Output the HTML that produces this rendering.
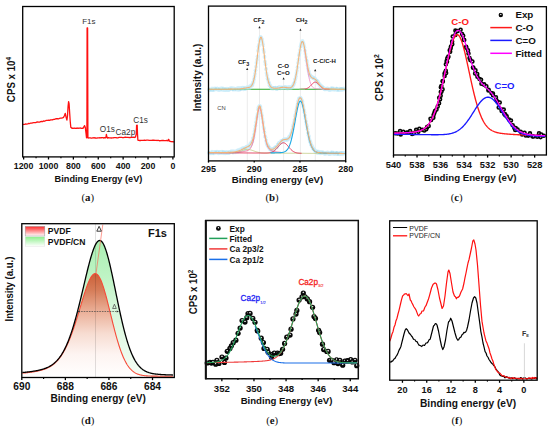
<!DOCTYPE html><html><head><meta charset="utf-8"><style>html,body{margin:0;padding:0;background:#fff;}svg{display:block;}</style></head><body><svg width="550" height="430" viewBox="0 0 550 430">
<rect width="550" height="430" fill="#fff"/>
<polyline points="22.7,124.59 23.7,124.32 24.69,124.46 25.68,123.94 26.68,124.05 27.67,123.78 28.67,123.43 29.66,123.53 30.66,123.08 31.66,123.15 32.65,122.77 33.64,122.61 34.64,122.64 35.63,122.72 36.63,122.13 37.62,122.02 38.62,122.1 39.61,122.12 40.61,121.73 41.6,121.46 42.6,121.64 43.59,120.91 44.59,121.23 45.58,120.72 46.58,120.47 47.57,120.28 48.57,120.23 49.56,120.37 50.56,119.82 51.55,119.89 52.55,119.76 53.55,119.43 54.54,119.37 55.53,118.91 56.53,118.74 57.53,118.66 58.52,118.78 59.52,118.46 60.51,118.22 61.5,118.22 62.5,117.97 63.5,117.4 64.4,115.8 65.3,113.3 66,116.8 66.9,120.2 67.5,116 68.1,106 68.6,101.6 69.1,104 69.6,112 70.2,121 70.8,127.2 72,128.3 72.2,128.1 72.75,128.35 73.3,128.3 73.85,128.07 74.4,128.24 74.95,128.21 75.5,128.39 76.05,128.31 76.6,128.09 77.15,128.44 77.7,128.01 78.25,128.16 78.8,128.33 79.35,128.03 79.9,128.19 80.45,127.97 81,128.28 81.55,128.33 82.1,128.24 82.65,128.39 83.2,128.11 84,126.6 84.6,125.6 85.3,127.5 86.1,134 86.5,137.6 86.9,137.8 87.1,28 87.6,28 87.9,137.8 88.2,138 88.93,137.95 89.66,137.94 90.39,137.88 91.12,138.07 91.85,138.12 92.58,137.89 93.3,137.98 94.03,137.68 94.76,138 95.49,137.97 96.22,138.15 96.95,138.06 97.68,137.79 98.41,137.84 99.14,137.98 99.87,137.66 100.6,137.88 101.33,137.73 102.05,137.71 102.78,137.68 103.51,138.03 104.24,137.71 104.97,137.77 105.7,137.85 106.1,136.5 106.4,134.4 106.8,136.8 107.3,137.9 107.5,138.09 108.44,137.67 109.38,137.83 110.32,137.86 111.27,138.01 112.21,137.96 113.15,137.96 114.09,137.64 115.03,137.69 115.97,137.64 116.91,137.88 117.86,137.9 118.8,137.47 119.74,137.47 120.68,137.47 121.62,137.45 122.56,137.56 123.5,137.59 124.44,137.4 125.39,137.25 126.33,137.44 127.27,137.4 128.21,137.47 129.15,137.65 130.09,137.49 131.03,137.38 131.98,137.41 132.92,137.42 133.86,137.09 134.8,137.49 135.5,137 136.3,134 136.6,125.3 137.2,125.1 137.5,134 137.9,140.2 138.5,140.44 139.68,140.5 140.86,140.48 142.04,140.29 143.22,140.31 144.4,140.18 145.58,140.46 146.76,140.19 147.94,140.21 149.12,140.3 150.3,140.29 151.48,140.39 152.66,140.27 153.84,140.25 155.02,140.35 156.2,140.34 157.38,140.48 158.56,140.33 159.74,140.77 160.92,140.66 162.1,140.44 163.28,140.51 164.46,140.57 165.64,140.59 166.82,140.49 168,140.87 168.5,139.3 168.9,139.6 169.4,141.2 171,141.5 174.2,141.8" fill="none" stroke="#ff1010" stroke-width="1.3" stroke-linejoin="round" />
<rect x="22.7" y="6.5" width="151.5" height="150.4" fill="none" stroke="#000" stroke-width="1.3"/>
<line x1="23.62" y1="156.9" x2="23.62" y2="159.5" stroke="#000" stroke-width="1.3" />
<line x1="48.5" y1="156.9" x2="48.5" y2="159.5" stroke="#000" stroke-width="1.3" />
<line x1="73.38" y1="156.9" x2="73.38" y2="159.5" stroke="#000" stroke-width="1.3" />
<line x1="98.26" y1="156.9" x2="98.26" y2="159.5" stroke="#000" stroke-width="1.3" />
<line x1="123.14" y1="156.9" x2="123.14" y2="159.5" stroke="#000" stroke-width="1.3" />
<line x1="148.02" y1="156.9" x2="148.02" y2="159.5" stroke="#000" stroke-width="1.3" />
<line x1="172.9" y1="156.9" x2="172.9" y2="159.5" stroke="#000" stroke-width="1.3" />
<line x1="36.06" y1="156.9" x2="36.06" y2="158.3" stroke="#000" stroke-width="1.1700000000000002" />
<line x1="60.94" y1="156.9" x2="60.94" y2="158.3" stroke="#000" stroke-width="1.1700000000000002" />
<line x1="85.82" y1="156.9" x2="85.82" y2="158.3" stroke="#000" stroke-width="1.1700000000000002" />
<line x1="110.7" y1="156.9" x2="110.7" y2="158.3" stroke="#000" stroke-width="1.1700000000000002" />
<line x1="135.58" y1="156.9" x2="135.58" y2="158.3" stroke="#000" stroke-width="1.1700000000000002" />
<line x1="160.46" y1="156.9" x2="160.46" y2="158.3" stroke="#000" stroke-width="1.1700000000000002" />
<text x="23.62" y="169" font-family="Liberation Sans, sans-serif" font-size="8.8" font-weight="bold" fill="#111" text-anchor="middle" >1200</text>
<text x="48.5" y="169" font-family="Liberation Sans, sans-serif" font-size="8.8" font-weight="bold" fill="#111" text-anchor="middle" >1000</text>
<text x="73.38" y="169" font-family="Liberation Sans, sans-serif" font-size="8.8" font-weight="bold" fill="#111" text-anchor="middle" >800</text>
<text x="98.26" y="169" font-family="Liberation Sans, sans-serif" font-size="8.8" font-weight="bold" fill="#111" text-anchor="middle" >600</text>
<text x="123.14" y="169" font-family="Liberation Sans, sans-serif" font-size="8.8" font-weight="bold" fill="#111" text-anchor="middle" >400</text>
<text x="148.02" y="169" font-family="Liberation Sans, sans-serif" font-size="8.8" font-weight="bold" fill="#111" text-anchor="middle" >200</text>
<text x="172.9" y="169" font-family="Liberation Sans, sans-serif" font-size="8.8" font-weight="bold" fill="#111" text-anchor="middle" >0</text>
<text x="98.5" y="182.3" font-family="Liberation Sans, sans-serif" font-size="9.2" font-weight="bold" fill="#111" text-anchor="middle" >Binding Energy (eV)</text>
<text x="0" y="0" transform="translate(14.6 79.5) rotate(-90) scale(1 1.06)" font-family="Liberation Sans, sans-serif" font-size="9.75" font-weight="bold" fill="#111" text-anchor="middle" >CPS x 10<tspan font-size="6.5" dy="-3.6">4</tspan></text>
<text x="88.8" y="24.1" font-family="Liberation Sans, sans-serif" font-size="8.0" font-weight="normal" fill="#333" text-anchor="middle" >F1s</text>
<text x="107.3" y="132.3" font-family="Liberation Sans, sans-serif" font-size="8.2" font-weight="normal" fill="#333" text-anchor="middle" >O1s</text>
<text x="125.4" y="135.2" font-family="Liberation Sans, sans-serif" font-size="8.2" font-weight="normal" fill="#333" text-anchor="middle" >Ca2p</text>
<text x="140.5" y="122.8" font-family="Liberation Sans, sans-serif" font-size="8.2" font-weight="normal" fill="#333" text-anchor="middle" >C1s</text>
<line x1="247.3" y1="69" x2="247.3" y2="160.9" stroke="#dedede" stroke-width="0.6" />
<line x1="259.5" y1="28" x2="259.5" y2="160.9" stroke="#dedede" stroke-width="0.6" />
<line x1="283.6" y1="79" x2="283.6" y2="160.9" stroke="#dedede" stroke-width="0.6" />
<line x1="300.4" y1="30" x2="300.4" y2="160.9" stroke="#dedede" stroke-width="0.6" />
<line x1="315.3" y1="71" x2="315.3" y2="160.9" stroke="#dedede" stroke-width="0.6" />
<line x1="209.1" y1="89.3" x2="345.1" y2="89.3" stroke="#48b848" stroke-width="1.0" />
<circle cx="209" cy="89.45" r="1.9" fill="#cdeefa" opacity="0.8"/>
<circle cx="209.5" cy="89.67" r="1.9" fill="#cdeefa" opacity="0.8"/>
<circle cx="210" cy="89.76" r="1.9" fill="#cdeefa" opacity="0.8"/>
<circle cx="210.5" cy="90.03" r="1.9" fill="#cdeefa" opacity="0.8"/>
<circle cx="211" cy="89.66" r="1.9" fill="#cdeefa" opacity="0.8"/>
<circle cx="211.5" cy="89.99" r="1.9" fill="#cdeefa" opacity="0.8"/>
<circle cx="212" cy="88.38" r="1.9" fill="#cdeefa" opacity="0.8"/>
<circle cx="212.5" cy="89.16" r="1.9" fill="#cdeefa" opacity="0.8"/>
<circle cx="213" cy="90.02" r="1.9" fill="#cdeefa" opacity="0.8"/>
<circle cx="213.5" cy="89.49" r="1.9" fill="#cdeefa" opacity="0.8"/>
<circle cx="214" cy="89.94" r="1.9" fill="#cdeefa" opacity="0.8"/>
<circle cx="214.5" cy="88.52" r="1.9" fill="#cdeefa" opacity="0.8"/>
<circle cx="215" cy="89.16" r="1.9" fill="#cdeefa" opacity="0.8"/>
<circle cx="215.5" cy="88.76" r="1.9" fill="#cdeefa" opacity="0.8"/>
<circle cx="216" cy="89.29" r="1.9" fill="#cdeefa" opacity="0.8"/>
<circle cx="216.5" cy="89.34" r="1.9" fill="#cdeefa" opacity="0.8"/>
<circle cx="217" cy="88.33" r="1.9" fill="#cdeefa" opacity="0.8"/>
<circle cx="217.5" cy="88.7" r="1.9" fill="#cdeefa" opacity="0.8"/>
<circle cx="218" cy="88.81" r="1.9" fill="#cdeefa" opacity="0.8"/>
<circle cx="218.5" cy="89.95" r="1.9" fill="#cdeefa" opacity="0.8"/>
<circle cx="219" cy="89.68" r="1.9" fill="#cdeefa" opacity="0.8"/>
<circle cx="219.5" cy="88.59" r="1.9" fill="#cdeefa" opacity="0.8"/>
<circle cx="220" cy="89.73" r="1.9" fill="#cdeefa" opacity="0.8"/>
<circle cx="220.5" cy="88.54" r="1.9" fill="#cdeefa" opacity="0.8"/>
<circle cx="221" cy="89.4" r="1.9" fill="#cdeefa" opacity="0.8"/>
<circle cx="221.5" cy="88.52" r="1.9" fill="#cdeefa" opacity="0.8"/>
<circle cx="222" cy="88.29" r="1.9" fill="#cdeefa" opacity="0.8"/>
<circle cx="222.5" cy="89.85" r="1.9" fill="#cdeefa" opacity="0.8"/>
<circle cx="223" cy="88.66" r="1.9" fill="#cdeefa" opacity="0.8"/>
<circle cx="223.5" cy="88.67" r="1.9" fill="#cdeefa" opacity="0.8"/>
<circle cx="224" cy="90.04" r="1.9" fill="#cdeefa" opacity="0.8"/>
<circle cx="224.5" cy="89.84" r="1.9" fill="#cdeefa" opacity="0.8"/>
<circle cx="225" cy="88.79" r="1.9" fill="#cdeefa" opacity="0.8"/>
<circle cx="225.5" cy="90" r="1.9" fill="#cdeefa" opacity="0.8"/>
<circle cx="226" cy="89.23" r="1.9" fill="#cdeefa" opacity="0.8"/>
<circle cx="226.5" cy="89.48" r="1.9" fill="#cdeefa" opacity="0.8"/>
<circle cx="227" cy="88.62" r="1.9" fill="#cdeefa" opacity="0.8"/>
<circle cx="227.5" cy="89.94" r="1.9" fill="#cdeefa" opacity="0.8"/>
<circle cx="228" cy="89.49" r="1.9" fill="#cdeefa" opacity="0.8"/>
<circle cx="228.5" cy="89.98" r="1.9" fill="#cdeefa" opacity="0.8"/>
<circle cx="229" cy="89.85" r="1.9" fill="#cdeefa" opacity="0.8"/>
<circle cx="229.5" cy="88.77" r="1.9" fill="#cdeefa" opacity="0.8"/>
<circle cx="230" cy="88.88" r="1.9" fill="#cdeefa" opacity="0.8"/>
<circle cx="230.5" cy="88.52" r="1.9" fill="#cdeefa" opacity="0.8"/>
<circle cx="231" cy="88.48" r="1.9" fill="#cdeefa" opacity="0.8"/>
<circle cx="231.5" cy="88.33" r="1.9" fill="#cdeefa" opacity="0.8"/>
<circle cx="232" cy="88.75" r="1.9" fill="#cdeefa" opacity="0.8"/>
<circle cx="232.5" cy="89.28" r="1.9" fill="#cdeefa" opacity="0.8"/>
<circle cx="233" cy="88.2" r="1.9" fill="#cdeefa" opacity="0.8"/>
<circle cx="233.5" cy="89.4" r="1.9" fill="#cdeefa" opacity="0.8"/>
<circle cx="234" cy="88.78" r="1.9" fill="#cdeefa" opacity="0.8"/>
<circle cx="234.5" cy="88.73" r="1.9" fill="#cdeefa" opacity="0.8"/>
<circle cx="235" cy="89.63" r="1.9" fill="#cdeefa" opacity="0.8"/>
<circle cx="235.5" cy="89.02" r="1.9" fill="#cdeefa" opacity="0.8"/>
<circle cx="236" cy="88.71" r="1.9" fill="#cdeefa" opacity="0.8"/>
<circle cx="236.5" cy="89" r="1.9" fill="#cdeefa" opacity="0.8"/>
<circle cx="237" cy="89.38" r="1.9" fill="#cdeefa" opacity="0.8"/>
<circle cx="237.5" cy="88.2" r="1.9" fill="#cdeefa" opacity="0.8"/>
<circle cx="238" cy="89.84" r="1.9" fill="#cdeefa" opacity="0.8"/>
<circle cx="238.5" cy="88.11" r="1.9" fill="#cdeefa" opacity="0.8"/>
<circle cx="239" cy="89.39" r="1.9" fill="#cdeefa" opacity="0.8"/>
<circle cx="239.5" cy="89.53" r="1.9" fill="#cdeefa" opacity="0.8"/>
<circle cx="240" cy="88.01" r="1.9" fill="#cdeefa" opacity="0.8"/>
<circle cx="240.5" cy="89.35" r="1.9" fill="#cdeefa" opacity="0.8"/>
<circle cx="241" cy="88.54" r="1.9" fill="#cdeefa" opacity="0.8"/>
<circle cx="241.5" cy="88.87" r="1.9" fill="#cdeefa" opacity="0.8"/>
<circle cx="242" cy="87.78" r="1.9" fill="#cdeefa" opacity="0.8"/>
<circle cx="242.5" cy="87.77" r="1.9" fill="#cdeefa" opacity="0.8"/>
<circle cx="243" cy="87.92" r="1.9" fill="#cdeefa" opacity="0.8"/>
<circle cx="243.5" cy="89.23" r="1.9" fill="#cdeefa" opacity="0.8"/>
<circle cx="244" cy="87.76" r="1.9" fill="#cdeefa" opacity="0.8"/>
<circle cx="244.5" cy="88.67" r="1.9" fill="#cdeefa" opacity="0.8"/>
<circle cx="245" cy="88.88" r="1.9" fill="#cdeefa" opacity="0.8"/>
<circle cx="245.5" cy="88.8" r="1.9" fill="#cdeefa" opacity="0.8"/>
<circle cx="246" cy="87.63" r="1.9" fill="#cdeefa" opacity="0.8"/>
<circle cx="246.5" cy="87.56" r="1.9" fill="#cdeefa" opacity="0.8"/>
<circle cx="247" cy="87.78" r="1.9" fill="#cdeefa" opacity="0.8"/>
<circle cx="247.5" cy="88.15" r="1.9" fill="#cdeefa" opacity="0.8"/>
<circle cx="248" cy="86.87" r="1.9" fill="#cdeefa" opacity="0.8"/>
<circle cx="248.5" cy="87.93" r="1.9" fill="#cdeefa" opacity="0.8"/>
<circle cx="249" cy="87.9" r="1.9" fill="#cdeefa" opacity="0.8"/>
<circle cx="249.5" cy="87.86" r="1.9" fill="#cdeefa" opacity="0.8"/>
<circle cx="250" cy="86.17" r="1.9" fill="#cdeefa" opacity="0.8"/>
<circle cx="250.5" cy="87.51" r="1.9" fill="#cdeefa" opacity="0.8"/>
<circle cx="251" cy="85.56" r="1.9" fill="#cdeefa" opacity="0.8"/>
<circle cx="251.5" cy="85.45" r="1.9" fill="#cdeefa" opacity="0.8"/>
<circle cx="252" cy="85.18" r="1.9" fill="#cdeefa" opacity="0.8"/>
<circle cx="252.5" cy="84.74" r="1.9" fill="#cdeefa" opacity="0.8"/>
<circle cx="253" cy="82.43" r="1.9" fill="#cdeefa" opacity="0.8"/>
<circle cx="253.5" cy="81.88" r="1.9" fill="#cdeefa" opacity="0.8"/>
<circle cx="254" cy="79.24" r="1.9" fill="#cdeefa" opacity="0.8"/>
<circle cx="254.5" cy="76.47" r="1.9" fill="#cdeefa" opacity="0.8"/>
<circle cx="255" cy="73.73" r="1.9" fill="#cdeefa" opacity="0.8"/>
<circle cx="255.5" cy="70.33" r="1.9" fill="#cdeefa" opacity="0.8"/>
<circle cx="256" cy="66.63" r="1.9" fill="#cdeefa" opacity="0.8"/>
<circle cx="256.5" cy="62.94" r="1.9" fill="#cdeefa" opacity="0.8"/>
<circle cx="257" cy="59.87" r="1.9" fill="#cdeefa" opacity="0.8"/>
<circle cx="257.5" cy="56.28" r="1.9" fill="#cdeefa" opacity="0.8"/>
<circle cx="258" cy="50.67" r="1.9" fill="#cdeefa" opacity="0.8"/>
<circle cx="258.5" cy="46.57" r="1.9" fill="#cdeefa" opacity="0.8"/>
<circle cx="259" cy="44.75" r="1.9" fill="#cdeefa" opacity="0.8"/>
<circle cx="259.5" cy="41" r="1.9" fill="#cdeefa" opacity="0.8"/>
<circle cx="260" cy="38.58" r="1.9" fill="#cdeefa" opacity="0.8"/>
<circle cx="260.5" cy="36.99" r="1.9" fill="#cdeefa" opacity="0.8"/>
<circle cx="261" cy="37.32" r="1.9" fill="#cdeefa" opacity="0.8"/>
<circle cx="261.5" cy="38.45" r="1.9" fill="#cdeefa" opacity="0.8"/>
<circle cx="262" cy="39.44" r="1.9" fill="#cdeefa" opacity="0.8"/>
<circle cx="262.5" cy="41.89" r="1.9" fill="#cdeefa" opacity="0.8"/>
<circle cx="263" cy="44.41" r="1.9" fill="#cdeefa" opacity="0.8"/>
<circle cx="263.5" cy="49.65" r="1.9" fill="#cdeefa" opacity="0.8"/>
<circle cx="264" cy="52.06" r="1.9" fill="#cdeefa" opacity="0.8"/>
<circle cx="264.5" cy="57.03" r="1.9" fill="#cdeefa" opacity="0.8"/>
<circle cx="265" cy="61.77" r="1.9" fill="#cdeefa" opacity="0.8"/>
<circle cx="265.5" cy="64.46" r="1.9" fill="#cdeefa" opacity="0.8"/>
<circle cx="266" cy="69.26" r="1.9" fill="#cdeefa" opacity="0.8"/>
<circle cx="266.5" cy="73.04" r="1.9" fill="#cdeefa" opacity="0.8"/>
<circle cx="267" cy="75.48" r="1.9" fill="#cdeefa" opacity="0.8"/>
<circle cx="267.5" cy="78.38" r="1.9" fill="#cdeefa" opacity="0.8"/>
<circle cx="268" cy="79.38" r="1.9" fill="#cdeefa" opacity="0.8"/>
<circle cx="268.5" cy="81.82" r="1.9" fill="#cdeefa" opacity="0.8"/>
<circle cx="269" cy="82.81" r="1.9" fill="#cdeefa" opacity="0.8"/>
<circle cx="269.5" cy="85.27" r="1.9" fill="#cdeefa" opacity="0.8"/>
<circle cx="270" cy="85.23" r="1.9" fill="#cdeefa" opacity="0.8"/>
<circle cx="270.5" cy="86.25" r="1.9" fill="#cdeefa" opacity="0.8"/>
<circle cx="271" cy="87.79" r="1.9" fill="#cdeefa" opacity="0.8"/>
<circle cx="271.5" cy="87.95" r="1.9" fill="#cdeefa" opacity="0.8"/>
<circle cx="272" cy="88.48" r="1.9" fill="#cdeefa" opacity="0.8"/>
<circle cx="272.5" cy="87.77" r="1.9" fill="#cdeefa" opacity="0.8"/>
<circle cx="273" cy="87.99" r="1.9" fill="#cdeefa" opacity="0.8"/>
<circle cx="273.5" cy="88.54" r="1.9" fill="#cdeefa" opacity="0.8"/>
<circle cx="274" cy="88.16" r="1.9" fill="#cdeefa" opacity="0.8"/>
<circle cx="274.5" cy="87.87" r="1.9" fill="#cdeefa" opacity="0.8"/>
<circle cx="275" cy="88.09" r="1.9" fill="#cdeefa" opacity="0.8"/>
<circle cx="275.5" cy="87.63" r="1.9" fill="#cdeefa" opacity="0.8"/>
<circle cx="276" cy="88.03" r="1.9" fill="#cdeefa" opacity="0.8"/>
<circle cx="276.5" cy="89.1" r="1.9" fill="#cdeefa" opacity="0.8"/>
<circle cx="277" cy="89.01" r="1.9" fill="#cdeefa" opacity="0.8"/>
<circle cx="277.5" cy="88.35" r="1.9" fill="#cdeefa" opacity="0.8"/>
<circle cx="278" cy="88.06" r="1.9" fill="#cdeefa" opacity="0.8"/>
<circle cx="278.5" cy="87.69" r="1.9" fill="#cdeefa" opacity="0.8"/>
<circle cx="279" cy="87.16" r="1.9" fill="#cdeefa" opacity="0.8"/>
<circle cx="279.5" cy="87.41" r="1.9" fill="#cdeefa" opacity="0.8"/>
<circle cx="280" cy="88.24" r="1.9" fill="#cdeefa" opacity="0.8"/>
<circle cx="280.5" cy="88.3" r="1.9" fill="#cdeefa" opacity="0.8"/>
<circle cx="281" cy="87.31" r="1.9" fill="#cdeefa" opacity="0.8"/>
<circle cx="281.5" cy="88" r="1.9" fill="#cdeefa" opacity="0.8"/>
<circle cx="282" cy="87.92" r="1.9" fill="#cdeefa" opacity="0.8"/>
<circle cx="282.5" cy="87.73" r="1.9" fill="#cdeefa" opacity="0.8"/>
<circle cx="283" cy="87.64" r="1.9" fill="#cdeefa" opacity="0.8"/>
<circle cx="283.5" cy="87.8" r="1.9" fill="#cdeefa" opacity="0.8"/>
<circle cx="284" cy="87.09" r="1.9" fill="#cdeefa" opacity="0.8"/>
<circle cx="284.5" cy="87.72" r="1.9" fill="#cdeefa" opacity="0.8"/>
<circle cx="285" cy="86.99" r="1.9" fill="#cdeefa" opacity="0.8"/>
<circle cx="285.5" cy="87.41" r="1.9" fill="#cdeefa" opacity="0.8"/>
<circle cx="286" cy="87.98" r="1.9" fill="#cdeefa" opacity="0.8"/>
<circle cx="286.5" cy="87.91" r="1.9" fill="#cdeefa" opacity="0.8"/>
<circle cx="287" cy="87.26" r="1.9" fill="#cdeefa" opacity="0.8"/>
<circle cx="287.5" cy="88.5" r="1.9" fill="#cdeefa" opacity="0.8"/>
<circle cx="288" cy="88.02" r="1.9" fill="#cdeefa" opacity="0.8"/>
<circle cx="288.5" cy="87.94" r="1.9" fill="#cdeefa" opacity="0.8"/>
<circle cx="289" cy="86.93" r="1.9" fill="#cdeefa" opacity="0.8"/>
<circle cx="289.5" cy="87.88" r="1.9" fill="#cdeefa" opacity="0.8"/>
<circle cx="290" cy="87.28" r="1.9" fill="#cdeefa" opacity="0.8"/>
<circle cx="290.5" cy="87.92" r="1.9" fill="#cdeefa" opacity="0.8"/>
<circle cx="291" cy="87.34" r="1.9" fill="#cdeefa" opacity="0.8"/>
<circle cx="291.5" cy="87.69" r="1.9" fill="#cdeefa" opacity="0.8"/>
<circle cx="292" cy="86.97" r="1.9" fill="#cdeefa" opacity="0.8"/>
<circle cx="292.5" cy="86.67" r="1.9" fill="#cdeefa" opacity="0.8"/>
<circle cx="293" cy="85.12" r="1.9" fill="#cdeefa" opacity="0.8"/>
<circle cx="293.5" cy="84.7" r="1.9" fill="#cdeefa" opacity="0.8"/>
<circle cx="294" cy="83.67" r="1.9" fill="#cdeefa" opacity="0.8"/>
<circle cx="294.5" cy="82.37" r="1.9" fill="#cdeefa" opacity="0.8"/>
<circle cx="295" cy="79.73" r="1.9" fill="#cdeefa" opacity="0.8"/>
<circle cx="295.5" cy="78.53" r="1.9" fill="#cdeefa" opacity="0.8"/>
<circle cx="296" cy="76.16" r="1.9" fill="#cdeefa" opacity="0.8"/>
<circle cx="296.5" cy="73.1" r="1.9" fill="#cdeefa" opacity="0.8"/>
<circle cx="297" cy="70.59" r="1.9" fill="#cdeefa" opacity="0.8"/>
<circle cx="297.5" cy="67.28" r="1.9" fill="#cdeefa" opacity="0.8"/>
<circle cx="298" cy="63.02" r="1.9" fill="#cdeefa" opacity="0.8"/>
<circle cx="298.5" cy="59.48" r="1.9" fill="#cdeefa" opacity="0.8"/>
<circle cx="299" cy="55.27" r="1.9" fill="#cdeefa" opacity="0.8"/>
<circle cx="299.5" cy="53.05" r="1.9" fill="#cdeefa" opacity="0.8"/>
<circle cx="300" cy="50.06" r="1.9" fill="#cdeefa" opacity="0.8"/>
<circle cx="300.5" cy="46.44" r="1.9" fill="#cdeefa" opacity="0.8"/>
<circle cx="301" cy="44.56" r="1.9" fill="#cdeefa" opacity="0.8"/>
<circle cx="301.5" cy="42.96" r="1.9" fill="#cdeefa" opacity="0.8"/>
<circle cx="302" cy="42.05" r="1.9" fill="#cdeefa" opacity="0.8"/>
<circle cx="302.5" cy="40.88" r="1.9" fill="#cdeefa" opacity="0.8"/>
<circle cx="303" cy="42.56" r="1.9" fill="#cdeefa" opacity="0.8"/>
<circle cx="303.5" cy="43.51" r="1.9" fill="#cdeefa" opacity="0.8"/>
<circle cx="304" cy="45.59" r="1.9" fill="#cdeefa" opacity="0.8"/>
<circle cx="304.5" cy="47.59" r="1.9" fill="#cdeefa" opacity="0.8"/>
<circle cx="305" cy="50.78" r="1.9" fill="#cdeefa" opacity="0.8"/>
<circle cx="305.5" cy="54.11" r="1.9" fill="#cdeefa" opacity="0.8"/>
<circle cx="306" cy="57.03" r="1.9" fill="#cdeefa" opacity="0.8"/>
<circle cx="306.5" cy="60.33" r="1.9" fill="#cdeefa" opacity="0.8"/>
<circle cx="307" cy="62.11" r="1.9" fill="#cdeefa" opacity="0.8"/>
<circle cx="307.5" cy="65.17" r="1.9" fill="#cdeefa" opacity="0.8"/>
<circle cx="308" cy="68.21" r="1.9" fill="#cdeefa" opacity="0.8"/>
<circle cx="308.5" cy="70.81" r="1.9" fill="#cdeefa" opacity="0.8"/>
<circle cx="309" cy="71.93" r="1.9" fill="#cdeefa" opacity="0.8"/>
<circle cx="309.5" cy="74.32" r="1.9" fill="#cdeefa" opacity="0.8"/>
<circle cx="310" cy="75.46" r="1.9" fill="#cdeefa" opacity="0.8"/>
<circle cx="310.5" cy="75.36" r="1.9" fill="#cdeefa" opacity="0.8"/>
<circle cx="311" cy="76.84" r="1.9" fill="#cdeefa" opacity="0.8"/>
<circle cx="311.5" cy="76.91" r="1.9" fill="#cdeefa" opacity="0.8"/>
<circle cx="312" cy="76.96" r="1.9" fill="#cdeefa" opacity="0.8"/>
<circle cx="312.5" cy="77.37" r="1.9" fill="#cdeefa" opacity="0.8"/>
<circle cx="313" cy="77.91" r="1.9" fill="#cdeefa" opacity="0.8"/>
<circle cx="313.5" cy="77.86" r="1.9" fill="#cdeefa" opacity="0.8"/>
<circle cx="314" cy="78.09" r="1.9" fill="#cdeefa" opacity="0.8"/>
<circle cx="314.5" cy="78.07" r="1.9" fill="#cdeefa" opacity="0.8"/>
<circle cx="315" cy="79.17" r="1.9" fill="#cdeefa" opacity="0.8"/>
<circle cx="315.5" cy="79.42" r="1.9" fill="#cdeefa" opacity="0.8"/>
<circle cx="316" cy="80.33" r="1.9" fill="#cdeefa" opacity="0.8"/>
<circle cx="316.5" cy="80.85" r="1.9" fill="#cdeefa" opacity="0.8"/>
<circle cx="317" cy="80.84" r="1.9" fill="#cdeefa" opacity="0.8"/>
<circle cx="317.5" cy="82.7" r="1.9" fill="#cdeefa" opacity="0.8"/>
<circle cx="318" cy="81.77" r="1.9" fill="#cdeefa" opacity="0.8"/>
<circle cx="318.5" cy="83.19" r="1.9" fill="#cdeefa" opacity="0.8"/>
<circle cx="319" cy="83.65" r="1.9" fill="#cdeefa" opacity="0.8"/>
<circle cx="319.5" cy="84.55" r="1.9" fill="#cdeefa" opacity="0.8"/>
<circle cx="320" cy="84.65" r="1.9" fill="#cdeefa" opacity="0.8"/>
<circle cx="320.5" cy="86.51" r="1.9" fill="#cdeefa" opacity="0.8"/>
<circle cx="321" cy="86.21" r="1.9" fill="#cdeefa" opacity="0.8"/>
<circle cx="321.5" cy="86.07" r="1.9" fill="#cdeefa" opacity="0.8"/>
<circle cx="322" cy="87.51" r="1.9" fill="#cdeefa" opacity="0.8"/>
<circle cx="322.5" cy="86.92" r="1.9" fill="#cdeefa" opacity="0.8"/>
<circle cx="323" cy="88.02" r="1.9" fill="#cdeefa" opacity="0.8"/>
<circle cx="323.5" cy="87.89" r="1.9" fill="#cdeefa" opacity="0.8"/>
<circle cx="324" cy="88.52" r="1.9" fill="#cdeefa" opacity="0.8"/>
<circle cx="324.5" cy="89.36" r="1.9" fill="#cdeefa" opacity="0.8"/>
<circle cx="325" cy="89.23" r="1.9" fill="#cdeefa" opacity="0.8"/>
<circle cx="325.5" cy="88.61" r="1.9" fill="#cdeefa" opacity="0.8"/>
<circle cx="326" cy="89.4" r="1.9" fill="#cdeefa" opacity="0.8"/>
<circle cx="326.5" cy="89.15" r="1.9" fill="#cdeefa" opacity="0.8"/>
<circle cx="327" cy="88.71" r="1.9" fill="#cdeefa" opacity="0.8"/>
<circle cx="327.5" cy="88.33" r="1.9" fill="#cdeefa" opacity="0.8"/>
<circle cx="328" cy="89.18" r="1.9" fill="#cdeefa" opacity="0.8"/>
<circle cx="328.5" cy="89.14" r="1.9" fill="#cdeefa" opacity="0.8"/>
<circle cx="329" cy="89.87" r="1.9" fill="#cdeefa" opacity="0.8"/>
<circle cx="329.5" cy="89.9" r="1.9" fill="#cdeefa" opacity="0.8"/>
<circle cx="330" cy="89.27" r="1.9" fill="#cdeefa" opacity="0.8"/>
<circle cx="330.5" cy="88.81" r="1.9" fill="#cdeefa" opacity="0.8"/>
<circle cx="331" cy="89.8" r="1.9" fill="#cdeefa" opacity="0.8"/>
<circle cx="331.5" cy="88.2" r="1.9" fill="#cdeefa" opacity="0.8"/>
<circle cx="332" cy="88.4" r="1.9" fill="#cdeefa" opacity="0.8"/>
<circle cx="332.5" cy="89.23" r="1.9" fill="#cdeefa" opacity="0.8"/>
<circle cx="333" cy="89.33" r="1.9" fill="#cdeefa" opacity="0.8"/>
<circle cx="333.5" cy="88.48" r="1.9" fill="#cdeefa" opacity="0.8"/>
<circle cx="334" cy="89.36" r="1.9" fill="#cdeefa" opacity="0.8"/>
<circle cx="334.5" cy="89.84" r="1.9" fill="#cdeefa" opacity="0.8"/>
<circle cx="335" cy="88.92" r="1.9" fill="#cdeefa" opacity="0.8"/>
<circle cx="335.5" cy="89.02" r="1.9" fill="#cdeefa" opacity="0.8"/>
<circle cx="336" cy="88.66" r="1.9" fill="#cdeefa" opacity="0.8"/>
<circle cx="336.5" cy="88.78" r="1.9" fill="#cdeefa" opacity="0.8"/>
<circle cx="337" cy="90.01" r="1.9" fill="#cdeefa" opacity="0.8"/>
<circle cx="337.5" cy="88.95" r="1.9" fill="#cdeefa" opacity="0.8"/>
<circle cx="338" cy="90" r="1.9" fill="#cdeefa" opacity="0.8"/>
<circle cx="338.5" cy="89.92" r="1.9" fill="#cdeefa" opacity="0.8"/>
<circle cx="339" cy="89.35" r="1.9" fill="#cdeefa" opacity="0.8"/>
<circle cx="339.5" cy="88.75" r="1.9" fill="#cdeefa" opacity="0.8"/>
<circle cx="340" cy="90.05" r="1.9" fill="#cdeefa" opacity="0.8"/>
<circle cx="340.5" cy="89.18" r="1.9" fill="#cdeefa" opacity="0.8"/>
<circle cx="341" cy="89.04" r="1.9" fill="#cdeefa" opacity="0.8"/>
<circle cx="341.5" cy="88.86" r="1.9" fill="#cdeefa" opacity="0.8"/>
<circle cx="342" cy="90.06" r="1.9" fill="#cdeefa" opacity="0.8"/>
<circle cx="342.5" cy="89.18" r="1.9" fill="#cdeefa" opacity="0.8"/>
<circle cx="343" cy="88.81" r="1.9" fill="#cdeefa" opacity="0.8"/>
<circle cx="343.5" cy="89.16" r="1.9" fill="#cdeefa" opacity="0.8"/>
<circle cx="344" cy="88.52" r="1.9" fill="#cdeefa" opacity="0.8"/>
<circle cx="344.5" cy="89.42" r="1.9" fill="#cdeefa" opacity="0.8"/>
<circle cx="208.93" cy="88.65" r="0.9" fill="#ade0f3" opacity="0.8"/>
<circle cx="210.84" cy="90.14" r="0.9" fill="#ade0f3" opacity="0.8"/>
<circle cx="211.42" cy="89.32" r="0.9" fill="#ade0f3" opacity="0.8"/>
<circle cx="213.23" cy="90.44" r="0.9" fill="#ade0f3" opacity="0.8"/>
<circle cx="215.34" cy="88.5" r="0.9" fill="#ade0f3" opacity="0.8"/>
<circle cx="216.22" cy="88.24" r="0.9" fill="#ade0f3" opacity="0.8"/>
<circle cx="218.59" cy="88.63" r="0.9" fill="#ade0f3" opacity="0.8"/>
<circle cx="219.63" cy="89.13" r="0.9" fill="#ade0f3" opacity="0.8"/>
<circle cx="221.17" cy="89.48" r="0.9" fill="#ade0f3" opacity="0.8"/>
<circle cx="222.79" cy="88.11" r="0.9" fill="#ade0f3" opacity="0.8"/>
<circle cx="224.31" cy="88.62" r="0.9" fill="#ade0f3" opacity="0.8"/>
<circle cx="225.54" cy="88.71" r="0.9" fill="#ade0f3" opacity="0.8"/>
<circle cx="226.76" cy="89.24" r="0.9" fill="#ade0f3" opacity="0.8"/>
<circle cx="228.46" cy="88.75" r="0.9" fill="#ade0f3" opacity="0.8"/>
<circle cx="230.29" cy="89.38" r="0.9" fill="#ade0f3" opacity="0.8"/>
<circle cx="230.94" cy="88.42" r="0.9" fill="#ade0f3" opacity="0.8"/>
<circle cx="232.95" cy="90.26" r="0.9" fill="#ade0f3" opacity="0.8"/>
<circle cx="234.97" cy="89.2" r="0.9" fill="#ade0f3" opacity="0.8"/>
<circle cx="235.42" cy="89.82" r="0.9" fill="#ade0f3" opacity="0.8"/>
<circle cx="237.41" cy="89.21" r="0.9" fill="#ade0f3" opacity="0.8"/>
<circle cx="239.25" cy="89.31" r="0.9" fill="#ade0f3" opacity="0.8"/>
<circle cx="240.48" cy="89.99" r="0.9" fill="#ade0f3" opacity="0.8"/>
<circle cx="241.86" cy="88.36" r="0.9" fill="#ade0f3" opacity="0.8"/>
<circle cx="243.92" cy="87.56" r="0.9" fill="#ade0f3" opacity="0.8"/>
<circle cx="244.76" cy="89.03" r="0.9" fill="#ade0f3" opacity="0.8"/>
<circle cx="245.98" cy="88.76" r="0.9" fill="#ade0f3" opacity="0.8"/>
<circle cx="248.23" cy="87.38" r="0.9" fill="#ade0f3" opacity="0.8"/>
<circle cx="249.24" cy="88" r="0.9" fill="#ade0f3" opacity="0.8"/>
<circle cx="251.49" cy="85.3" r="0.9" fill="#ade0f3" opacity="0.8"/>
<circle cx="252.47" cy="84.13" r="0.9" fill="#ade0f3" opacity="0.8"/>
<circle cx="254" cy="78.69" r="0.9" fill="#ade0f3" opacity="0.8"/>
<circle cx="255.08" cy="71.15" r="0.9" fill="#ade0f3" opacity="0.8"/>
<circle cx="257.37" cy="58.32" r="0.9" fill="#ade0f3" opacity="0.8"/>
<circle cx="258.18" cy="48.28" r="0.9" fill="#ade0f3" opacity="0.8"/>
<circle cx="260.35" cy="39.21" r="0.9" fill="#ade0f3" opacity="0.8"/>
<circle cx="260.93" cy="38.48" r="0.9" fill="#ade0f3" opacity="0.8"/>
<circle cx="263.57" cy="46.61" r="0.9" fill="#ade0f3" opacity="0.8"/>
<circle cx="264.74" cy="55.77" r="0.9" fill="#ade0f3" opacity="0.8"/>
<circle cx="266.41" cy="68.06" r="0.9" fill="#ade0f3" opacity="0.8"/>
<circle cx="267.67" cy="79.13" r="0.9" fill="#ade0f3" opacity="0.8"/>
<circle cx="269.25" cy="82.42" r="0.9" fill="#ade0f3" opacity="0.8"/>
<circle cx="270.25" cy="87.51" r="0.9" fill="#ade0f3" opacity="0.8"/>
<circle cx="271.58" cy="87.93" r="0.9" fill="#ade0f3" opacity="0.8"/>
<circle cx="273.4" cy="87.18" r="0.9" fill="#ade0f3" opacity="0.8"/>
<circle cx="275.15" cy="86.99" r="0.9" fill="#ade0f3" opacity="0.8"/>
<circle cx="276.03" cy="87.89" r="0.9" fill="#ade0f3" opacity="0.8"/>
<circle cx="277.49" cy="86.82" r="0.9" fill="#ade0f3" opacity="0.8"/>
<circle cx="279.59" cy="88.49" r="0.9" fill="#ade0f3" opacity="0.8"/>
<circle cx="281.45" cy="86.54" r="0.9" fill="#ade0f3" opacity="0.8"/>
<circle cx="282.42" cy="86.86" r="0.9" fill="#ade0f3" opacity="0.8"/>
<circle cx="284.12" cy="87.31" r="0.9" fill="#ade0f3" opacity="0.8"/>
<circle cx="286.03" cy="87.08" r="0.9" fill="#ade0f3" opacity="0.8"/>
<circle cx="286.47" cy="88.18" r="0.9" fill="#ade0f3" opacity="0.8"/>
<circle cx="288.08" cy="88.16" r="0.9" fill="#ade0f3" opacity="0.8"/>
<circle cx="290.01" cy="88.88" r="0.9" fill="#ade0f3" opacity="0.8"/>
<circle cx="291.57" cy="87.45" r="0.9" fill="#ade0f3" opacity="0.8"/>
<circle cx="292.72" cy="85.54" r="0.9" fill="#ade0f3" opacity="0.8"/>
<circle cx="294.21" cy="82.48" r="0.9" fill="#ade0f3" opacity="0.8"/>
<circle cx="296.02" cy="74.47" r="0.9" fill="#ade0f3" opacity="0.8"/>
<circle cx="297.18" cy="66.09" r="0.9" fill="#ade0f3" opacity="0.8"/>
<circle cx="299.28" cy="54.98" r="0.9" fill="#ade0f3" opacity="0.8"/>
<circle cx="300.76" cy="46.92" r="0.9" fill="#ade0f3" opacity="0.8"/>
<circle cx="301.5" cy="42.11" r="0.9" fill="#ade0f3" opacity="0.8"/>
<circle cx="303.01" cy="42.31" r="0.9" fill="#ade0f3" opacity="0.8"/>
<circle cx="305.11" cy="49.82" r="0.9" fill="#ade0f3" opacity="0.8"/>
<circle cx="306.95" cy="59.88" r="0.9" fill="#ade0f3" opacity="0.8"/>
<circle cx="307.79" cy="69.15" r="0.9" fill="#ade0f3" opacity="0.8"/>
<circle cx="308.94" cy="74.62" r="0.9" fill="#ade0f3" opacity="0.8"/>
<circle cx="310.46" cy="75.91" r="0.9" fill="#ade0f3" opacity="0.8"/>
<circle cx="313.04" cy="78.54" r="0.9" fill="#ade0f3" opacity="0.8"/>
<circle cx="313.67" cy="77.57" r="0.9" fill="#ade0f3" opacity="0.8"/>
<circle cx="316.07" cy="80.1" r="0.9" fill="#ade0f3" opacity="0.8"/>
<circle cx="317.38" cy="80.3" r="0.9" fill="#ade0f3" opacity="0.8"/>
<circle cx="318.65" cy="82.96" r="0.9" fill="#ade0f3" opacity="0.8"/>
<circle cx="319.68" cy="84.87" r="0.9" fill="#ade0f3" opacity="0.8"/>
<circle cx="321.64" cy="86.48" r="0.9" fill="#ade0f3" opacity="0.8"/>
<circle cx="322.86" cy="86.92" r="0.9" fill="#ade0f3" opacity="0.8"/>
<circle cx="324.9" cy="88.95" r="0.9" fill="#ade0f3" opacity="0.8"/>
<circle cx="326.37" cy="88.65" r="0.9" fill="#ade0f3" opacity="0.8"/>
<circle cx="327.92" cy="89.03" r="0.9" fill="#ade0f3" opacity="0.8"/>
<circle cx="329.11" cy="89.25" r="0.9" fill="#ade0f3" opacity="0.8"/>
<circle cx="330.79" cy="88.79" r="0.9" fill="#ade0f3" opacity="0.8"/>
<circle cx="331.52" cy="87.8" r="0.9" fill="#ade0f3" opacity="0.8"/>
<circle cx="333.14" cy="87.84" r="0.9" fill="#ade0f3" opacity="0.8"/>
<circle cx="335.47" cy="89.09" r="0.9" fill="#ade0f3" opacity="0.8"/>
<circle cx="336.81" cy="87.76" r="0.9" fill="#ade0f3" opacity="0.8"/>
<circle cx="337.96" cy="90.26" r="0.9" fill="#ade0f3" opacity="0.8"/>
<circle cx="339.64" cy="88.98" r="0.9" fill="#ade0f3" opacity="0.8"/>
<circle cx="340.96" cy="88.07" r="0.9" fill="#ade0f3" opacity="0.8"/>
<circle cx="342.09" cy="88.24" r="0.9" fill="#ade0f3" opacity="0.8"/>
<circle cx="343.85" cy="88.88" r="0.9" fill="#ade0f3" opacity="0.8"/>
<circle cx="209" cy="152.74" r="1.9" fill="#cdeefa" opacity="0.8"/>
<circle cx="209.5" cy="152.96" r="1.9" fill="#cdeefa" opacity="0.8"/>
<circle cx="210" cy="153.05" r="1.9" fill="#cdeefa" opacity="0.8"/>
<circle cx="210.5" cy="153.32" r="1.9" fill="#cdeefa" opacity="0.8"/>
<circle cx="211" cy="152.95" r="1.9" fill="#cdeefa" opacity="0.8"/>
<circle cx="211.5" cy="153.28" r="1.9" fill="#cdeefa" opacity="0.8"/>
<circle cx="212" cy="151.67" r="1.9" fill="#cdeefa" opacity="0.8"/>
<circle cx="212.5" cy="152.46" r="1.9" fill="#cdeefa" opacity="0.8"/>
<circle cx="213" cy="153.31" r="1.9" fill="#cdeefa" opacity="0.8"/>
<circle cx="213.5" cy="152.78" r="1.9" fill="#cdeefa" opacity="0.8"/>
<circle cx="214" cy="153.24" r="1.9" fill="#cdeefa" opacity="0.8"/>
<circle cx="214.5" cy="151.82" r="1.9" fill="#cdeefa" opacity="0.8"/>
<circle cx="215" cy="152.46" r="1.9" fill="#cdeefa" opacity="0.8"/>
<circle cx="215.5" cy="152.05" r="1.9" fill="#cdeefa" opacity="0.8"/>
<circle cx="216" cy="152.59" r="1.9" fill="#cdeefa" opacity="0.8"/>
<circle cx="216.5" cy="152.64" r="1.9" fill="#cdeefa" opacity="0.8"/>
<circle cx="217" cy="151.63" r="1.9" fill="#cdeefa" opacity="0.8"/>
<circle cx="217.5" cy="151.99" r="1.9" fill="#cdeefa" opacity="0.8"/>
<circle cx="218" cy="152.1" r="1.9" fill="#cdeefa" opacity="0.8"/>
<circle cx="218.5" cy="153.25" r="1.9" fill="#cdeefa" opacity="0.8"/>
<circle cx="219" cy="152.97" r="1.9" fill="#cdeefa" opacity="0.8"/>
<circle cx="219.5" cy="151.88" r="1.9" fill="#cdeefa" opacity="0.8"/>
<circle cx="220" cy="153.02" r="1.9" fill="#cdeefa" opacity="0.8"/>
<circle cx="220.5" cy="151.83" r="1.9" fill="#cdeefa" opacity="0.8"/>
<circle cx="221" cy="152.69" r="1.9" fill="#cdeefa" opacity="0.8"/>
<circle cx="221.5" cy="151.8" r="1.9" fill="#cdeefa" opacity="0.8"/>
<circle cx="222" cy="151.57" r="1.9" fill="#cdeefa" opacity="0.8"/>
<circle cx="222.5" cy="153.13" r="1.9" fill="#cdeefa" opacity="0.8"/>
<circle cx="223" cy="151.94" r="1.9" fill="#cdeefa" opacity="0.8"/>
<circle cx="223.5" cy="151.94" r="1.9" fill="#cdeefa" opacity="0.8"/>
<circle cx="224" cy="153.32" r="1.9" fill="#cdeefa" opacity="0.8"/>
<circle cx="224.5" cy="153.11" r="1.9" fill="#cdeefa" opacity="0.8"/>
<circle cx="225" cy="152.06" r="1.9" fill="#cdeefa" opacity="0.8"/>
<circle cx="225.5" cy="153.26" r="1.9" fill="#cdeefa" opacity="0.8"/>
<circle cx="226" cy="152.49" r="1.9" fill="#cdeefa" opacity="0.8"/>
<circle cx="226.5" cy="152.73" r="1.9" fill="#cdeefa" opacity="0.8"/>
<circle cx="227" cy="151.87" r="1.9" fill="#cdeefa" opacity="0.8"/>
<circle cx="227.5" cy="153.18" r="1.9" fill="#cdeefa" opacity="0.8"/>
<circle cx="228" cy="152.72" r="1.9" fill="#cdeefa" opacity="0.8"/>
<circle cx="228.5" cy="153.2" r="1.9" fill="#cdeefa" opacity="0.8"/>
<circle cx="229" cy="153.05" r="1.9" fill="#cdeefa" opacity="0.8"/>
<circle cx="229.5" cy="151.96" r="1.9" fill="#cdeefa" opacity="0.8"/>
<circle cx="230" cy="152.05" r="1.9" fill="#cdeefa" opacity="0.8"/>
<circle cx="230.5" cy="151.68" r="1.9" fill="#cdeefa" opacity="0.8"/>
<circle cx="231" cy="151.61" r="1.9" fill="#cdeefa" opacity="0.8"/>
<circle cx="231.5" cy="151.44" r="1.9" fill="#cdeefa" opacity="0.8"/>
<circle cx="232" cy="151.82" r="1.9" fill="#cdeefa" opacity="0.8"/>
<circle cx="232.5" cy="152.33" r="1.9" fill="#cdeefa" opacity="0.8"/>
<circle cx="233" cy="151.2" r="1.9" fill="#cdeefa" opacity="0.8"/>
<circle cx="233.5" cy="152.36" r="1.9" fill="#cdeefa" opacity="0.8"/>
<circle cx="234" cy="151.68" r="1.9" fill="#cdeefa" opacity="0.8"/>
<circle cx="234.5" cy="151.56" r="1.9" fill="#cdeefa" opacity="0.8"/>
<circle cx="235" cy="152.39" r="1.9" fill="#cdeefa" opacity="0.8"/>
<circle cx="235.5" cy="151.69" r="1.9" fill="#cdeefa" opacity="0.8"/>
<circle cx="236" cy="151.29" r="1.9" fill="#cdeefa" opacity="0.8"/>
<circle cx="236.5" cy="151.47" r="1.9" fill="#cdeefa" opacity="0.8"/>
<circle cx="237" cy="151.74" r="1.9" fill="#cdeefa" opacity="0.8"/>
<circle cx="237.5" cy="150.44" r="1.9" fill="#cdeefa" opacity="0.8"/>
<circle cx="238" cy="151.93" r="1.9" fill="#cdeefa" opacity="0.8"/>
<circle cx="238.5" cy="150.05" r="1.9" fill="#cdeefa" opacity="0.8"/>
<circle cx="239" cy="151.18" r="1.9" fill="#cdeefa" opacity="0.8"/>
<circle cx="239.5" cy="151.16" r="1.9" fill="#cdeefa" opacity="0.8"/>
<circle cx="240" cy="149.46" r="1.9" fill="#cdeefa" opacity="0.8"/>
<circle cx="240.5" cy="150.63" r="1.9" fill="#cdeefa" opacity="0.8"/>
<circle cx="241" cy="149.65" r="1.9" fill="#cdeefa" opacity="0.8"/>
<circle cx="241.5" cy="149.79" r="1.9" fill="#cdeefa" opacity="0.8"/>
<circle cx="242" cy="148.53" r="1.9" fill="#cdeefa" opacity="0.8"/>
<circle cx="242.5" cy="148.35" r="1.9" fill="#cdeefa" opacity="0.8"/>
<circle cx="243" cy="148.35" r="1.9" fill="#cdeefa" opacity="0.8"/>
<circle cx="243.5" cy="149.5" r="1.9" fill="#cdeefa" opacity="0.8"/>
<circle cx="244" cy="147.89" r="1.9" fill="#cdeefa" opacity="0.8"/>
<circle cx="244.5" cy="148.65" r="1.9" fill="#cdeefa" opacity="0.8"/>
<circle cx="245" cy="148.73" r="1.9" fill="#cdeefa" opacity="0.8"/>
<circle cx="245.5" cy="148.52" r="1.9" fill="#cdeefa" opacity="0.8"/>
<circle cx="246" cy="147.21" r="1.9" fill="#cdeefa" opacity="0.8"/>
<circle cx="246.5" cy="147.01" r="1.9" fill="#cdeefa" opacity="0.8"/>
<circle cx="247" cy="147.08" r="1.9" fill="#cdeefa" opacity="0.8"/>
<circle cx="247.5" cy="147.29" r="1.9" fill="#cdeefa" opacity="0.8"/>
<circle cx="248" cy="145.84" r="1.9" fill="#cdeefa" opacity="0.8"/>
<circle cx="248.5" cy="146.7" r="1.9" fill="#cdeefa" opacity="0.8"/>
<circle cx="249" cy="146.46" r="1.9" fill="#cdeefa" opacity="0.8"/>
<circle cx="249.5" cy="146.18" r="1.9" fill="#cdeefa" opacity="0.8"/>
<circle cx="250" cy="144.22" r="1.9" fill="#cdeefa" opacity="0.8"/>
<circle cx="250.5" cy="145.27" r="1.9" fill="#cdeefa" opacity="0.8"/>
<circle cx="251" cy="142.99" r="1.9" fill="#cdeefa" opacity="0.8"/>
<circle cx="251.5" cy="142.53" r="1.9" fill="#cdeefa" opacity="0.8"/>
<circle cx="252" cy="141.9" r="1.9" fill="#cdeefa" opacity="0.8"/>
<circle cx="252.5" cy="141.09" r="1.9" fill="#cdeefa" opacity="0.8"/>
<circle cx="253" cy="138.42" r="1.9" fill="#cdeefa" opacity="0.8"/>
<circle cx="253.5" cy="137.55" r="1.9" fill="#cdeefa" opacity="0.8"/>
<circle cx="254" cy="134.64" r="1.9" fill="#cdeefa" opacity="0.8"/>
<circle cx="254.5" cy="131.7" r="1.9" fill="#cdeefa" opacity="0.8"/>
<circle cx="255" cy="128.89" r="1.9" fill="#cdeefa" opacity="0.8"/>
<circle cx="255.5" cy="125.58" r="1.9" fill="#cdeefa" opacity="0.8"/>
<circle cx="256" cy="122.15" r="1.9" fill="#cdeefa" opacity="0.8"/>
<circle cx="256.5" cy="118.92" r="1.9" fill="#cdeefa" opacity="0.8"/>
<circle cx="257" cy="116.55" r="1.9" fill="#cdeefa" opacity="0.8"/>
<circle cx="257.5" cy="113.94" r="1.9" fill="#cdeefa" opacity="0.8"/>
<circle cx="258" cy="109.61" r="1.9" fill="#cdeefa" opacity="0.8"/>
<circle cx="258.5" cy="107.14" r="1.9" fill="#cdeefa" opacity="0.8"/>
<circle cx="259" cy="107.32" r="1.9" fill="#cdeefa" opacity="0.8"/>
<circle cx="259.5" cy="105.9" r="1.9" fill="#cdeefa" opacity="0.8"/>
<circle cx="260" cy="106.05" r="1.9" fill="#cdeefa" opacity="0.8"/>
<circle cx="260.5" cy="107.07" r="1.9" fill="#cdeefa" opacity="0.8"/>
<circle cx="261" cy="109.86" r="1.9" fill="#cdeefa" opacity="0.8"/>
<circle cx="261.5" cy="113.06" r="1.9" fill="#cdeefa" opacity="0.8"/>
<circle cx="262" cy="115.62" r="1.9" fill="#cdeefa" opacity="0.8"/>
<circle cx="262.5" cy="119.02" r="1.9" fill="#cdeefa" opacity="0.8"/>
<circle cx="263" cy="121.9" r="1.9" fill="#cdeefa" opacity="0.8"/>
<circle cx="263.5" cy="126.93" r="1.9" fill="#cdeefa" opacity="0.8"/>
<circle cx="264" cy="128.67" r="1.9" fill="#cdeefa" opacity="0.8"/>
<circle cx="264.5" cy="132.6" r="1.9" fill="#cdeefa" opacity="0.8"/>
<circle cx="265" cy="136.05" r="1.9" fill="#cdeefa" opacity="0.8"/>
<circle cx="265.5" cy="137.3" r="1.9" fill="#cdeefa" opacity="0.8"/>
<circle cx="266" cy="140.6" r="1.9" fill="#cdeefa" opacity="0.8"/>
<circle cx="266.5" cy="142.9" r="1.9" fill="#cdeefa" opacity="0.8"/>
<circle cx="267" cy="143.94" r="1.9" fill="#cdeefa" opacity="0.8"/>
<circle cx="267.5" cy="145.58" r="1.9" fill="#cdeefa" opacity="0.8"/>
<circle cx="268" cy="145.46" r="1.9" fill="#cdeefa" opacity="0.8"/>
<circle cx="268.5" cy="146.94" r="1.9" fill="#cdeefa" opacity="0.8"/>
<circle cx="269" cy="147.14" r="1.9" fill="#cdeefa" opacity="0.8"/>
<circle cx="269.5" cy="148.94" r="1.9" fill="#cdeefa" opacity="0.8"/>
<circle cx="270" cy="148.36" r="1.9" fill="#cdeefa" opacity="0.8"/>
<circle cx="270.5" cy="148.94" r="1.9" fill="#cdeefa" opacity="0.8"/>
<circle cx="271" cy="150.12" r="1.9" fill="#cdeefa" opacity="0.8"/>
<circle cx="271.5" cy="149.96" r="1.9" fill="#cdeefa" opacity="0.8"/>
<circle cx="272" cy="150.21" r="1.9" fill="#cdeefa" opacity="0.8"/>
<circle cx="272.5" cy="149.22" r="1.9" fill="#cdeefa" opacity="0.8"/>
<circle cx="273" cy="149.17" r="1.9" fill="#cdeefa" opacity="0.8"/>
<circle cx="273.5" cy="149.43" r="1.9" fill="#cdeefa" opacity="0.8"/>
<circle cx="274" cy="148.74" r="1.9" fill="#cdeefa" opacity="0.8"/>
<circle cx="274.5" cy="148.1" r="1.9" fill="#cdeefa" opacity="0.8"/>
<circle cx="275" cy="147.95" r="1.9" fill="#cdeefa" opacity="0.8"/>
<circle cx="275.5" cy="147.07" r="1.9" fill="#cdeefa" opacity="0.8"/>
<circle cx="276" cy="147.03" r="1.9" fill="#cdeefa" opacity="0.8"/>
<circle cx="276.5" cy="147.62" r="1.9" fill="#cdeefa" opacity="0.8"/>
<circle cx="277" cy="147.02" r="1.9" fill="#cdeefa" opacity="0.8"/>
<circle cx="277.5" cy="145.84" r="1.9" fill="#cdeefa" opacity="0.8"/>
<circle cx="278" cy="145" r="1.9" fill="#cdeefa" opacity="0.8"/>
<circle cx="278.5" cy="144.09" r="1.9" fill="#cdeefa" opacity="0.8"/>
<circle cx="279" cy="143.02" r="1.9" fill="#cdeefa" opacity="0.8"/>
<circle cx="279.5" cy="142.74" r="1.9" fill="#cdeefa" opacity="0.8"/>
<circle cx="280" cy="143.07" r="1.9" fill="#cdeefa" opacity="0.8"/>
<circle cx="280.5" cy="142.66" r="1.9" fill="#cdeefa" opacity="0.8"/>
<circle cx="281" cy="141.24" r="1.9" fill="#cdeefa" opacity="0.8"/>
<circle cx="281.5" cy="141.54" r="1.9" fill="#cdeefa" opacity="0.8"/>
<circle cx="282" cy="141.11" r="1.9" fill="#cdeefa" opacity="0.8"/>
<circle cx="282.5" cy="140.62" r="1.9" fill="#cdeefa" opacity="0.8"/>
<circle cx="283" cy="140.29" r="1.9" fill="#cdeefa" opacity="0.8"/>
<circle cx="283.5" cy="140.25" r="1.9" fill="#cdeefa" opacity="0.8"/>
<circle cx="284" cy="139.38" r="1.9" fill="#cdeefa" opacity="0.8"/>
<circle cx="284.5" cy="139.88" r="1.9" fill="#cdeefa" opacity="0.8"/>
<circle cx="285" cy="139.05" r="1.9" fill="#cdeefa" opacity="0.8"/>
<circle cx="285.5" cy="139.37" r="1.9" fill="#cdeefa" opacity="0.8"/>
<circle cx="286" cy="139.84" r="1.9" fill="#cdeefa" opacity="0.8"/>
<circle cx="286.5" cy="139.63" r="1.9" fill="#cdeefa" opacity="0.8"/>
<circle cx="287" cy="138.81" r="1.9" fill="#cdeefa" opacity="0.8"/>
<circle cx="287.5" cy="139.81" r="1.9" fill="#cdeefa" opacity="0.8"/>
<circle cx="288" cy="139.01" r="1.9" fill="#cdeefa" opacity="0.8"/>
<circle cx="288.5" cy="138.5" r="1.9" fill="#cdeefa" opacity="0.8"/>
<circle cx="289" cy="136.95" r="1.9" fill="#cdeefa" opacity="0.8"/>
<circle cx="289.5" cy="137.21" r="1.9" fill="#cdeefa" opacity="0.8"/>
<circle cx="290" cy="135.8" r="1.9" fill="#cdeefa" opacity="0.8"/>
<circle cx="290.5" cy="135.48" r="1.9" fill="#cdeefa" opacity="0.8"/>
<circle cx="291" cy="133.8" r="1.9" fill="#cdeefa" opacity="0.8"/>
<circle cx="291.5" cy="132.93" r="1.9" fill="#cdeefa" opacity="0.8"/>
<circle cx="292" cy="130.89" r="1.9" fill="#cdeefa" opacity="0.8"/>
<circle cx="292.5" cy="129.21" r="1.9" fill="#cdeefa" opacity="0.8"/>
<circle cx="293" cy="126.26" r="1.9" fill="#cdeefa" opacity="0.8"/>
<circle cx="293.5" cy="124.47" r="1.9" fill="#cdeefa" opacity="0.8"/>
<circle cx="294" cy="122.16" r="1.9" fill="#cdeefa" opacity="0.8"/>
<circle cx="294.5" cy="119.74" r="1.9" fill="#cdeefa" opacity="0.8"/>
<circle cx="295" cy="116.22" r="1.9" fill="#cdeefa" opacity="0.8"/>
<circle cx="295.5" cy="114.42" r="1.9" fill="#cdeefa" opacity="0.8"/>
<circle cx="296" cy="111.81" r="1.9" fill="#cdeefa" opacity="0.8"/>
<circle cx="296.5" cy="108.91" r="1.9" fill="#cdeefa" opacity="0.8"/>
<circle cx="297" cy="107" r="1.9" fill="#cdeefa" opacity="0.8"/>
<circle cx="297.5" cy="104.73" r="1.9" fill="#cdeefa" opacity="0.8"/>
<circle cx="298" cy="101.98" r="1.9" fill="#cdeefa" opacity="0.8"/>
<circle cx="298.5" cy="100.35" r="1.9" fill="#cdeefa" opacity="0.8"/>
<circle cx="299" cy="98.42" r="1.9" fill="#cdeefa" opacity="0.8"/>
<circle cx="299.5" cy="98.76" r="1.9" fill="#cdeefa" opacity="0.8"/>
<circle cx="300" cy="98.52" r="1.9" fill="#cdeefa" opacity="0.8"/>
<circle cx="300.5" cy="97.72" r="1.9" fill="#cdeefa" opacity="0.8"/>
<circle cx="301" cy="98.61" r="1.9" fill="#cdeefa" opacity="0.8"/>
<circle cx="301.5" cy="99.61" r="1.9" fill="#cdeefa" opacity="0.8"/>
<circle cx="302" cy="101.01" r="1.9" fill="#cdeefa" opacity="0.8"/>
<circle cx="302.5" cy="101.77" r="1.9" fill="#cdeefa" opacity="0.8"/>
<circle cx="303" cy="104.98" r="1.9" fill="#cdeefa" opacity="0.8"/>
<circle cx="303.5" cy="107.03" r="1.9" fill="#cdeefa" opacity="0.8"/>
<circle cx="304" cy="109.82" r="1.9" fill="#cdeefa" opacity="0.8"/>
<circle cx="304.5" cy="112.2" r="1.9" fill="#cdeefa" opacity="0.8"/>
<circle cx="305" cy="115.5" r="1.9" fill="#cdeefa" opacity="0.8"/>
<circle cx="305.5" cy="118.76" r="1.9" fill="#cdeefa" opacity="0.8"/>
<circle cx="306" cy="121.52" r="1.9" fill="#cdeefa" opacity="0.8"/>
<circle cx="306.5" cy="124.64" r="1.9" fill="#cdeefa" opacity="0.8"/>
<circle cx="307" cy="126.28" r="1.9" fill="#cdeefa" opacity="0.8"/>
<circle cx="307.5" cy="129.3" r="1.9" fill="#cdeefa" opacity="0.8"/>
<circle cx="308" cy="132.43" r="1.9" fill="#cdeefa" opacity="0.8"/>
<circle cx="308.5" cy="135.27" r="1.9" fill="#cdeefa" opacity="0.8"/>
<circle cx="309" cy="136.78" r="1.9" fill="#cdeefa" opacity="0.8"/>
<circle cx="309.5" cy="139.71" r="1.9" fill="#cdeefa" opacity="0.8"/>
<circle cx="310" cy="141.51" r="1.9" fill="#cdeefa" opacity="0.8"/>
<circle cx="310.5" cy="142.14" r="1.9" fill="#cdeefa" opacity="0.8"/>
<circle cx="311" cy="144.43" r="1.9" fill="#cdeefa" opacity="0.8"/>
<circle cx="311.5" cy="145.31" r="1.9" fill="#cdeefa" opacity="0.8"/>
<circle cx="312" cy="146.15" r="1.9" fill="#cdeefa" opacity="0.8"/>
<circle cx="312.5" cy="147.29" r="1.9" fill="#cdeefa" opacity="0.8"/>
<circle cx="313" cy="148.48" r="1.9" fill="#cdeefa" opacity="0.8"/>
<circle cx="313.5" cy="148.96" r="1.9" fill="#cdeefa" opacity="0.8"/>
<circle cx="314" cy="149.59" r="1.9" fill="#cdeefa" opacity="0.8"/>
<circle cx="314.5" cy="149.82" r="1.9" fill="#cdeefa" opacity="0.8"/>
<circle cx="315" cy="151.01" r="1.9" fill="#cdeefa" opacity="0.8"/>
<circle cx="315.5" cy="151.21" r="1.9" fill="#cdeefa" opacity="0.8"/>
<circle cx="316" cy="151.91" r="1.9" fill="#cdeefa" opacity="0.8"/>
<circle cx="316.5" cy="152.11" r="1.9" fill="#cdeefa" opacity="0.8"/>
<circle cx="317" cy="151.67" r="1.9" fill="#cdeefa" opacity="0.8"/>
<circle cx="317.5" cy="153.02" r="1.9" fill="#cdeefa" opacity="0.8"/>
<circle cx="318" cy="151.52" r="1.9" fill="#cdeefa" opacity="0.8"/>
<circle cx="318.5" cy="152.36" r="1.9" fill="#cdeefa" opacity="0.8"/>
<circle cx="319" cy="152.21" r="1.9" fill="#cdeefa" opacity="0.8"/>
<circle cx="319.5" cy="152.52" r="1.9" fill="#cdeefa" opacity="0.8"/>
<circle cx="320" cy="152.05" r="1.9" fill="#cdeefa" opacity="0.8"/>
<circle cx="320.5" cy="153.39" r="1.9" fill="#cdeefa" opacity="0.8"/>
<circle cx="321" cy="152.6" r="1.9" fill="#cdeefa" opacity="0.8"/>
<circle cx="321.5" cy="152.03" r="1.9" fill="#cdeefa" opacity="0.8"/>
<circle cx="322" cy="153.1" r="1.9" fill="#cdeefa" opacity="0.8"/>
<circle cx="322.5" cy="152.2" r="1.9" fill="#cdeefa" opacity="0.8"/>
<circle cx="323" cy="153.03" r="1.9" fill="#cdeefa" opacity="0.8"/>
<circle cx="323.5" cy="152.69" r="1.9" fill="#cdeefa" opacity="0.8"/>
<circle cx="324" cy="153.14" r="1.9" fill="#cdeefa" opacity="0.8"/>
<circle cx="324.5" cy="153.84" r="1.9" fill="#cdeefa" opacity="0.8"/>
<circle cx="325" cy="153.61" r="1.9" fill="#cdeefa" opacity="0.8"/>
<circle cx="325.5" cy="152.91" r="1.9" fill="#cdeefa" opacity="0.8"/>
<circle cx="326" cy="153.63" r="1.9" fill="#cdeefa" opacity="0.8"/>
<circle cx="326.5" cy="153.34" r="1.9" fill="#cdeefa" opacity="0.8"/>
<circle cx="327" cy="152.87" r="1.9" fill="#cdeefa" opacity="0.8"/>
<circle cx="327.5" cy="152.47" r="1.9" fill="#cdeefa" opacity="0.8"/>
<circle cx="328" cy="153.3" r="1.9" fill="#cdeefa" opacity="0.8"/>
<circle cx="328.5" cy="153.26" r="1.9" fill="#cdeefa" opacity="0.8"/>
<circle cx="329" cy="153.98" r="1.9" fill="#cdeefa" opacity="0.8"/>
<circle cx="329.5" cy="154.01" r="1.9" fill="#cdeefa" opacity="0.8"/>
<circle cx="330" cy="153.38" r="1.9" fill="#cdeefa" opacity="0.8"/>
<circle cx="330.5" cy="152.93" r="1.9" fill="#cdeefa" opacity="0.8"/>
<circle cx="331" cy="153.91" r="1.9" fill="#cdeefa" opacity="0.8"/>
<circle cx="331.5" cy="152.32" r="1.9" fill="#cdeefa" opacity="0.8"/>
<circle cx="332" cy="152.52" r="1.9" fill="#cdeefa" opacity="0.8"/>
<circle cx="332.5" cy="153.36" r="1.9" fill="#cdeefa" opacity="0.8"/>
<circle cx="333" cy="153.46" r="1.9" fill="#cdeefa" opacity="0.8"/>
<circle cx="333.5" cy="152.61" r="1.9" fill="#cdeefa" opacity="0.8"/>
<circle cx="334" cy="153.5" r="1.9" fill="#cdeefa" opacity="0.8"/>
<circle cx="334.5" cy="153.98" r="1.9" fill="#cdeefa" opacity="0.8"/>
<circle cx="335" cy="153.06" r="1.9" fill="#cdeefa" opacity="0.8"/>
<circle cx="335.5" cy="153.17" r="1.9" fill="#cdeefa" opacity="0.8"/>
<circle cx="336" cy="152.81" r="1.9" fill="#cdeefa" opacity="0.8"/>
<circle cx="336.5" cy="152.94" r="1.9" fill="#cdeefa" opacity="0.8"/>
<circle cx="337" cy="154.17" r="1.9" fill="#cdeefa" opacity="0.8"/>
<circle cx="337.5" cy="153.11" r="1.9" fill="#cdeefa" opacity="0.8"/>
<circle cx="338" cy="154.17" r="1.9" fill="#cdeefa" opacity="0.8"/>
<circle cx="338.5" cy="154.09" r="1.9" fill="#cdeefa" opacity="0.8"/>
<circle cx="339" cy="153.52" r="1.9" fill="#cdeefa" opacity="0.8"/>
<circle cx="339.5" cy="152.93" r="1.9" fill="#cdeefa" opacity="0.8"/>
<circle cx="340" cy="154.23" r="1.9" fill="#cdeefa" opacity="0.8"/>
<circle cx="340.5" cy="153.37" r="1.9" fill="#cdeefa" opacity="0.8"/>
<circle cx="341" cy="153.23" r="1.9" fill="#cdeefa" opacity="0.8"/>
<circle cx="341.5" cy="153.06" r="1.9" fill="#cdeefa" opacity="0.8"/>
<circle cx="342" cy="154.27" r="1.9" fill="#cdeefa" opacity="0.8"/>
<circle cx="342.5" cy="153.39" r="1.9" fill="#cdeefa" opacity="0.8"/>
<circle cx="343" cy="153.02" r="1.9" fill="#cdeefa" opacity="0.8"/>
<circle cx="343.5" cy="153.37" r="1.9" fill="#cdeefa" opacity="0.8"/>
<circle cx="344" cy="152.74" r="1.9" fill="#cdeefa" opacity="0.8"/>
<circle cx="344.5" cy="153.65" r="1.9" fill="#cdeefa" opacity="0.8"/>
<circle cx="208.93" cy="151.94" r="0.9" fill="#ade0f3" opacity="0.8"/>
<circle cx="210.84" cy="153.43" r="0.9" fill="#ade0f3" opacity="0.8"/>
<circle cx="211.42" cy="152.61" r="0.9" fill="#ade0f3" opacity="0.8"/>
<circle cx="213.23" cy="153.73" r="0.9" fill="#ade0f3" opacity="0.8"/>
<circle cx="215.34" cy="151.8" r="0.9" fill="#ade0f3" opacity="0.8"/>
<circle cx="216.22" cy="151.54" r="0.9" fill="#ade0f3" opacity="0.8"/>
<circle cx="218.59" cy="151.92" r="0.9" fill="#ade0f3" opacity="0.8"/>
<circle cx="219.63" cy="152.42" r="0.9" fill="#ade0f3" opacity="0.8"/>
<circle cx="221.17" cy="152.77" r="0.9" fill="#ade0f3" opacity="0.8"/>
<circle cx="222.79" cy="151.4" r="0.9" fill="#ade0f3" opacity="0.8"/>
<circle cx="224.31" cy="151.89" r="0.9" fill="#ade0f3" opacity="0.8"/>
<circle cx="225.54" cy="151.97" r="0.9" fill="#ade0f3" opacity="0.8"/>
<circle cx="226.76" cy="152.48" r="0.9" fill="#ade0f3" opacity="0.8"/>
<circle cx="228.46" cy="151.97" r="0.9" fill="#ade0f3" opacity="0.8"/>
<circle cx="230.29" cy="152.56" r="0.9" fill="#ade0f3" opacity="0.8"/>
<circle cx="230.94" cy="151.53" r="0.9" fill="#ade0f3" opacity="0.8"/>
<circle cx="232.95" cy="153.26" r="0.9" fill="#ade0f3" opacity="0.8"/>
<circle cx="234.97" cy="152.03" r="0.9" fill="#ade0f3" opacity="0.8"/>
<circle cx="235.42" cy="152.4" r="0.9" fill="#ade0f3" opacity="0.8"/>
<circle cx="237.41" cy="151.45" r="0.9" fill="#ade0f3" opacity="0.8"/>
<circle cx="239.25" cy="151.1" r="0.9" fill="#ade0f3" opacity="0.8"/>
<circle cx="240.48" cy="151.27" r="0.9" fill="#ade0f3" opacity="0.8"/>
<circle cx="241.86" cy="149.11" r="0.9" fill="#ade0f3" opacity="0.8"/>
<circle cx="243.92" cy="147.83" r="0.9" fill="#ade0f3" opacity="0.8"/>
<circle cx="244.76" cy="148.88" r="0.9" fill="#ade0f3" opacity="0.8"/>
<circle cx="245.98" cy="148.21" r="0.9" fill="#ade0f3" opacity="0.8"/>
<circle cx="248.23" cy="146.35" r="0.9" fill="#ade0f3" opacity="0.8"/>
<circle cx="249.24" cy="146.32" r="0.9" fill="#ade0f3" opacity="0.8"/>
<circle cx="251.49" cy="142.73" r="0.9" fill="#ade0f3" opacity="0.8"/>
<circle cx="252.47" cy="140.47" r="0.9" fill="#ade0f3" opacity="0.8"/>
<circle cx="254" cy="134.09" r="0.9" fill="#ade0f3" opacity="0.8"/>
<circle cx="255.08" cy="126.4" r="0.9" fill="#ade0f3" opacity="0.8"/>
<circle cx="257.37" cy="115.01" r="0.9" fill="#ade0f3" opacity="0.8"/>
<circle cx="258.18" cy="108.85" r="0.9" fill="#ade0f3" opacity="0.8"/>
<circle cx="260.35" cy="106.67" r="0.9" fill="#ade0f3" opacity="0.8"/>
<circle cx="260.93" cy="113.1" r="0.9" fill="#ade0f3" opacity="0.8"/>
<circle cx="263.57" cy="124.1" r="0.9" fill="#ade0f3" opacity="0.8"/>
<circle cx="264.74" cy="131.35" r="0.9" fill="#ade0f3" opacity="0.8"/>
<circle cx="266.41" cy="139.39" r="0.9" fill="#ade0f3" opacity="0.8"/>
<circle cx="267.67" cy="146.32" r="0.9" fill="#ade0f3" opacity="0.8"/>
<circle cx="269.25" cy="146.74" r="0.9" fill="#ade0f3" opacity="0.8"/>
<circle cx="270.25" cy="150.19" r="0.9" fill="#ade0f3" opacity="0.8"/>
<circle cx="271.58" cy="149.66" r="0.9" fill="#ade0f3" opacity="0.8"/>
<circle cx="273.4" cy="148.07" r="0.9" fill="#ade0f3" opacity="0.8"/>
<circle cx="275.15" cy="146.84" r="0.9" fill="#ade0f3" opacity="0.8"/>
<circle cx="276.03" cy="146.4" r="0.9" fill="#ade0f3" opacity="0.8"/>
<circle cx="277.49" cy="143.76" r="0.9" fill="#ade0f3" opacity="0.8"/>
<circle cx="279.59" cy="143.83" r="0.9" fill="#ade0f3" opacity="0.8"/>
<circle cx="281.45" cy="140.46" r="0.9" fill="#ade0f3" opacity="0.8"/>
<circle cx="282.42" cy="139.75" r="0.9" fill="#ade0f3" opacity="0.8"/>
<circle cx="284.12" cy="139.59" r="0.9" fill="#ade0f3" opacity="0.8"/>
<circle cx="286.03" cy="139.04" r="0.9" fill="#ade0f3" opacity="0.8"/>
<circle cx="286.47" cy="139.73" r="0.9" fill="#ade0f3" opacity="0.8"/>
<circle cx="288.08" cy="138.72" r="0.9" fill="#ade0f3" opacity="0.8"/>
<circle cx="290.01" cy="137.4" r="0.9" fill="#ade0f3" opacity="0.8"/>
<circle cx="291.57" cy="132.69" r="0.9" fill="#ade0f3" opacity="0.8"/>
<circle cx="292.72" cy="126.67" r="0.9" fill="#ade0f3" opacity="0.8"/>
<circle cx="294.21" cy="119.85" r="0.9" fill="#ade0f3" opacity="0.8"/>
<circle cx="296.02" cy="110.12" r="0.9" fill="#ade0f3" opacity="0.8"/>
<circle cx="297.18" cy="103.55" r="0.9" fill="#ade0f3" opacity="0.8"/>
<circle cx="299.28" cy="98.12" r="0.9" fill="#ade0f3" opacity="0.8"/>
<circle cx="300.76" cy="98.2" r="0.9" fill="#ade0f3" opacity="0.8"/>
<circle cx="301.5" cy="101.06" r="0.9" fill="#ade0f3" opacity="0.8"/>
<circle cx="303.01" cy="105.83" r="0.9" fill="#ade0f3" opacity="0.8"/>
<circle cx="305.11" cy="114.54" r="0.9" fill="#ade0f3" opacity="0.8"/>
<circle cx="306.95" cy="124.19" r="0.9" fill="#ade0f3" opacity="0.8"/>
<circle cx="307.79" cy="133.37" r="0.9" fill="#ade0f3" opacity="0.8"/>
<circle cx="308.94" cy="140.01" r="0.9" fill="#ade0f3" opacity="0.8"/>
<circle cx="310.46" cy="143.5" r="0.9" fill="#ade0f3" opacity="0.8"/>
<circle cx="313.04" cy="148.46" r="0.9" fill="#ade0f3" opacity="0.8"/>
<circle cx="313.67" cy="149.07" r="0.9" fill="#ade0f3" opacity="0.8"/>
<circle cx="316.07" cy="151.89" r="0.9" fill="#ade0f3" opacity="0.8"/>
<circle cx="317.38" cy="151.13" r="0.9" fill="#ade0f3" opacity="0.8"/>
<circle cx="318.65" cy="152.12" r="0.9" fill="#ade0f3" opacity="0.8"/>
<circle cx="319.68" cy="152.27" r="0.9" fill="#ade0f3" opacity="0.8"/>
<circle cx="321.64" cy="152.44" r="0.9" fill="#ade0f3" opacity="0.8"/>
<circle cx="322.86" cy="151.94" r="0.9" fill="#ade0f3" opacity="0.8"/>
<circle cx="324.9" cy="153.43" r="0.9" fill="#ade0f3" opacity="0.8"/>
<circle cx="326.37" cy="152.88" r="0.9" fill="#ade0f3" opacity="0.8"/>
<circle cx="327.92" cy="153.17" r="0.9" fill="#ade0f3" opacity="0.8"/>
<circle cx="329.11" cy="153.36" r="0.9" fill="#ade0f3" opacity="0.8"/>
<circle cx="330.79" cy="152.9" r="0.9" fill="#ade0f3" opacity="0.8"/>
<circle cx="331.52" cy="151.92" r="0.9" fill="#ade0f3" opacity="0.8"/>
<circle cx="333.14" cy="151.97" r="0.9" fill="#ade0f3" opacity="0.8"/>
<circle cx="335.47" cy="153.23" r="0.9" fill="#ade0f3" opacity="0.8"/>
<circle cx="336.81" cy="151.91" r="0.9" fill="#ade0f3" opacity="0.8"/>
<circle cx="337.96" cy="154.43" r="0.9" fill="#ade0f3" opacity="0.8"/>
<circle cx="339.64" cy="153.16" r="0.9" fill="#ade0f3" opacity="0.8"/>
<circle cx="340.96" cy="152.26" r="0.9" fill="#ade0f3" opacity="0.8"/>
<circle cx="342.09" cy="152.45" r="0.9" fill="#ade0f3" opacity="0.8"/>
<circle cx="343.85" cy="153.1" r="0.9" fill="#ade0f3" opacity="0.8"/>
<line x1="209.1" y1="89.3" x2="345.1" y2="89.3" stroke="#48b848" stroke-width="0.9" opacity="0.55"/>
<polyline points="304.5,48.9 305,51.99 305.5,55.36 306,58.89 306.5,62.46 307,65.94 307.5,69.26 308,72.35 308.5,75.15 309,77.64 309.5,79.81 310,81.66 310.5,83.2 311,84.48 311.5,85.51 312,86.32 312.5,86.97 313,87.46 313.5,87.84 314,88.12 314.5,88.34 315,88.5 315.5,88.62 316,88.71 316.5,88.77 317,88.83 317.5,88.87 318,88.9 318.5,88.93 319,88.95 319.5,88.97 320,88.99 320.5,89.01 321,89.02 321.5,89.04 322,89.05 322.5,89.06 323,89.07 323.5,89.08 324,89.09 324.5,89.1 325,89.11 325.5,89.12" fill="none" stroke="#f08ac8" stroke-width="0.8" stroke-linejoin="round" />
<polyline points="300.5,89.23 301,89.22 301.5,89.21 302,89.2 302.5,89.18 303,89.16 303.5,89.13 304,89.09 304.5,89.04 305,88.96 305.5,88.87 306,88.75 306.5,88.6 307,88.41 307.5,88.18 308,87.91 308.5,87.58 309,87.2 309.5,86.78 310,86.31 310.5,85.8 311,85.27 311.5,84.72 312,84.18 312.5,83.66 313,83.18 313.5,82.77 314,82.44 314.5,82.22 315,82.11 315.5,82.12 316,82.26 316.5,82.5 317,82.85 317.5,83.27 318,83.76 318.5,84.29 319,84.83 319.5,85.38 320,85.91 320.5,86.41 321,86.87 321.5,87.28 322,87.65 322.5,87.96 323,88.23 323.5,88.45 324,88.63 324.5,88.78 325,88.89 325.5,88.98 326,89.05 326.5,89.1 327,89.14 327.5,89.17 328,89.19 328.5,89.2 329,89.22 329.5,89.22" fill="none" stroke="#e83a5a" stroke-width="1.0" stroke-linejoin="round" />
<line x1="299" y1="89.3" x2="305" y2="89.3" stroke="#7ccc7c" stroke-width="1.0" />
<polyline points="209,152.7 209.5,152.71 210,152.71 210.5,152.71 211,152.72 211.5,152.72 212,152.72 212.5,152.73 213,152.73 213.5,152.73 214,152.74 214.5,152.74 215,152.74 215.5,152.75 216,152.75 216.5,152.75 217,152.76 217.5,152.76 218,152.76 218.5,152.77 219,152.77 219.5,152.77 220,152.78 220.5,152.78 221,152.78 221.5,152.79 222,152.79 222.5,152.79 223,152.79 223.5,152.8 224,152.8 224.5,152.8 225,152.81 225.5,152.81 226,152.81 226.5,152.81 227,152.81 227.5,152.81 228,152.81 228.5,152.81 229,152.81 229.5,152.81 230,152.8 230.5,152.79 231,152.78 231.5,152.77 232,152.75 232.5,152.72 233,152.7 233.5,152.66 234,152.62 234.5,152.57 235,152.52 235.5,152.45 236,152.38 236.5,152.29 237,152.19 237.5,152.09 238,151.97 238.5,151.84 239,151.7 239.5,151.55 240,151.39 240.5,151.23 241,151.06 241.5,150.88 242,150.71 242.5,150.54 243,150.37 243.5,150.2 244,150.05 244.5,149.91 245,149.78 245.5,149.67 246,149.59 246.5,149.52 247,149.48 247.5,149.46 248,149.46 248.5,149.49 249,149.55 249.5,149.63 250,149.72 250.5,149.84 251,149.98 251.5,150.13 252,150.29 252.5,150.46 253,150.64 253.5,150.82 254,151 254.5,151.18 255,151.36 255.5,151.53 256,151.69 256.5,151.84 257,151.99 257.5,152.12 258,152.24 258.5,152.36 259,152.46 259.5,152.55 260,152.63 260.5,152.7 261,152.76 261.5,152.81 262,152.86 262.5,152.9 263,152.93 263.5,152.96 264,152.98 264.5,153 265,153.02 265.5,153.03 266,153.05 266.5,153.06 267,153.07 267.5,153.07 268,153.08 268.5,153.09 269,153.09 269.5,153.1 270,153.1 270.5,153.1 271,153.11 271.5,153.11 272,153.12 272.5,153.12 273,153.12 273.5,153.13 274,153.13 274.5,153.13 275,153.14 275.5,153.14 276,153.14 276.5,153.15 277,153.15 277.5,153.15 278,153.16 278.5,153.16 279,153.16 279.5,153.17 280,153.17 280.5,153.17 281,153.18 281.5,153.18 282,153.18 282.5,153.19 283,153.19 283.5,153.19 284,153.2 284.5,153.2 285,153.2 285.5,153.21 286,153.21 286.5,153.21 287,153.21 287.5,153.22 288,153.22 288.5,153.22 289,153.23 289.5,153.23 290,153.23 290.5,153.24 291,153.24 291.5,153.24 292,153.25 292.5,153.25 293,153.25 293.5,153.26 294,153.26 294.5,153.26 295,153.27 295.5,153.27 296,153.27 296.5,153.28 297,153.28 297.5,153.28 298,153.29 298.5,153.29 299,153.29 299.5,153.3 300,153.3 300.5,153.3 301,153.31 301.5,153.31 302,153.31 302.5,153.32 303,153.32 303.5,153.32 304,153.33 304.5,153.33 305,153.33 305.5,153.34 306,153.34 306.5,153.34 307,153.35 307.5,153.35 308,153.35 308.5,153.36 309,153.36 309.5,153.36 310,153.37 310.5,153.37 311,153.37 311.5,153.38 312,153.38 312.5,153.38 313,153.39 313.5,153.39 314,153.39 314.5,153.4 315,153.4 315.5,153.4 316,153.41 316.5,153.41 317,153.41 317.5,153.42 318,153.42 318.5,153.42 319,153.42 319.5,153.43 320,153.43 320.5,153.43 321,153.44 321.5,153.44 322,153.44 322.5,153.45 323,153.45 323.5,153.45 324,153.46 324.5,153.46 325,153.46 325.5,153.47 326,153.47 326.5,153.47 327,153.48 327.5,153.48 328,153.48 328.5,153.49 329,153.49 329.5,153.49 330,153.5 330.5,153.5 331,153.5 331.5,153.51 332,153.51 332.5,153.51 333,153.52 333.5,153.52 334,153.52 334.5,153.53 335,153.53 335.5,153.53 336,153.54 336.5,153.54 337,153.54 337.5,153.55 338,153.55 338.5,153.55 339,153.56 339.5,153.56 340,153.56 340.5,153.57 341,153.57 341.5,153.57 342,153.58 342.5,153.58 343,153.58 343.5,153.59 344,153.59 344.5,153.59" fill="none" stroke="#bcc878" stroke-width="0.8" stroke-linejoin="round" />
<polyline points="237.5,152.15 238,152.11 238.5,152.08 239,152.05 239.5,152.01 240,151.97 240.5,151.92 241,151.88 241.5,151.82 242,151.77 242.5,151.71 243,151.64 243.5,151.57 244,151.49 244.5,151.4 245,151.3 245.5,151.19 246,151.06 246.5,150.92 247,150.76 247.5,150.56 248,150.33 248.5,150.05 249,149.71 249.5,149.29 250,148.77 250.5,148.13 251,147.33 251.5,146.36 252,145.17 252.5,143.73 253,142.03 253.5,140.02 254,137.71 254.5,135.09 255,132.18 255.5,129.01 256,125.64 256.5,122.16 257,118.68 257.5,115.36 258,112.39 258.5,109.99 259,108.36 259.5,107.65 260,107.96 260.5,109.25 261,111.37 261.5,114.15 262,117.35 262.5,120.79 263,124.3 263.5,127.73 264,131 264.5,134.03 265,136.77 265.5,139.22 266,141.35 266.5,143.17 267,144.72 267.5,146.01 268,147.08 268.5,147.95 269,148.65 269.5,149.22 270,149.69 270.5,150.06 271,150.37 271.5,150.63 272,150.85 272.5,151.03 273,151.19 273.5,151.32 274,151.45 274.5,151.56 275,151.66 275.5,151.75 276,151.83 276.5,151.9 277,151.97 277.5,152.04 278,152.1 278.5,152.15 279,152.21 279.5,152.25 280,152.3 280.5,152.34 281,152.38" fill="none" stroke="#f27aa0" stroke-width="1.0" stroke-linejoin="round" />
<polyline points="209,152.7 209.5,152.71 210,152.71 210.5,152.71 211,152.72 211.5,152.72 212,152.72 212.5,152.73 213,152.73 213.5,152.73 214,152.74 214.5,152.74 215,152.74 215.5,152.75 216,152.75 216.5,152.75 217,152.76 217.5,152.76 218,152.76 218.5,152.77 219,152.77 219.5,152.77 220,152.78 220.5,152.78 221,152.78 221.5,152.79 222,152.79 222.5,152.79 223,152.8 223.5,152.8 224,152.8 224.5,152.8 225,152.81 225.5,152.81 226,152.81 226.5,152.82 227,152.82 227.5,152.82 228,152.83 228.5,152.83 229,152.83 229.5,152.84 230,152.84 230.5,152.84 231,152.85 231.5,152.85 232,152.85 232.5,152.86 233,152.86 233.5,152.86 234,152.87 234.5,152.87 235,152.87 235.5,152.88 236,152.88 236.5,152.88 237,152.89 237.5,152.89 238,152.89 238.5,152.9 239,152.9 239.5,152.9 240,152.91 240.5,152.91 241,152.91 241.5,152.92 242,152.92 242.5,152.92 243,152.93 243.5,152.93 244,152.93 244.5,152.94 245,152.94 245.5,152.94 246,152.95 246.5,152.95 247,152.95 247.5,152.96 248,152.96 248.5,152.96 249,152.97 249.5,152.97 250,152.97 250.5,152.98 251,152.98 251.5,152.98 252,152.99 252.5,152.99 253,152.99 253.5,153 254,153 254.5,153 255,153.01 255.5,153.01 256,153.01 256.5,153.01 257,153.02 257.5,153.02 258,153.02 258.5,153.03 259,153.03 259.5,153.03 260,153.04 260.5,153.04 261,153.04 261.5,153.05 262,153.05 262.5,153.05 263,153.05 263.5,153.05 264,153.05 264.5,153.05 265,153.05 265.5,153.04 266,153.03 266.5,153.02 267,153 267.5,152.98 268,152.95 268.5,152.9 269,152.85 269.5,152.78 270,152.7 270.5,152.59 271,152.46 271.5,152.3 272,152.12 272.5,151.9 273,151.64 273.5,151.35 274,151.02 274.5,150.64 275,150.22 275.5,149.76 276,149.27 276.5,148.74 277,148.18 277.5,147.6 278,147.01 278.5,146.41 279,145.83 279.5,145.26 280,144.73 280.5,144.24 281,143.8 281.5,143.43 282,143.14 282.5,142.94 283,142.82 283.5,142.79 284,142.86 284.5,143.02 285,143.27 285.5,143.6 286,144 286.5,144.47 287,144.98 287.5,145.54 288,146.12 288.5,146.72 289,147.32 289.5,147.91 290,148.49 290.5,149.05 291,149.57 291.5,150.06 292,150.51 292.5,150.91 293,151.28 293.5,151.6 294,151.89 294.5,152.14 295,152.35 295.5,152.53 296,152.68 296.5,152.81 297,152.91 297.5,153 298,153.06 298.5,153.12 299,153.16 299.5,153.2 300,153.23 300.5,153.25 301,153.27 301.5,153.28" fill="none" stroke="#e2385a" stroke-width="1.0" stroke-linejoin="round" />
<polyline points="270.5,152.88 271,152.87 271.5,152.87 272,152.86 272.5,152.86 273,152.85 273.5,152.85 274,152.84 274.5,152.83 275,152.82 275.5,152.81 276,152.8 276.5,152.79 277,152.78 277.5,152.77 278,152.75 278.5,152.73 279,152.71 279.5,152.69 280,152.66 280.5,152.63 281,152.58 281.5,152.53 282,152.47 282.5,152.39 283,152.29 283.5,152.16 284,152.01 284.5,151.82 285,151.58 285.5,151.29 286,150.94 286.5,150.51 287,149.99 287.5,149.38 288,148.64 288.5,147.78 289,146.77 289.5,145.6 290,144.27 290.5,142.75 291,141.06 291.5,139.17 292,137.1 292.5,134.84 293,132.42 293.5,129.85 294,127.16 294.5,124.38 295,121.54 295.5,118.69 296,115.87 296.5,113.15 297,110.58 297.5,108.21 298,106.09 298.5,104.3 299,102.86 299.5,101.84 300,101.25 300.5,101.11 301,101.44 301.5,102.21 302,103.41 302.5,105 303,106.94 303.5,109.17 304,111.63 304.5,114.28 305,117.05 305.5,119.89 306,122.75 306.5,125.58 307,128.34 307.5,130.99 308,133.51 308.5,135.87 309,138.06 309.5,140.07 310,141.88 310.5,143.51 311,144.96 311.5,146.23 312,147.34 312.5,148.3 313,149.12 313.5,149.81 314,150.39 314.5,150.88 315,151.28 315.5,151.62 316,151.89 316.5,152.11 317,152.29 317.5,152.44 318,152.56 318.5,152.66 319,152.74 319.5,152.8 320,152.86 320.5,152.9 321,152.94 321.5,152.98 322,153.01 322.5,153.03 323,153.06 323.5,153.08 324,153.1 324.5,153.11 325,153.13 325.5,153.15 326,153.16 326.5,153.18 327,153.19 327.5,153.2 328,153.22 328.5,153.23 329,153.24 329.5,153.25 330,153.26 330.5,153.27 331,153.28 331.5,153.29 332,153.3 332.5,153.31 333,153.32 333.5,153.33 334,153.34 334.5,153.35 335,153.36 335.5,153.37 336,153.37 336.5,153.38 337,153.39 337.5,153.4 338,153.4 338.5,153.41 339,153.42 339.5,153.42 340,153.43 340.5,153.44 341,153.44 341.5,153.45 342,153.46 342.5,153.46 343,153.47 343.5,153.47 344,153.48 344.5,153.48" fill="none" stroke="#1aa8e4" stroke-width="1.1" stroke-linejoin="round" />
<polyline points="209,89.23 209.5,89.23 210,89.23 210.5,89.23 211,89.23 211.5,89.23 212,89.22 212.5,89.22 213,89.22 213.5,89.22 214,89.22 214.5,89.22 215,89.22 215.5,89.21 216,89.21 216.5,89.21 217,89.21 217.5,89.21 218,89.2 218.5,89.2 219,89.2 219.5,89.2 220,89.2 220.5,89.19 221,89.19 221.5,89.19 222,89.19 222.5,89.18 223,89.18 223.5,89.18 224,89.17 224.5,89.17 225,89.17 225.5,89.16 226,89.16 226.5,89.16 227,89.15 227.5,89.15 228,89.15 228.5,89.14 229,89.14 229.5,89.13 230,89.13 230.5,89.12 231,89.12 231.5,89.11 232,89.1 232.5,89.1 233,89.09 233.5,89.08 234,89.08 234.5,89.07 235,89.06 235.5,89.05 236,89.04 236.5,89.03 237,89.02 237.5,89 238,88.98 238.5,88.96 239,88.94 239.5,88.91 240,88.88 240.5,88.83 241,88.79 241.5,88.73 242,88.66 242.5,88.58 243,88.5 243.5,88.41 244,88.31 244.5,88.21 245,88.11 245.5,88.01 246,87.91 246.5,87.82 247,87.74 247.5,87.66 248,87.57 248.5,87.48 249,87.37 249.5,87.21 250,87 250.5,86.71 251,86.3 251.5,85.74 252,84.98 252.5,83.99 253,82.72 253.5,81.12 254,79.16 254.5,76.81 255,74.06 255.5,70.91 256,67.39 256.5,63.57 257,59.53 257.5,55.39 258,51.28 258.5,47.39 259,43.88 259.5,40.94 260,38.75 260.5,37.46 261,37.16 261.5,37.86 262,39.52 262.5,42.03 263,45.21 263.5,48.9 264,52.9 264.5,57.04 265,61.16 265.5,65.13 266,68.85 266.5,72.23 267,75.25 267.5,77.86 268,80.09 268.5,81.94 269,83.45 269.5,84.65 270,85.6 270.5,86.34 271,86.89 271.5,87.31 272,87.62 272.5,87.85 273,88.01 273.5,88.12 274,88.2 274.5,88.25 275,88.27 275.5,88.27 276,88.25 276.5,88.23 277,88.18 277.5,88.13 278,88.06 278.5,87.98 279,87.9 279.5,87.82 280,87.73 280.5,87.64 281,87.56 281.5,87.49 282,87.43 282.5,87.38 283,87.35 283.5,87.33 284,87.33 284.5,87.35 285,87.39 285.5,87.44 286,87.5 286.5,87.56 287,87.63 287.5,87.69 288,87.75 288.5,87.79 289,87.81 289.5,87.79 290,87.73 290.5,87.61 291,87.41 291.5,87.12 292,86.7 292.5,86.14 293,85.39 293.5,84.44 294,83.25 294.5,81.77 295,80 295.5,77.91 296,75.5 296.5,72.76 297,69.73 297.5,66.45 298,62.99 298.5,59.43 299,55.88 299.5,52.45 300,49.27 300.5,46.48 301,44.21 301.5,42.57 302,41.64 302.5,41.47 303,42.06 303.5,43.36 304,45.29 304.5,47.73 305,50.55 305.5,53.61 306,56.78 306.5,59.93 307,62.96 307.5,65.78 308,68.32 308.5,70.54 309,72.43 309.5,73.99 310,75.23 310.5,76.18 311,76.89 311.5,77.4 312,77.77 312.5,78.03 313,78.24 313.5,78.43 314,78.64 314.5,78.9 315,79.23 315.5,79.64 316,80.13 316.5,80.69 317,81.31 317.5,81.97 318,82.67 318.5,83.36 319,84.05 319.5,84.72 320,85.34 320.5,85.92 321,86.44 321.5,86.9 322,87.3 322.5,87.65 323,87.94 323.5,88.18 324,88.38 324.5,88.53 325,88.66 325.5,88.76 326,88.84 326.5,88.89 327,88.94 327.5,88.98 328,89 328.5,89.03 329,89.04 329.5,89.06 330,89.07 330.5,89.08 331,89.09 331.5,89.1 332,89.11 332.5,89.11 333,89.12 333.5,89.13 334,89.13 334.5,89.14 335,89.14 335.5,89.15 336,89.15 336.5,89.16 337,89.16 337.5,89.16 338,89.17 338.5,89.17 339,89.18 339.5,89.18 340,89.18 340.5,89.18 341,89.19 341.5,89.19 342,89.19 342.5,89.2 343,89.2 343.5,89.2 344,89.2 344.5,89.2" fill="none" stroke="#f6b378" stroke-width="1.05" stroke-linejoin="round" />
<polyline points="209,152.52 209.5,152.52 210,152.52 210.5,152.52 211,152.52 211.5,152.52 212,152.52 212.5,152.52 213,152.52 213.5,152.52 214,152.51 214.5,152.51 215,152.51 215.5,152.51 216,152.51 216.5,152.51 217,152.5 217.5,152.5 218,152.5 218.5,152.5 219,152.49 219.5,152.49 220,152.49 220.5,152.48 221,152.48 221.5,152.47 222,152.47 222.5,152.47 223,152.46 223.5,152.45 224,152.45 224.5,152.44 225,152.43 225.5,152.43 226,152.42 226.5,152.41 227,152.4 227.5,152.39 228,152.37 228.5,152.36 229,152.34 229.5,152.32 230,152.3 230.5,152.28 231,152.25 231.5,152.22 232,152.18 232.5,152.14 233,152.09 233.5,152.04 234,151.97 234.5,151.9 235,151.82 235.5,151.72 236,151.62 236.5,151.5 237,151.38 237.5,151.23 238,151.08 238.5,150.91 239,150.73 239.5,150.54 240,150.33 240.5,150.11 241,149.89 241.5,149.65 242,149.41 242.5,149.17 243,148.92 243.5,148.68 244,148.43 244.5,148.19 245,147.96 245.5,147.72 246,147.49 246.5,147.27 247,147.04 247.5,146.8 248,146.54 248.5,146.26 249,145.93 249.5,145.53 250,145.06 250.5,144.46 251,143.73 251.5,142.82 252,141.7 252.5,140.34 253,138.71 253.5,136.79 254,134.56 254.5,132.03 255,129.22 255.5,126.16 256,122.91 256.5,119.55 257,116.21 257.5,113.04 258,110.22 258.5,107.96 259,106.45 259.5,105.84 260,106.22 260.5,107.54 261,109.69 261.5,112.47 262,115.7 262.5,119.16 263,122.7 263.5,126.19 264,129.51 264.5,132.61 265,135.44 265.5,137.97 266,140.18 266.5,142.09 267,143.71 267.5,145.06 268,146.17 268.5,147.06 269,147.77 269.5,148.32 270,148.73 270.5,149.02 271,149.22 271.5,149.32 272,149.35 272.5,149.31 273,149.19 273.5,149.02 274,148.78 274.5,148.48 275,148.12 275.5,147.71 276,147.25 276.5,146.74 277,146.19 277.5,145.61 278,145 278.5,144.38 279,143.76 279.5,143.15 280,142.56 280.5,142 281,141.49 281.5,141.02 282,140.61 282.5,140.27 283,139.99 283.5,139.78 284,139.62 284.5,139.51 285,139.44 285.5,139.4 286,139.35 286.5,139.29 287,139.18 287.5,139.01 288,138.74 288.5,138.35 289,137.82 289.5,137.13 290,136.25 290.5,135.17 291,133.87 291.5,132.36 292,130.62 292.5,128.68 293,126.53 293.5,124.21 294,121.73 294.5,119.15 295,116.49 295.5,113.8 296,111.14 296.5,108.57 297,106.14 297.5,103.91 298,101.95 298.5,100.3 299,99.02 299.5,98.16 300,97.73 300.5,97.76 301,98.26 301.5,99.21 302,100.59 302.5,102.36 303,104.48 303.5,106.88 304,109.52 304.5,112.34 305,115.27 305.5,118.27 306,121.28 306.5,124.24 307,127.13 307.5,129.91 308,132.54 308.5,135 309,137.29 309.5,139.38 310,141.27 310.5,142.97 311,144.48 311.5,145.8 312,146.96 312.5,147.95 313,148.81 313.5,149.53 314,150.14 314.5,150.65 315,151.08 315.5,151.42 316,151.71 316.5,151.95 317,152.14 317.5,152.29 318,152.42 318.5,152.53 319,152.61 319.5,152.68 320,152.74 320.5,152.79 321,152.83 321.5,152.87 322,152.9 322.5,152.93 323,152.95 323.5,152.98 324,153 324.5,153.02 325,153.04 325.5,153.05 326,153.07 326.5,153.09 327,153.1 327.5,153.12 328,153.13 328.5,153.14 329,153.16 329.5,153.17 330,153.18 330.5,153.19 331,153.21 331.5,153.22 332,153.23 332.5,153.24 333,153.25 333.5,153.26 334,153.27 334.5,153.28 335,153.29 335.5,153.29 336,153.3 336.5,153.31 337,153.32 337.5,153.33 338,153.34 338.5,153.34 339,153.35 339.5,153.36 340,153.37 340.5,153.37 341,153.38 341.5,153.39 342,153.4 342.5,153.4 343,153.41 343.5,153.42 344,153.42 344.5,153.43" fill="none" stroke="#f6b378" stroke-width="1.05" stroke-linejoin="round" />
<rect x="208.5" y="6.1" width="137.2" height="154.8" fill="none" stroke="#000" stroke-width="1.3"/>
<line x1="208.5" y1="160.9" x2="208.5" y2="162.6" stroke="#000" stroke-width="1.3" />
<line x1="254.23" y1="160.9" x2="254.23" y2="162.6" stroke="#000" stroke-width="1.3" />
<line x1="299.97" y1="160.9" x2="299.97" y2="162.6" stroke="#000" stroke-width="1.3" />
<line x1="345.7" y1="160.9" x2="345.7" y2="162.6" stroke="#000" stroke-width="1.3" />
<text x="208.5" y="172.4" font-family="Liberation Sans, sans-serif" font-size="9.0" font-weight="bold" fill="#111" text-anchor="middle" >295</text>
<text x="254.23" y="172.4" font-family="Liberation Sans, sans-serif" font-size="9.0" font-weight="bold" fill="#111" text-anchor="middle" >290</text>
<text x="299.97" y="172.4" font-family="Liberation Sans, sans-serif" font-size="9.0" font-weight="bold" fill="#111" text-anchor="middle" >285</text>
<text x="345.7" y="172.4" font-family="Liberation Sans, sans-serif" font-size="9.0" font-weight="bold" fill="#111" text-anchor="middle" >280</text>
<text x="277.5" y="182.5" font-family="Liberation Sans, sans-serif" font-size="9.7" font-weight="bold" fill="#111" text-anchor="middle" >Binding energy (eV)</text>
<text x="0" y="0" transform="translate(201.2 77.5) rotate(-90) scale(1 1.06)" font-family="Liberation Sans, sans-serif" font-size="10.0" font-weight="bold" fill="#111" text-anchor="middle" >Intensity (a.u.)</text>
<path d="M258.4,28.3 L260.6,28.3 L259.5,26.1 Z" fill="#222"/>
<path d="M246.1,70 L248.3,70 L247.2,67.8 Z" fill="#222"/>
<path d="M282.5,79.5 L284.7,79.5 L283.6,77.3 Z" fill="#222"/>
<path d="M299.3,30.7 L301.5,30.7 L300.4,28.5 Z" fill="#222"/>
<path d="M314.1,71.3 L316.3,71.3 L315.2,69.1 Z" fill="#222"/>
<text x="258.8" y="22.4" font-family="Liberation Sans, sans-serif" font-size="6.2" font-weight="bold" fill="#111" text-anchor="middle" >CF<tspan font-size="5.4" dy="1.3">2</tspan></text>
<text x="301.6" y="22.3" font-family="Liberation Sans, sans-serif" font-size="6.2" font-weight="bold" fill="#111" text-anchor="middle" >CH<tspan font-size="5.4" dy="1.3">2</tspan></text>
<text x="243.5" y="64.2" font-family="Liberation Sans, sans-serif" font-size="6.2" font-weight="bold" fill="#111" text-anchor="middle" >CF<tspan font-size="5.4" dy="1.3">3</tspan></text>
<text x="283.3" y="67.6" font-family="Liberation Sans, sans-serif" font-size="6.1" font-weight="bold" fill="#111" text-anchor="middle" >C-O</text>
<text x="283.3" y="75" font-family="Liberation Sans, sans-serif" font-size="6.1" font-weight="bold" fill="#111" text-anchor="middle" >C=O</text>
<text x="324.4" y="63.2" font-family="Liberation Sans, sans-serif" font-size="6.0" font-weight="bold" fill="#111" text-anchor="middle" >C-C/C-H</text>
<text x="221.5" y="109.8" font-family="Liberation Sans, sans-serif" font-size="5.8" font-weight="normal" fill="#444" text-anchor="middle" >CN</text>
<defs><radialGradient id="ball" cx="0.45" cy="0.42" r="0.55"><stop offset="0" stop-color="#fff"/><stop offset="0.35" stop-color="#bbb"/><stop offset="0.7" stop-color="#111"/><stop offset="1" stop-color="#000"/></radialGradient>
<linearGradient id="gr" x1="0" y1="0" x2="0" y2="1"><stop offset="0" stop-color="#ff2a2a"/><stop offset="1" stop-color="#fff"/></linearGradient>
<linearGradient id="gg" x1="0" y1="0" x2="0" y2="1"><stop offset="0" stop-color="#8ef08e"/><stop offset="1" stop-color="#fff"/></linearGradient>
<linearGradient id="gbr" gradientUnits="userSpaceOnUse" x1="0" y1="273" x2="0" y2="377"><stop offset="0" stop-color="#cc6038"/><stop offset="0.163" stop-color="#d67c58"/><stop offset="0.365" stop-color="#eaae96"/><stop offset="0.58" stop-color="#f7dcd1"/><stop offset="0.78" stop-color="#fdf4f1"/><stop offset="1" stop-color="#ffffff"/></linearGradient>
<linearGradient id="ggr" gradientUnits="userSpaceOnUse" x1="0" y1="240" x2="0" y2="377"><stop offset="0" stop-color="#aaf0b2"/><stop offset="0.25" stop-color="#bdf3c3"/><stop offset="0.5" stop-color="#d6f7da"/><stop offset="1" stop-color="#f6fdf6"/></linearGradient>
<radialGradient id="ball2" cx="0.5" cy="0.4" r="0.5" fx="0.5" fy="0.35"><stop offset="0" stop-color="#fff"/><stop offset="0.2" stop-color="#bbb"/><stop offset="0.42" stop-color="#111"/><stop offset="1" stop-color="#000"/></radialGradient>
</defs>
<circle cx="395.22" cy="133.27" r="1.5" fill="#dcdcdc" stroke="#050505" stroke-width="1.55"/>
<circle cx="397.51" cy="133.48" r="1.5" fill="#dcdcdc" stroke="#050505" stroke-width="1.55"/>
<circle cx="400.08" cy="131.06" r="1.5" fill="#dcdcdc" stroke="#050505" stroke-width="1.55"/>
<circle cx="400.73" cy="134.39" r="1.5" fill="#dcdcdc" stroke="#050505" stroke-width="1.55"/>
<circle cx="403.27" cy="131.66" r="1.5" fill="#dcdcdc" stroke="#050505" stroke-width="1.55"/>
<circle cx="406.89" cy="132.6" r="1.5" fill="#dcdcdc" stroke="#050505" stroke-width="1.55"/>
<circle cx="408.54" cy="132.52" r="1.5" fill="#dcdcdc" stroke="#050505" stroke-width="1.55"/>
<circle cx="410.11" cy="130.95" r="1.5" fill="#dcdcdc" stroke="#050505" stroke-width="1.55"/>
<circle cx="412.1" cy="133.93" r="1.5" fill="#dcdcdc" stroke="#050505" stroke-width="1.55"/>
<circle cx="413.85" cy="133.14" r="1.5" fill="#dcdcdc" stroke="#050505" stroke-width="1.55"/>
<circle cx="416.18" cy="129.85" r="1.5" fill="#dcdcdc" stroke="#050505" stroke-width="1.55"/>
<circle cx="418.37" cy="131.74" r="1.5" fill="#dcdcdc" stroke="#050505" stroke-width="1.55"/>
<circle cx="419.36" cy="128.69" r="1.5" fill="#dcdcdc" stroke="#050505" stroke-width="1.55"/>
<circle cx="422.6" cy="129.82" r="1.5" fill="#dcdcdc" stroke="#050505" stroke-width="1.55"/>
<circle cx="424.28" cy="130.49" r="1.5" fill="#dcdcdc" stroke="#050505" stroke-width="1.55"/>
<circle cx="426.27" cy="129.15" r="1.5" fill="#dcdcdc" stroke="#050505" stroke-width="1.55"/>
<circle cx="427.07" cy="127.14" r="1.5" fill="#dcdcdc" stroke="#050505" stroke-width="1.55"/>
<circle cx="428.68" cy="125.9" r="1.5" fill="#dcdcdc" stroke="#050505" stroke-width="1.55"/>
<circle cx="431.13" cy="119.97" r="1.5" fill="#dcdcdc" stroke="#050505" stroke-width="1.55"/>
<circle cx="430.5" cy="118.76" r="1.5" fill="#dcdcdc" stroke="#050505" stroke-width="1.55"/>
<circle cx="433.32" cy="117.76" r="1.5" fill="#dcdcdc" stroke="#050505" stroke-width="1.55"/>
<circle cx="433.58" cy="114.97" r="1.5" fill="#dcdcdc" stroke="#050505" stroke-width="1.55"/>
<circle cx="434.32" cy="112.9" r="1.5" fill="#dcdcdc" stroke="#050505" stroke-width="1.55"/>
<circle cx="434.97" cy="111.08" r="1.5" fill="#dcdcdc" stroke="#050505" stroke-width="1.55"/>
<circle cx="436.49" cy="109.52" r="1.5" fill="#dcdcdc" stroke="#050505" stroke-width="1.55"/>
<circle cx="437.7" cy="106.41" r="1.5" fill="#dcdcdc" stroke="#050505" stroke-width="1.55"/>
<circle cx="439.08" cy="103.21" r="1.5" fill="#dcdcdc" stroke="#050505" stroke-width="1.55"/>
<circle cx="439.18" cy="97.73" r="1.5" fill="#dcdcdc" stroke="#050505" stroke-width="1.55"/>
<circle cx="440.09" cy="99.36" r="1.5" fill="#dcdcdc" stroke="#050505" stroke-width="1.55"/>
<circle cx="440.69" cy="95.67" r="1.5" fill="#dcdcdc" stroke="#050505" stroke-width="1.55"/>
<circle cx="440.77" cy="92.08" r="1.5" fill="#dcdcdc" stroke="#050505" stroke-width="1.55"/>
<circle cx="441.53" cy="91.61" r="1.5" fill="#dcdcdc" stroke="#050505" stroke-width="1.55"/>
<circle cx="440.83" cy="87.25" r="1.5" fill="#dcdcdc" stroke="#050505" stroke-width="1.55"/>
<circle cx="442.58" cy="89.16" r="1.5" fill="#dcdcdc" stroke="#050505" stroke-width="1.55"/>
<circle cx="441.39" cy="86.12" r="1.5" fill="#dcdcdc" stroke="#050505" stroke-width="1.55"/>
<circle cx="442.6" cy="81.01" r="1.5" fill="#dcdcdc" stroke="#050505" stroke-width="1.55"/>
<circle cx="442.85" cy="81.44" r="1.5" fill="#dcdcdc" stroke="#050505" stroke-width="1.55"/>
<circle cx="444.62" cy="75.94" r="1.5" fill="#dcdcdc" stroke="#050505" stroke-width="1.55"/>
<circle cx="444.55" cy="73.6" r="1.5" fill="#dcdcdc" stroke="#050505" stroke-width="1.55"/>
<circle cx="445.28" cy="72.5" r="1.5" fill="#dcdcdc" stroke="#050505" stroke-width="1.55"/>
<circle cx="446.14" cy="72.99" r="1.5" fill="#dcdcdc" stroke="#050505" stroke-width="1.55"/>
<circle cx="445.81" cy="70.69" r="1.5" fill="#dcdcdc" stroke="#050505" stroke-width="1.55"/>
<circle cx="445.88" cy="64.25" r="1.5" fill="#dcdcdc" stroke="#050505" stroke-width="1.55"/>
<circle cx="447.02" cy="61.68" r="1.5" fill="#dcdcdc" stroke="#050505" stroke-width="1.55"/>
<circle cx="446.63" cy="60.98" r="1.5" fill="#dcdcdc" stroke="#050505" stroke-width="1.55"/>
<circle cx="448.04" cy="57.55" r="1.5" fill="#dcdcdc" stroke="#050505" stroke-width="1.55"/>
<circle cx="447.29" cy="58.38" r="1.5" fill="#dcdcdc" stroke="#050505" stroke-width="1.55"/>
<circle cx="448.39" cy="56.52" r="1.5" fill="#dcdcdc" stroke="#050505" stroke-width="1.55"/>
<circle cx="450.17" cy="51.75" r="1.5" fill="#dcdcdc" stroke="#050505" stroke-width="1.55"/>
<circle cx="449.71" cy="50.22" r="1.5" fill="#dcdcdc" stroke="#050505" stroke-width="1.55"/>
<circle cx="450.62" cy="48.47" r="1.5" fill="#dcdcdc" stroke="#050505" stroke-width="1.55"/>
<circle cx="450.93" cy="46.57" r="1.5" fill="#dcdcdc" stroke="#050505" stroke-width="1.55"/>
<circle cx="452.27" cy="44.14" r="1.5" fill="#dcdcdc" stroke="#050505" stroke-width="1.55"/>
<circle cx="452.15" cy="41.52" r="1.5" fill="#dcdcdc" stroke="#050505" stroke-width="1.55"/>
<circle cx="452.72" cy="36.56" r="1.5" fill="#dcdcdc" stroke="#050505" stroke-width="1.55"/>
<circle cx="455.35" cy="34.92" r="1.5" fill="#dcdcdc" stroke="#050505" stroke-width="1.55"/>
<circle cx="455.41" cy="30.63" r="1.5" fill="#dcdcdc" stroke="#050505" stroke-width="1.55"/>
<circle cx="456.61" cy="31.19" r="1.5" fill="#dcdcdc" stroke="#050505" stroke-width="1.55"/>
<circle cx="457.74" cy="30.95" r="1.5" fill="#dcdcdc" stroke="#050505" stroke-width="1.55"/>
<circle cx="460.59" cy="29.77" r="1.5" fill="#dcdcdc" stroke="#050505" stroke-width="1.55"/>
<circle cx="462.08" cy="34.01" r="1.5" fill="#dcdcdc" stroke="#050505" stroke-width="1.55"/>
<circle cx="463.19" cy="35.69" r="1.5" fill="#dcdcdc" stroke="#050505" stroke-width="1.55"/>
<circle cx="464.26" cy="39.92" r="1.5" fill="#dcdcdc" stroke="#050505" stroke-width="1.55"/>
<circle cx="463.75" cy="39.76" r="1.5" fill="#dcdcdc" stroke="#050505" stroke-width="1.55"/>
<circle cx="466.19" cy="46.76" r="1.5" fill="#dcdcdc" stroke="#050505" stroke-width="1.55"/>
<circle cx="466.25" cy="47.7" r="1.5" fill="#dcdcdc" stroke="#050505" stroke-width="1.55"/>
<circle cx="468" cy="50.33" r="1.5" fill="#dcdcdc" stroke="#050505" stroke-width="1.55"/>
<circle cx="468.5" cy="53.53" r="1.5" fill="#dcdcdc" stroke="#050505" stroke-width="1.55"/>
<circle cx="469.51" cy="57.97" r="1.5" fill="#dcdcdc" stroke="#050505" stroke-width="1.55"/>
<circle cx="470.36" cy="60.11" r="1.5" fill="#dcdcdc" stroke="#050505" stroke-width="1.55"/>
<circle cx="472.4" cy="61.54" r="1.5" fill="#dcdcdc" stroke="#050505" stroke-width="1.55"/>
<circle cx="472.95" cy="67.46" r="1.5" fill="#dcdcdc" stroke="#050505" stroke-width="1.55"/>
<circle cx="473.38" cy="67.83" r="1.5" fill="#dcdcdc" stroke="#050505" stroke-width="1.55"/>
<circle cx="475.47" cy="70.33" r="1.5" fill="#dcdcdc" stroke="#050505" stroke-width="1.55"/>
<circle cx="475.11" cy="73.41" r="1.5" fill="#dcdcdc" stroke="#050505" stroke-width="1.55"/>
<circle cx="477.24" cy="73.97" r="1.5" fill="#dcdcdc" stroke="#050505" stroke-width="1.55"/>
<circle cx="477.41" cy="76.81" r="1.5" fill="#dcdcdc" stroke="#050505" stroke-width="1.55"/>
<circle cx="479.53" cy="78.9" r="1.5" fill="#dcdcdc" stroke="#050505" stroke-width="1.55"/>
<circle cx="481.08" cy="79.86" r="1.5" fill="#dcdcdc" stroke="#050505" stroke-width="1.55"/>
<circle cx="481.44" cy="83.81" r="1.5" fill="#dcdcdc" stroke="#050505" stroke-width="1.55"/>
<circle cx="484.15" cy="84.55" r="1.5" fill="#dcdcdc" stroke="#050505" stroke-width="1.55"/>
<circle cx="484.2" cy="84.57" r="1.5" fill="#dcdcdc" stroke="#050505" stroke-width="1.55"/>
<circle cx="486.37" cy="86.29" r="1.5" fill="#dcdcdc" stroke="#050505" stroke-width="1.55"/>
<circle cx="488.47" cy="90.59" r="1.5" fill="#dcdcdc" stroke="#050505" stroke-width="1.55"/>
<circle cx="488.6" cy="89.65" r="1.5" fill="#dcdcdc" stroke="#050505" stroke-width="1.55"/>
<circle cx="491.48" cy="92.91" r="1.5" fill="#dcdcdc" stroke="#050505" stroke-width="1.55"/>
<circle cx="492.97" cy="93.43" r="1.5" fill="#dcdcdc" stroke="#050505" stroke-width="1.55"/>
<circle cx="492.99" cy="95.2" r="1.5" fill="#dcdcdc" stroke="#050505" stroke-width="1.55"/>
<circle cx="495.95" cy="97.28" r="1.5" fill="#dcdcdc" stroke="#050505" stroke-width="1.55"/>
<circle cx="496.46" cy="100.25" r="1.5" fill="#dcdcdc" stroke="#050505" stroke-width="1.55"/>
<circle cx="497.62" cy="101.85" r="1.5" fill="#dcdcdc" stroke="#050505" stroke-width="1.55"/>
<circle cx="499.73" cy="102.41" r="1.5" fill="#dcdcdc" stroke="#050505" stroke-width="1.55"/>
<circle cx="498.71" cy="107.58" r="1.5" fill="#dcdcdc" stroke="#050505" stroke-width="1.55"/>
<circle cx="501.64" cy="109.5" r="1.5" fill="#dcdcdc" stroke="#050505" stroke-width="1.55"/>
<circle cx="501.66" cy="111.08" r="1.5" fill="#dcdcdc" stroke="#050505" stroke-width="1.55"/>
<circle cx="503.74" cy="109.61" r="1.5" fill="#dcdcdc" stroke="#050505" stroke-width="1.55"/>
<circle cx="504.34" cy="114.03" r="1.5" fill="#dcdcdc" stroke="#050505" stroke-width="1.55"/>
<circle cx="505.16" cy="114.32" r="1.5" fill="#dcdcdc" stroke="#050505" stroke-width="1.55"/>
<circle cx="505.34" cy="115.18" r="1.5" fill="#dcdcdc" stroke="#050505" stroke-width="1.55"/>
<circle cx="506.7" cy="116.35" r="1.5" fill="#dcdcdc" stroke="#050505" stroke-width="1.55"/>
<circle cx="509" cy="119.54" r="1.5" fill="#dcdcdc" stroke="#050505" stroke-width="1.55"/>
<circle cx="510.98" cy="120.53" r="1.5" fill="#dcdcdc" stroke="#050505" stroke-width="1.55"/>
<circle cx="512.69" cy="125.27" r="1.5" fill="#dcdcdc" stroke="#050505" stroke-width="1.55"/>
<circle cx="514.23" cy="127.86" r="1.5" fill="#dcdcdc" stroke="#050505" stroke-width="1.55"/>
<circle cx="515.68" cy="127.95" r="1.5" fill="#dcdcdc" stroke="#050505" stroke-width="1.55"/>
<circle cx="515.23" cy="130.02" r="1.5" fill="#dcdcdc" stroke="#050505" stroke-width="1.55"/>
<circle cx="517.58" cy="129.55" r="1.5" fill="#dcdcdc" stroke="#050505" stroke-width="1.55"/>
<circle cx="520.66" cy="131.75" r="1.5" fill="#dcdcdc" stroke="#050505" stroke-width="1.55"/>
<circle cx="522.11" cy="134.53" r="1.5" fill="#dcdcdc" stroke="#050505" stroke-width="1.55"/>
<circle cx="524.55" cy="132.65" r="1.5" fill="#dcdcdc" stroke="#050505" stroke-width="1.55"/>
<circle cx="525.76" cy="135.52" r="1.5" fill="#dcdcdc" stroke="#050505" stroke-width="1.55"/>
<circle cx="528.25" cy="135.61" r="1.5" fill="#dcdcdc" stroke="#050505" stroke-width="1.55"/>
<circle cx="529.97" cy="133.37" r="1.5" fill="#dcdcdc" stroke="#050505" stroke-width="1.55"/>
<circle cx="532.38" cy="136.35" r="1.5" fill="#dcdcdc" stroke="#050505" stroke-width="1.55"/>
<circle cx="533.58" cy="136.43" r="1.5" fill="#dcdcdc" stroke="#050505" stroke-width="1.55"/>
<circle cx="537.23" cy="136.64" r="1.5" fill="#dcdcdc" stroke="#050505" stroke-width="1.55"/>
<circle cx="539.01" cy="133.25" r="1.5" fill="#dcdcdc" stroke="#050505" stroke-width="1.55"/>
<circle cx="540.58" cy="137.11" r="1.5" fill="#dcdcdc" stroke="#050505" stroke-width="1.55"/>
<circle cx="541.31" cy="134.58" r="1.5" fill="#dcdcdc" stroke="#050505" stroke-width="1.55"/>
<circle cx="543.79" cy="135.78" r="1.5" fill="#dcdcdc" stroke="#050505" stroke-width="1.55"/>
<polyline points="393.8,133.11 394.3,133.1 394.8,133.09 395.3,133.08 395.8,133.07 396.3,133.06 396.8,133.05 397.3,133.04 397.8,133.02 398.3,133.01 398.8,133 399.3,132.98 399.8,132.97 400.3,132.95 400.8,132.94 401.3,132.92 401.8,132.9 402.3,132.89 402.8,132.87 403.3,132.85 403.8,132.83 404.3,132.8 404.8,132.78 405.3,132.76 405.8,132.73 406.3,132.71 406.8,132.68 407.3,132.65 407.8,132.62 408.3,132.59 408.8,132.56 409.3,132.52 409.8,132.48 410.3,132.44 410.8,132.4 411.3,132.36 411.8,132.31 412.3,132.26 412.8,132.2 413.3,132.14 413.8,132.08 414.3,132.01 414.8,131.93 415.3,131.85 415.8,131.76 416.3,131.67 416.8,131.57 417.3,131.46 417.8,131.34 418.3,131.21 418.8,131.07 419.3,130.92 419.8,130.75 420.3,130.58 420.8,130.38 421.3,130.17 421.8,129.94 422.3,129.7 422.8,129.43 423.3,129.14 423.8,128.83 424.3,128.49 424.8,128.12 425.3,127.73 425.8,127.3 426.3,126.84 426.8,126.35 427.3,125.82 427.8,125.25 428.3,124.64 428.8,123.99 429.3,123.3 429.8,122.55 430.3,121.76 430.8,120.92 431.3,120.02 431.8,119.07 432.3,118.06 432.8,117 433.3,115.87 433.8,114.69 434.3,113.44 434.8,112.13 435.3,110.75 435.8,109.31 436.3,107.81 436.8,106.24 437.3,104.61 437.8,102.91 438.3,101.16 438.8,99.34 439.3,97.46 439.8,95.52 440.3,93.53 440.8,91.48 441.3,89.39 441.8,87.24 442.3,85.06 442.8,82.84 443.3,80.59 443.8,78.31 444.3,76.01 444.8,73.7 445.3,71.37 445.8,69.05 446.3,66.73 446.8,64.42 447.3,62.13 447.8,59.88 448.3,57.66 448.8,55.49 449.3,53.38 449.8,51.33 450.3,49.35 450.8,47.46 451.3,45.67 451.8,43.98 452.3,42.4 452.8,40.95 453.3,39.62 453.8,38.44 454.3,37.4 454.8,36.52 455.3,35.79 455.8,35.23 456.3,34.84 456.8,34.62 457.3,34.58 457.8,34.71 458.3,35.01 458.8,35.48 459.3,36.12 459.8,36.92 460.3,37.88 460.8,38.99 461.3,40.25 461.8,41.64 462.3,43.16 462.8,44.8 463.3,46.54 463.8,48.39 464.3,50.33 464.8,52.35 465.3,54.44 465.8,56.59 466.3,58.79 466.8,61.04 467.3,63.32 467.8,65.63 468.3,67.96 468.8,70.3 469.3,72.64 469.8,74.97 470.3,77.29 470.8,79.6 471.3,81.88 471.8,84.14 472.3,86.35 472.8,88.53 473.3,90.67 473.8,92.76 474.3,94.8 474.8,96.78 475.3,98.71 475.8,100.58 476.3,102.39 476.8,104.14 477.3,105.82 477.8,107.44 478.3,109 478.8,110.49 479.3,111.92 479.8,113.28 480.3,114.58 480.8,115.82 481.3,116.99 481.8,118.11 482.3,119.16 482.8,120.16 483.3,121.1 483.8,121.99 484.3,122.83 484.8,123.61 485.3,124.35 485.8,125.04 486.3,125.69 486.8,126.3 487.3,126.86 487.8,127.39 488.3,127.89 488.8,128.34 489.3,128.77 489.8,129.17 490.3,129.54 490.8,129.88 491.3,130.19 491.8,130.49 492.3,130.76 492.8,131.01 493.3,131.25 493.8,131.47 494.3,131.67 494.8,131.85 495.3,132.03 495.8,132.19 496.3,132.34 496.8,132.48 497.3,132.61 497.8,132.73 498.3,132.84 498.8,132.94 499.3,133.04 499.8,133.13 500.3,133.22 500.8,133.3 501.3,133.38 501.8,133.45 502.3,133.52 502.8,133.58 503.3,133.64 503.8,133.7 504.3,133.75 504.8,133.81 505.3,133.86 505.8,133.91 506.3,133.95 506.8,134 507.3,134.04 507.8,134.08 508.3,134.12 508.8,134.16 509.3,134.2 509.8,134.24 510.3,134.27 510.8,134.31 511.3,134.34 511.8,134.37 512.3,134.41 512.8,134.44 513.3,134.47 513.8,134.5 514.3,134.53 514.8,134.56 515.3,134.59 515.8,134.61 516.3,134.64 516.8,134.67 517.3,134.69 517.8,134.72 518.3,134.74 518.8,134.77 519.3,134.79 519.8,134.82 520.3,134.84 520.8,134.86 521.3,134.89 521.8,134.91 522.3,134.93 522.8,134.95 523.3,134.98 523.8,135 524.3,135.02 524.8,135.04 525.3,135.06 525.8,135.08 526.3,135.1 526.8,135.12 527.3,135.14 527.8,135.16 528.3,135.17 528.8,135.19 529.3,135.21 529.8,135.23 530.3,135.25 530.8,135.27 531.3,135.28 531.8,135.3 532.3,135.32 532.8,135.33 533.3,135.35 533.8,135.37 534.3,135.38 534.8,135.4 535.3,135.42 535.8,135.43 536.3,135.45 536.8,135.46 537.3,135.48 537.8,135.49 538.3,135.51 538.8,135.52 539.3,135.54 539.8,135.55 540.3,135.57 540.8,135.58 541.3,135.6 541.8,135.61 542.3,135.62 542.8,135.64 543.3,135.65 543.8,135.67 544.3,135.68 544.8,135.69 545.3,135.71" fill="none" stroke="#ff1a1a" stroke-width="1.35" stroke-linejoin="round" />
<polyline points="393.8,134.2 394.3,134.21 394.8,134.22 395.3,134.22 395.8,134.23 396.3,134.24 396.8,134.25 397.3,134.25 397.8,134.26 398.3,134.27 398.8,134.27 399.3,134.28 399.8,134.29 400.3,134.29 400.8,134.3 401.3,134.31 401.8,134.31 402.3,134.32 402.8,134.33 403.3,134.33 403.8,134.34 404.3,134.35 404.8,134.36 405.3,134.36 405.8,134.37 406.3,134.38 406.8,134.38 407.3,134.39 407.8,134.4 408.3,134.4 408.8,134.41 409.3,134.42 409.8,134.42 410.3,134.43 410.8,134.44 411.3,134.44 411.8,134.45 412.3,134.46 412.8,134.47 413.3,134.47 413.8,134.48 414.3,134.49 414.8,134.49 415.3,134.5 415.8,134.51 416.3,134.51 416.8,134.52 417.3,134.53 417.8,134.53 418.3,134.54 418.8,134.55 419.3,134.55 419.8,134.56 420.3,134.57 420.8,134.57 421.3,134.58 421.8,134.59 422.3,134.59 422.8,134.6 423.3,134.61 423.8,134.61 424.3,134.62 424.8,134.63 425.3,134.63 425.8,134.64 426.3,134.65 426.8,134.65 427.3,134.66 427.8,134.66 428.3,134.67 428.8,134.68 429.3,134.68 429.8,134.69 430.3,134.69 430.8,134.7 431.3,134.7 431.8,134.71 432.3,134.71 432.8,134.71 433.3,134.72 433.8,134.72 434.3,134.72 434.8,134.72 435.3,134.72 435.8,134.72 436.3,134.72 436.8,134.72 437.3,134.72 437.8,134.71 438.3,134.71 438.8,134.7 439.3,134.69 439.8,134.68 440.3,134.67 440.8,134.66 441.3,134.64 441.8,134.62 442.3,134.6 442.8,134.58 443.3,134.55 443.8,134.52 444.3,134.49 444.8,134.45 445.3,134.41 445.8,134.36 446.3,134.31 446.8,134.26 447.3,134.19 447.8,134.13 448.3,134.05 448.8,133.97 449.3,133.88 449.8,133.78 450.3,133.68 450.8,133.56 451.3,133.44 451.8,133.3 452.3,133.16 452.8,133 453.3,132.84 453.8,132.66 454.3,132.46 454.8,132.26 455.3,132.04 455.8,131.8 456.3,131.55 456.8,131.29 457.3,131 457.8,130.71 458.3,130.39 458.8,130.06 459.3,129.7 459.8,129.33 460.3,128.94 460.8,128.53 461.3,128.1 461.8,127.65 462.3,127.18 462.8,126.69 463.3,126.18 463.8,125.65 464.3,125.1 464.8,124.53 465.3,123.94 465.8,123.33 466.3,122.7 466.8,122.05 467.3,121.39 467.8,120.71 468.3,120.01 468.8,119.3 469.3,118.57 469.8,117.83 470.3,117.07 470.8,116.31 471.3,115.54 471.8,114.76 472.3,113.97 472.8,113.18 473.3,112.39 473.8,111.59 474.3,110.8 474.8,110.01 475.3,109.22 475.8,108.45 476.3,107.68 476.8,106.92 477.3,106.18 477.8,105.45 478.3,104.74 478.8,104.05 479.3,103.39 479.8,102.75 480.3,102.13 480.8,101.54 481.3,100.98 481.8,100.46 482.3,99.97 482.8,99.51 483.3,99.09 483.8,98.71 484.3,98.37 484.8,98.08 485.3,97.82 485.8,97.61 486.3,97.44 486.8,97.31 487.3,97.23 487.8,97.2 488.3,97.21 488.8,97.27 489.3,97.37 489.8,97.52 490.3,97.71 490.8,97.94 491.3,98.22 491.8,98.54 492.3,98.9 492.8,99.31 493.3,99.75 493.8,100.22 494.3,100.73 494.8,101.28 495.3,101.86 495.8,102.46 496.3,103.1 496.8,103.76 497.3,104.45 497.8,105.15 498.3,105.88 498.8,106.62 499.3,107.38 499.8,108.16 500.3,108.94 500.8,109.73 501.3,110.53 501.8,111.34 502.3,112.14 502.8,112.95 503.3,113.76 503.8,114.56 504.3,115.36 504.8,116.15 505.3,116.94 505.8,117.71 506.3,118.48 506.8,119.23 507.3,119.97 507.8,120.69 508.3,121.4 508.8,122.09 509.3,122.77 509.8,123.43 510.3,124.07 510.8,124.69 511.3,125.29 511.8,125.87 512.3,126.43 512.8,126.97 513.3,127.49 513.8,127.99 514.3,128.47 514.8,128.93 515.3,129.36 515.8,129.78 516.3,130.18 516.8,130.57 517.3,130.93 517.8,131.27 518.3,131.6 518.8,131.91 519.3,132.2 519.8,132.48 520.3,132.74 520.8,132.98 521.3,133.21 521.8,133.43 522.3,133.63 522.8,133.83 523.3,134 523.8,134.17 524.3,134.33 524.8,134.47 525.3,134.61 525.8,134.74 526.3,134.85 526.8,134.96 527.3,135.06 527.8,135.16 528.3,135.25 528.8,135.33 529.3,135.4 529.8,135.47 530.3,135.54 530.8,135.59 531.3,135.65 531.8,135.7 532.3,135.75 532.8,135.79 533.3,135.83 533.8,135.87 534.3,135.9 534.8,135.93 535.3,135.96 535.8,135.99 536.3,136.01 536.8,136.04 537.3,136.06 537.8,136.08 538.3,136.1 538.8,136.11 539.3,136.13 539.8,136.14 540.3,136.16 540.8,136.17 541.3,136.19 541.8,136.2 542.3,136.21 542.8,136.22 543.3,136.23 543.8,136.24 544.3,136.25 544.8,136.26 545.3,136.27" fill="none" stroke="#1a1aff" stroke-width="1.35" stroke-linejoin="round" />
<polyline points="393.8,133.11 394.3,133.1 394.8,133.09 395.3,133.08 395.8,133.07 396.3,133.06 396.8,133.05 397.3,133.04 397.8,133.02 398.3,133.01 398.8,133 399.3,132.98 399.8,132.97 400.3,132.95 400.8,132.94 401.3,132.92 401.8,132.9 402.3,132.89 402.8,132.87 403.3,132.85 403.8,132.83 404.3,132.8 404.8,132.78 405.3,132.76 405.8,132.73 406.3,132.71 406.8,132.68 407.3,132.65 407.8,132.62 408.3,132.59 408.8,132.56 409.3,132.52 409.8,132.48 410.3,132.44 410.8,132.4 411.3,132.36 411.8,132.31 412.3,132.26 412.8,132.2 413.3,132.14 413.8,132.08 414.3,132.01 414.8,131.93 415.3,131.85 415.8,131.76 416.3,131.67 416.8,131.57 417.3,131.46 417.8,131.34 418.3,131.21 418.8,131.07 419.3,130.92 419.8,130.75 420.3,130.57 420.8,130.38 421.3,130.17 421.8,129.94 422.3,129.7 422.8,129.43 423.3,129.14 423.8,128.82 424.3,128.48 424.8,128.12 425.3,127.72 425.8,127.3 426.3,126.84 426.8,126.35 427.3,125.82 427.8,125.25 428.3,124.64 428.8,123.98 429.3,123.29 429.8,122.54 430.3,121.75 430.8,120.9 431.3,120 431.8,119.05 432.3,118.04 432.8,116.97 433.3,115.84 433.8,114.65 434.3,113.4 434.8,112.08 435.3,110.7 435.8,109.26 436.3,107.74 436.8,106.17 437.3,104.53 437.8,102.82 438.3,101.05 438.8,99.21 439.3,97.32 439.8,95.37 440.3,93.35 440.8,91.29 441.3,89.17 441.8,87.01 442.3,84.8 442.8,82.55 443.3,80.26 443.8,77.95 444.3,75.6 444.8,73.25 445.3,70.87 445.8,68.49 446.3,66.12 446.8,63.74 447.3,61.39 447.8,59.06 448.3,56.76 448.8,54.5 449.3,52.29 449.8,50.13 450.3,48.05 450.8,46.04 451.3,44.11 451.8,42.28 452.3,40.55 452.8,38.93 453.3,37.44 453.8,36.07 454.3,34.83 454.8,33.73 455.3,32.78 455.8,31.98 456.3,31.33 456.8,30.84 457.3,30.51 457.8,30.33 458.3,30.31 458.8,30.44 459.3,30.72 459.8,31.14 460.3,31.71 460.8,32.4 461.3,33.22 461.8,34.15 462.3,35.2 462.8,36.34 463.3,37.57 463.8,38.88 464.3,40.26 464.8,41.7 465.3,43.19 465.8,44.73 466.3,46.29 466.8,47.89 467.3,49.5 467.8,51.12 468.3,52.74 468.8,54.36 469.3,55.96 469.8,57.55 470.3,59.11 470.8,60.65 471.3,62.15 471.8,63.62 472.3,65.04 472.8,66.43 473.3,67.76 473.8,69.05 474.3,70.29 474.8,71.48 475.3,72.61 475.8,73.7 476.3,74.73 476.8,75.72 477.3,76.65 477.8,77.54 478.3,78.38 478.8,79.17 479.3,79.93 479.8,80.64 480.3,81.32 480.8,81.96 481.3,82.57 481.8,83.15 482.3,83.71 482.8,84.25 483.3,84.76 483.8,85.26 484.3,85.75 484.8,86.24 485.3,86.71 485.8,87.18 486.3,87.65 486.8,88.13 487.3,88.61 487.8,89.1 488.3,89.59 488.8,90.1 489.3,90.62 489.8,91.16 490.3,91.71 490.8,92.28 491.3,92.87 491.8,93.48 492.3,94.11 492.8,94.76 493.3,95.42 493.8,96.11 494.3,96.82 494.8,97.54 495.3,98.29 495.8,99.05 496.3,99.83 496.8,100.62 497.3,101.43 497.8,102.25 498.3,103.08 498.8,103.92 499.3,104.77 499.8,105.63 500.3,106.49 500.8,107.36 501.3,108.23 501.8,109.1 502.3,109.96 502.8,110.83 503.3,111.69 503.8,112.55 504.3,113.39 504.8,114.23 505.3,115.06 505.8,115.88 506.3,116.68 506.8,117.47 507.3,118.25 507.8,119.01 508.3,119.75 508.8,120.47 509.3,121.18 509.8,121.87 510.3,122.53 510.8,123.18 511.3,123.81 511.8,124.42 512.3,125 512.8,125.57 513.3,126.11 513.8,126.63 514.3,127.13 514.8,127.62 515.3,128.08 515.8,128.52 516.3,128.94 516.8,129.34 517.3,129.72 517.8,130.08 518.3,130.43 518.8,130.76 519.3,131.07 519.8,131.36 520.3,131.64 520.8,131.9 521.3,132.15 521.8,132.38 522.3,132.6 522.8,132.8 523.3,133 523.8,133.18 524.3,133.35 524.8,133.51 525.3,133.66 525.8,133.8 526.3,133.93 526.8,134.05 527.3,134.16 527.8,134.27 528.3,134.37 528.8,134.46 529.3,134.55 529.8,134.63 530.3,134.7 530.8,134.77 531.3,134.84 531.8,134.9 532.3,134.96 532.8,135.01 533.3,135.06 533.8,135.11 534.3,135.15 534.8,135.19 535.3,135.23 535.8,135.26 536.3,135.3 536.8,135.33 537.3,135.36 537.8,135.39 538.3,135.42 538.8,135.44 539.3,135.46 539.8,135.49 540.3,135.51 540.8,135.53 541.3,135.55 541.8,135.57 542.3,135.59 542.8,135.61 543.3,135.63 543.8,135.64 544.3,135.66 544.8,135.67 545.3,135.69" fill="none" stroke="#ff00ff" stroke-width="1.25" stroke-linejoin="round" />
<rect x="393.5" y="6.7" width="152.9" height="148.3" fill="none" stroke="#000" stroke-width="1.3"/>
<line x1="393.5" y1="155" x2="393.5" y2="157.6" stroke="#000" stroke-width="1.3" />
<line x1="417.02" y1="155" x2="417.02" y2="157.6" stroke="#000" stroke-width="1.3" />
<line x1="440.55" y1="155" x2="440.55" y2="157.6" stroke="#000" stroke-width="1.3" />
<line x1="464.07" y1="155" x2="464.07" y2="157.6" stroke="#000" stroke-width="1.3" />
<line x1="487.59" y1="155" x2="487.59" y2="157.6" stroke="#000" stroke-width="1.3" />
<line x1="511.12" y1="155" x2="511.12" y2="157.6" stroke="#000" stroke-width="1.3" />
<line x1="534.64" y1="155" x2="534.64" y2="157.6" stroke="#000" stroke-width="1.3" />
<line x1="405.26" y1="155" x2="405.26" y2="156.4" stroke="#000" stroke-width="1.1700000000000002" />
<line x1="428.78" y1="155" x2="428.78" y2="156.4" stroke="#000" stroke-width="1.1700000000000002" />
<line x1="452.31" y1="155" x2="452.31" y2="156.4" stroke="#000" stroke-width="1.1700000000000002" />
<line x1="475.83" y1="155" x2="475.83" y2="156.4" stroke="#000" stroke-width="1.1700000000000002" />
<line x1="499.35" y1="155" x2="499.35" y2="156.4" stroke="#000" stroke-width="1.1700000000000002" />
<line x1="522.88" y1="155" x2="522.88" y2="156.4" stroke="#000" stroke-width="1.1700000000000002" />
<text x="393.5" y="167.5" font-family="Liberation Sans, sans-serif" font-size="9.3" font-weight="bold" fill="#111" text-anchor="middle" >540</text>
<text x="417.02" y="167.5" font-family="Liberation Sans, sans-serif" font-size="9.3" font-weight="bold" fill="#111" text-anchor="middle" >538</text>
<text x="440.55" y="167.5" font-family="Liberation Sans, sans-serif" font-size="9.3" font-weight="bold" fill="#111" text-anchor="middle" >536</text>
<text x="464.07" y="167.5" font-family="Liberation Sans, sans-serif" font-size="9.3" font-weight="bold" fill="#111" text-anchor="middle" >534</text>
<text x="487.59" y="167.5" font-family="Liberation Sans, sans-serif" font-size="9.3" font-weight="bold" fill="#111" text-anchor="middle" >532</text>
<text x="511.12" y="167.5" font-family="Liberation Sans, sans-serif" font-size="9.3" font-weight="bold" fill="#111" text-anchor="middle" >530</text>
<text x="534.64" y="167.5" font-family="Liberation Sans, sans-serif" font-size="9.3" font-weight="bold" fill="#111" text-anchor="middle" >528</text>
<text x="470.3" y="181" font-family="Liberation Sans, sans-serif" font-size="9.7" font-weight="bold" fill="#111" text-anchor="middle" >Binding Energy (eV)</text>
<text x="0" y="0" transform="translate(383.2 77.6) rotate(-90) scale(1 1.06)" font-family="Liberation Sans, sans-serif" font-size="10.0" font-weight="bold" fill="#111" text-anchor="middle" >CPS x 10<tspan font-size="6.8" dy="-3.8">2</tspan></text>
<circle cx="500.8" cy="15.0" r="2.2" fill="url(#ball2)"/>
<text x="515.4" y="18.1" font-family="Liberation Sans, sans-serif" font-size="9.8" font-weight="bold" fill="#111" text-anchor="start" >Exp</text>
<line x1="490.3" y1="27.6" x2="511.9" y2="27.6" stroke="#ff1a1a" stroke-width="1.5" />
<text x="515.4" y="30.8" font-family="Liberation Sans, sans-serif" font-size="9.8" font-weight="bold" fill="#111" text-anchor="start" >C-O</text>
<line x1="490.3" y1="40.4" x2="511.9" y2="40.4" stroke="#1a1aff" stroke-width="1.5" />
<text x="515.4" y="43.6" font-family="Liberation Sans, sans-serif" font-size="9.8" font-weight="bold" fill="#111" text-anchor="start" >C=O</text>
<line x1="490.3" y1="53.3" x2="511.9" y2="53.3" stroke="#ff00ff" stroke-width="1.5" />
<text x="515.4" y="56.5" font-family="Liberation Sans, sans-serif" font-size="9.8" font-weight="bold" fill="#111" text-anchor="start" >Fitted</text>
<text x="460.1" y="24.5" font-family="Liberation Sans, sans-serif" font-size="9.6" font-weight="bold" fill="#ff1a1a" text-anchor="middle" >C-O</text>
<text x="494.5" y="89.4" font-family="Liberation Sans, sans-serif" font-size="9.6" font-weight="bold" fill="#1a1aff" text-anchor="start" >C=O</text>
<path d="M22.4,377.5 L22.4,372.52 22.9,372.47 23.4,372.43 23.9,372.38 24.4,372.33 24.9,372.28 25.4,372.23 25.9,372.18 26.4,372.13 26.9,372.07 27.4,372.02 27.9,371.96 28.4,371.9 28.9,371.84 29.4,371.78 29.9,371.72 30.4,371.65 30.9,371.59 31.4,371.52 31.9,371.45 32.4,371.38 32.9,371.3 33.4,371.23 33.9,371.15 34.4,371.07 34.9,370.98 35.4,370.9 35.9,370.81 36.4,370.72 36.9,370.62 37.4,370.52 37.9,370.42 38.4,370.31 38.9,370.2 39.4,370.09 39.9,369.97 40.4,369.85 40.9,369.72 41.4,369.59 41.9,369.45 42.4,369.3 42.9,369.15 43.4,369 43.9,368.83 44.4,368.66 44.9,368.48 45.4,368.3 45.9,368.1 46.4,367.9 46.9,367.69 47.4,367.47 47.9,367.23 48.4,366.99 48.9,366.74 49.4,366.47 49.9,366.19 50.4,365.9 50.9,365.59 51.4,365.28 51.9,364.94 52.4,364.59 52.9,364.23 53.4,363.84 53.9,363.44 54.4,363.02 54.9,362.59 55.4,362.13 55.9,361.65 56.4,361.15 56.9,360.63 57.4,360.08 57.9,359.51 58.4,358.92 58.9,358.3 59.4,357.66 59.9,356.98 60.4,356.28 60.9,355.55 61.4,354.8 61.9,354.01 62.4,353.19 62.9,352.33 63.4,351.45 63.9,350.53 64.4,349.58 64.9,348.59 65.4,347.57 65.9,346.52 66.4,345.42 66.9,344.29 67.4,343.12 67.9,341.92 68.4,340.68 68.9,339.39 69.4,338.07 69.9,336.72 70.4,335.32 70.9,333.88 71.4,332.41 71.9,330.89 72.4,329.34 72.9,327.75 73.4,326.13 73.9,324.46 74.4,322.76 74.9,321.03 75.4,319.25 75.9,317.45 76.4,315.61 76.9,313.74 77.4,311.84 77.9,309.91 78.4,307.96 78.9,305.97 79.4,303.97 79.9,301.94 80.4,299.89 80.9,297.82 81.4,295.73 81.9,293.64 82.4,291.53 82.9,289.41 83.4,287.29 83.9,285.17 84.4,283.04 84.9,280.92 85.4,278.81 85.9,276.71 86.4,274.63 86.9,272.57 87.4,270.52 87.9,268.51 88.4,266.53 88.9,264.58 89.4,262.68 89.9,260.82 90.4,259.01 90.9,257.26 91.4,255.57 91.9,253.95 92.4,252.39 92.9,250.92 93.4,249.52 93.9,248.21 94.4,246.98 94.9,245.85 95.4,244.82 95.9,243.9 96.4,243.07 96.9,242.36 97.4,241.76 97.9,241.27 98.4,240.9 98.9,240.65 99.4,240.52 99.9,240.51 100.4,240.63 100.9,240.88 101.4,241.25 101.9,241.76 102.4,242.39 102.9,243.15 103.4,244.03 103.9,245.02 104.4,246.13 104.9,247.36 105.4,248.69 105.9,250.12 106.4,251.66 106.9,253.29 107.4,255 107.9,256.81 108.4,258.69 108.9,260.64 109.4,262.67 109.9,264.76 110.4,266.9 110.9,269.1 111.4,271.35 111.9,273.64 112.4,275.96 112.9,278.32 113.4,280.7 113.9,283.11 114.4,285.53 114.9,287.96 115.4,290.4 115.9,292.85 116.4,295.28 116.9,297.72 117.4,300.14 117.9,302.55 118.4,304.94 118.9,307.31 119.4,309.65 119.9,311.97 120.4,314.25 120.9,316.5 121.4,318.72 121.9,320.89 122.4,323.02 122.9,325.11 123.4,327.16 123.9,329.16 124.4,331.11 124.9,333.01 125.4,334.86 125.9,336.66 126.4,338.41 126.9,340.1 127.4,341.74 127.9,343.33 128.4,344.87 128.9,346.35 129.4,347.79 129.9,349.16 130.4,350.49 130.9,351.77 131.4,352.99 131.9,354.16 132.4,355.29 132.9,356.37 133.4,357.4 133.9,358.38 134.4,359.32 134.9,360.22 135.4,361.07 135.9,361.88 136.4,362.65 136.9,363.38 137.4,364.08 137.9,364.74 138.4,365.36 138.9,365.95 139.4,366.51 139.9,367.04 140.4,367.53 140.9,368 141.4,368.44 141.9,368.86 142.4,369.25 142.9,369.62 143.4,369.97 143.9,370.29 144.4,370.6 144.9,370.88 145.4,371.15 145.9,371.4 146.4,371.63 146.9,371.85 147.4,372.06 147.9,372.25 148.4,372.43 148.9,372.6 149.4,372.75 149.9,372.9 150.4,373.04 150.9,373.16 151.4,373.28 151.9,373.39 152.4,373.5 152.9,373.59 153.4,373.68 153.9,373.77 154.4,373.85 154.9,373.92 155.4,373.99 155.9,374.05 156.4,374.11 156.9,374.17 157.4,374.22 157.9,374.27 158.4,374.32 158.9,374.36 159.4,374.41 159.9,374.45 160.4,374.48 160.9,374.52 161.4,374.55 161.9,374.58 162.4,374.61 162.9,374.64 163.4,374.67 163.9,374.69 164.4,374.72 164.9,374.74 165.4,374.76 165.9,374.78 166.4,374.8 166.9,374.82 167.4,374.84 167.9,374.86 168.4,374.88 168.9,374.9 169.4,374.91 169.9,374.93 170.4,374.94 170.9,374.96 171.4,374.97 171.9,374.99 172.4,375 172.9,375.02 L172.9,377.5 Z" fill="url(#ggr)"/>
<path d="M22.4,377.5 L22.4,373.16 22.9,373.12 23.4,373.07 23.9,373.02 24.4,372.98 24.9,372.93 25.4,372.88 25.9,372.83 26.4,372.77 26.9,372.72 27.4,372.66 27.9,372.61 28.4,372.55 28.9,372.49 29.4,372.43 29.9,372.36 30.4,372.3 30.9,372.23 31.4,372.16 31.9,372.09 32.4,372.02 32.9,371.95 33.4,371.87 33.9,371.79 34.4,371.71 34.9,371.62 35.4,371.54 35.9,371.45 36.4,371.35 36.9,371.26 37.4,371.15 37.9,371.05 38.4,370.94 38.9,370.83 39.4,370.71 39.9,370.59 40.4,370.47 40.9,370.34 41.4,370.2 41.9,370.06 42.4,369.91 42.9,369.76 43.4,369.6 43.9,369.43 44.4,369.25 44.9,369.07 45.4,368.88 45.9,368.68 46.4,368.47 46.9,368.26 47.4,368.03 47.9,367.79 48.4,367.55 48.9,367.29 49.4,367.02 49.9,366.73 50.4,366.44 50.9,366.13 51.4,365.8 51.9,365.47 52.4,365.11 52.9,364.74 53.4,364.36 53.9,363.96 54.4,363.54 54.9,363.1 55.4,362.64 55.9,362.16 56.4,361.66 56.9,361.15 57.4,360.61 57.9,360.04 58.4,359.46 58.9,358.85 59.4,358.22 59.9,357.56 60.4,356.88 60.9,356.17 61.4,355.43 61.9,354.67 62.4,353.88 62.9,353.06 63.4,352.21 63.9,351.34 64.4,350.43 64.9,349.49 65.4,348.53 65.9,347.53 66.4,346.51 66.9,345.45 67.4,344.36 67.9,343.24 68.4,342.09 68.9,340.91 69.4,339.7 69.9,338.46 70.4,337.19 70.9,335.89 71.4,334.56 71.9,333.2 72.4,331.81 72.9,330.4 73.4,328.96 73.9,327.5 74.4,326.01 74.9,324.49 75.4,322.96 75.9,321.4 76.4,319.83 76.9,318.23 77.4,316.62 77.9,315 78.4,313.37 78.9,311.72 79.4,310.07 79.9,308.41 80.4,306.75 80.9,305.09 81.4,303.43 81.9,301.78 82.4,300.14 82.9,298.51 83.4,296.9 83.9,295.3 84.4,293.73 84.9,292.19 85.4,290.68 85.9,289.2 86.4,287.77 86.9,286.37 87.4,285.03 87.9,283.74 88.4,282.51 88.9,281.35 89.4,280.24 89.9,279.22 90.4,278.26 90.9,277.39 91.4,276.59 91.9,275.89 92.4,275.27 92.9,274.75 93.4,274.32 93.9,273.99 94.4,273.76 94.9,273.63 95.4,273.6 95.9,273.68 96.4,273.87 96.9,274.16 97.4,274.57 97.9,275.08 98.4,275.7 98.9,276.42 99.4,277.24 99.9,278.17 100.4,279.18 100.9,280.29 101.4,281.49 101.9,282.78 102.4,284.14 102.9,285.59 103.4,287.11 103.9,288.69 104.4,290.34 104.9,292.05 105.4,293.82 105.9,295.63 106.4,297.49 106.9,299.39 107.4,301.32 107.9,303.28 108.4,305.27 108.9,307.28 109.4,309.3 109.9,311.34 110.4,313.38 110.9,315.42 111.4,317.46 111.9,319.49 112.4,321.5 112.9,323.51 113.4,325.49 113.9,327.46 114.4,329.39 114.9,331.3 115.4,333.18 115.9,335.02 116.4,336.83 116.9,338.59 117.4,340.32 117.9,342.01 118.4,343.65 118.9,345.24 119.4,346.79 119.9,348.29 120.4,349.74 120.9,351.15 121.4,352.5 121.9,353.81 122.4,355.07 122.9,356.27 123.4,357.43 123.9,358.54 124.4,359.6 124.9,360.62 125.4,361.59 125.9,362.51 126.4,363.39 126.9,364.23 127.4,365.02 127.9,365.77 128.4,366.48 128.9,367.16 129.4,367.79 129.9,368.39 130.4,368.95 130.9,369.48 131.4,369.98 131.9,370.45 132.4,370.89 132.9,371.3 133.4,371.68 133.9,372.04 134.4,372.37 134.9,372.68 135.4,372.97 135.9,373.24 136.4,373.49 136.9,373.72 137.4,373.93 137.9,374.13 138.4,374.31 138.9,374.48 139.4,374.64 139.9,374.78 140.4,374.91 140.9,375.03 141.4,375.14 141.9,375.24 142.4,375.33 142.9,375.42 143.4,375.49 143.9,375.56 144.4,375.63 144.9,375.68 145.4,375.74 145.9,375.78 146.4,375.83 146.9,375.87 147.4,375.9 147.9,375.93 148.4,375.96 148.9,375.99 149.4,376.01 149.9,376.03 150.4,376.05 150.9,376.07 151.4,376.08 151.9,376.1 152.4,376.11 152.9,376.12 153.4,376.13 153.9,376.14 154.4,376.14 154.9,376.15 155.4,376.16 155.9,376.16 156.4,376.17 156.9,376.17 157.4,376.17 157.9,376.18 158.4,376.18 158.9,376.18 159.4,376.19 159.9,376.19 160.4,376.19 160.9,376.19 161.4,376.19 161.9,376.19 162.4,376.19 162.9,376.19 163.4,376.2 163.9,376.2 164.4,376.2 164.9,376.2 165.4,376.2 165.9,376.2 166.4,376.2 166.9,376.2 167.4,376.2 167.9,376.2 168.4,376.2 168.9,376.2 169.4,376.2 169.9,376.2 170.4,376.2 170.9,376.2 171.4,376.2 171.9,376.2 172.4,376.2 172.9,376.2 L172.9,377.5 Z" fill="url(#gbr)"/>
<line x1="95.5" y1="223.7" x2="95.5" y2="377.5" stroke="#000" stroke-width="0.6" opacity="0.2"/>
<polyline points="22.4,373.16 22.9,373.12 23.4,373.07 23.9,373.02 24.4,372.98 24.9,372.93 25.4,372.88 25.9,372.83 26.4,372.77 26.9,372.72 27.4,372.66 27.9,372.61 28.4,372.55 28.9,372.49 29.4,372.43 29.9,372.36 30.4,372.3 30.9,372.23 31.4,372.16 31.9,372.09 32.4,372.02 32.9,371.95 33.4,371.87 33.9,371.79 34.4,371.71 34.9,371.62 35.4,371.54 35.9,371.45 36.4,371.35 36.9,371.26 37.4,371.15 37.9,371.05 38.4,370.94 38.9,370.83 39.4,370.71 39.9,370.59 40.4,370.47 40.9,370.34 41.4,370.2 41.9,370.06 42.4,369.91 42.9,369.76 43.4,369.6 43.9,369.43 44.4,369.25 44.9,369.07 45.4,368.88 45.9,368.68 46.4,368.47 46.9,368.26 47.4,368.03 47.9,367.79 48.4,367.55 48.9,367.29 49.4,367.02 49.9,366.73 50.4,366.44 50.9,366.13 51.4,365.8 51.9,365.47 52.4,365.11 52.9,364.74 53.4,364.36 53.9,363.96 54.4,363.54 54.9,363.1 55.4,362.64 55.9,362.16 56.4,361.66 56.9,361.15 57.4,360.61 57.9,360.04 58.4,359.46 58.9,358.85 59.4,358.22 59.9,357.56 60.4,356.88 60.9,356.17 61.4,355.43 61.9,354.67 62.4,353.88 62.9,353.06 63.4,352.21 63.9,351.34 64.4,350.43 64.9,349.49 65.4,348.53 65.9,347.53 66.4,346.51 66.9,345.45 67.4,344.36 67.9,343.24 68.4,342.09 68.9,340.91 69.4,339.7 69.9,338.46 70.4,337.19 70.9,335.89 71.4,334.56 71.9,333.2 72.4,331.81 72.9,330.4 73.4,328.96 73.9,327.5 74.4,326.01 74.9,324.49 75.4,322.96 75.9,321.4 76.4,319.83 76.9,318.23 77.4,316.62 77.9,315 78.4,313.37 78.9,311.72 79.4,310.07 79.9,308.41 80.4,306.75 80.9,305.09 81.4,303.43 81.9,301.78 82.4,300.14 82.9,298.51 83.4,296.9 83.9,295.3 84.4,293.73 84.9,292.19 85.4,290.68 85.9,289.2 86.4,287.77 86.9,286.37 87.4,285.03 87.9,283.74 88.4,282.51 88.9,281.35 89.4,280.24 89.9,279.22 90.4,278.26 90.9,277.39 91.4,276.59 91.9,275.89 92.4,275.27 92.9,274.75 93.4,274.32 93.9,273.99 94.4,273.76 94.9,273.63 95.4,273.6 95.9,273.68 96.4,273.87 96.9,274.16 97.4,274.57 97.9,275.08 98.4,275.7 98.9,276.42 99.4,277.24 99.9,278.17 100.4,279.18 100.9,280.29 101.4,281.49 101.9,282.78 102.4,284.14 102.9,285.59 103.4,287.11 103.9,288.69 104.4,290.34 104.9,292.05 105.4,293.82 105.9,295.63 106.4,297.49 106.9,299.39 107.4,301.32 107.9,303.28 108.4,305.27 108.9,307.28 109.4,309.3 109.9,311.34 110.4,313.38 110.9,315.42 111.4,317.46 111.9,319.49 112.4,321.5 112.9,323.51 113.4,325.49 113.9,327.46 114.4,329.39 114.9,331.3 115.4,333.18 115.9,335.02 116.4,336.83 116.9,338.59 117.4,340.32 117.9,342.01 118.4,343.65 118.9,345.24 119.4,346.79 119.9,348.29 120.4,349.74 120.9,351.15 121.4,352.5 121.9,353.81 122.4,355.07 122.9,356.27 123.4,357.43 123.9,358.54 124.4,359.6 124.9,360.62 125.4,361.59 125.9,362.51 126.4,363.39 126.9,364.23 127.4,365.02 127.9,365.77 128.4,366.48 128.9,367.16 129.4,367.79 129.9,368.39 130.4,368.95 130.9,369.48 131.4,369.98 131.9,370.45 132.4,370.89 132.9,371.3 133.4,371.68 133.9,372.04 134.4,372.37 134.9,372.68 135.4,372.97 135.9,373.24 136.4,373.49 136.9,373.72 137.4,373.93 137.9,374.13 138.4,374.31 138.9,374.48 139.4,374.64 139.9,374.78 140.4,374.91 140.9,375.03 141.4,375.14 141.9,375.24 142.4,375.33 142.9,375.42 143.4,375.49 143.9,375.56 144.4,375.63 144.9,375.68 145.4,375.74 145.9,375.78 146.4,375.83 146.9,375.87 147.4,375.9 147.9,375.93 148.4,375.96 148.9,375.99 149.4,376.01 149.9,376.03 150.4,376.05 150.9,376.07 151.4,376.08 151.9,376.1 152.4,376.11 152.9,376.12 153.4,376.13 153.9,376.14 154.4,376.14 154.9,376.15 155.4,376.16 155.9,376.16 156.4,376.17 156.9,376.17 157.4,376.17 157.9,376.18 158.4,376.18 158.9,376.18 159.4,376.19 159.9,376.19 160.4,376.19 160.9,376.19 161.4,376.19 161.9,376.19 162.4,376.19 162.9,376.19 163.4,376.2 163.9,376.2 164.4,376.2 164.9,376.2 165.4,376.2 165.9,376.2 166.4,376.2 166.9,376.2 167.4,376.2 167.9,376.2 168.4,376.2 168.9,376.2 169.4,376.2 169.9,376.2 170.4,376.2 170.9,376.2 171.4,376.2 171.9,376.2 172.4,376.2 172.9,376.2" fill="none" stroke="#f64a38" stroke-width="1.1" stroke-linejoin="round" />
<polyline points="22.4,372.52 22.9,372.47 23.4,372.43 23.9,372.38 24.4,372.33 24.9,372.28 25.4,372.23 25.9,372.18 26.4,372.13 26.9,372.07 27.4,372.02 27.9,371.96 28.4,371.9 28.9,371.84 29.4,371.78 29.9,371.72 30.4,371.65 30.9,371.59 31.4,371.52 31.9,371.45 32.4,371.38 32.9,371.3 33.4,371.23 33.9,371.15 34.4,371.07 34.9,370.98 35.4,370.9 35.9,370.81 36.4,370.72 36.9,370.62 37.4,370.52 37.9,370.42 38.4,370.31 38.9,370.2 39.4,370.09 39.9,369.97 40.4,369.85 40.9,369.72 41.4,369.59 41.9,369.45 42.4,369.3 42.9,369.15 43.4,369 43.9,368.83 44.4,368.66 44.9,368.48 45.4,368.3 45.9,368.1 46.4,367.9 46.9,367.69 47.4,367.47 47.9,367.23 48.4,366.99 48.9,366.74 49.4,366.47 49.9,366.19 50.4,365.9 50.9,365.59 51.4,365.28 51.9,364.94 52.4,364.59 52.9,364.23 53.4,363.84 53.9,363.44 54.4,363.02 54.9,362.59 55.4,362.13 55.9,361.65 56.4,361.15 56.9,360.63 57.4,360.08 57.9,359.51 58.4,358.92 58.9,358.3 59.4,357.66 59.9,356.98 60.4,356.28 60.9,355.55 61.4,354.8 61.9,354.01 62.4,353.19 62.9,352.33 63.4,351.45 63.9,350.53 64.4,349.58 64.9,348.59 65.4,347.57 65.9,346.52 66.4,345.42 66.9,344.29 67.4,343.12 67.9,341.92 68.4,340.68 68.9,339.39 69.4,338.07 69.9,336.72 70.4,335.32 70.9,333.88 71.4,332.41 71.9,330.89 72.4,329.34 72.9,327.75 73.4,326.13 73.9,324.46 74.4,322.76 74.9,321.03 75.4,319.25 75.9,317.45 76.4,315.61 76.9,313.74 77.4,311.84 77.9,309.91 78.4,307.96 78.9,305.97 79.4,303.97 79.9,301.94 80.4,299.89 80.9,297.82 81.4,295.73 81.9,293.64 82.4,291.53 82.9,289.41 83.4,287.29 83.9,285.17 84.4,283.04 84.9,280.92 85.4,278.81 85.9,276.71 86.4,274.63 86.9,272.57 87.4,270.52 87.9,268.51 88.4,266.53 88.9,264.58 89.4,262.68 89.9,260.82 90.4,259.01 90.9,257.26 91.4,255.57 91.9,253.95 92.4,252.39 92.9,250.92 93.4,249.52 93.9,248.21 94.4,246.98 94.9,245.85 95.4,244.82 95.9,243.9 96.4,243.07 96.9,242.36 97.4,241.76 97.9,241.27 98.4,240.9 98.9,240.65 99.4,240.52 99.9,240.51 100.4,240.63 100.9,240.88 101.4,241.25 101.9,241.76 102.4,242.39 102.9,243.15 103.4,244.03 103.9,245.02 104.4,246.13 104.9,247.36 105.4,248.69 105.9,250.12 106.4,251.66 106.9,253.29 107.4,255 107.9,256.81 108.4,258.69 108.9,260.64 109.4,262.67 109.9,264.76 110.4,266.9 110.9,269.1 111.4,271.35 111.9,273.64 112.4,275.96 112.9,278.32 113.4,280.7 113.9,283.11 114.4,285.53 114.9,287.96 115.4,290.4 115.9,292.85 116.4,295.28 116.9,297.72 117.4,300.14 117.9,302.55 118.4,304.94 118.9,307.31 119.4,309.65 119.9,311.97 120.4,314.25 120.9,316.5 121.4,318.72 121.9,320.89 122.4,323.02 122.9,325.11 123.4,327.16 123.9,329.16 124.4,331.11 124.9,333.01 125.4,334.86 125.9,336.66 126.4,338.41 126.9,340.1 127.4,341.74 127.9,343.33 128.4,344.87 128.9,346.35 129.4,347.79 129.9,349.16 130.4,350.49 130.9,351.77 131.4,352.99 131.9,354.16 132.4,355.29 132.9,356.37 133.4,357.4 133.9,358.38 134.4,359.32 134.9,360.22 135.4,361.07 135.9,361.88 136.4,362.65 136.9,363.38 137.4,364.08 137.9,364.74 138.4,365.36 138.9,365.95 139.4,366.51 139.9,367.04 140.4,367.53 140.9,368 141.4,368.44 141.9,368.86 142.4,369.25 142.9,369.62 143.4,369.97 143.9,370.29 144.4,370.6 144.9,370.88 145.4,371.15 145.9,371.4 146.4,371.63 146.9,371.85 147.4,372.06 147.9,372.25 148.4,372.43 148.9,372.6 149.4,372.75 149.9,372.9 150.4,373.04 150.9,373.16 151.4,373.28 151.9,373.39 152.4,373.5 152.9,373.59 153.4,373.68 153.9,373.77 154.4,373.85 154.9,373.92 155.4,373.99 155.9,374.05 156.4,374.11 156.9,374.17 157.4,374.22 157.9,374.27 158.4,374.32 158.9,374.36 159.4,374.41 159.9,374.45 160.4,374.48 160.9,374.52 161.4,374.55 161.9,374.58 162.4,374.61 162.9,374.64 163.4,374.67 163.9,374.69 164.4,374.72 164.9,374.74 165.4,374.76 165.9,374.78 166.4,374.8 166.9,374.82 167.4,374.84 167.9,374.86 168.4,374.88 168.9,374.9 169.4,374.91 169.9,374.93 170.4,374.94 170.9,374.96 171.4,374.97 171.9,374.99 172.4,375 172.9,375.02" fill="none" stroke="#000" stroke-width="1.3" stroke-linejoin="round" />
<line x1="96" y1="273.6" x2="102.8" y2="224.6" stroke="#ff5a4a" stroke-width="0.6" />
<line x1="78.5" y1="311.5" x2="117.8" y2="311.5" stroke="#444" stroke-width="0.7" stroke-dasharray="1.6,1.0"/>
<path d="M77.3,311.5 L79.6,310.4 L79.6,312.6 Z M119,311.5 L116.7,310.4 L116.7,312.6 Z" fill="#333"/>
<path d="M114.4,304.2 L112.6,308.5 L116.3,308.5 Z" fill="none" stroke="#444" stroke-width="0.7" stroke-linejoin="round"/>
<path d="M99.1,226.3 L96.8,231.2 L101.4,231.2 Z" fill="none" stroke="#333" stroke-width="0.95" stroke-linejoin="round"/>
<rect x="21.8" y="223.7" width="152.5" height="153.8" fill="none" stroke="#000" stroke-width="1.3"/>
<line x1="21.8" y1="377.5" x2="21.8" y2="380.1" stroke="#000" stroke-width="1.3" />
<line x1="65.37" y1="377.5" x2="65.37" y2="380.1" stroke="#000" stroke-width="1.3" />
<line x1="108.94" y1="377.5" x2="108.94" y2="380.1" stroke="#000" stroke-width="1.3" />
<line x1="152.51" y1="377.5" x2="152.51" y2="380.1" stroke="#000" stroke-width="1.3" />
<line x1="43.59" y1="377.5" x2="43.59" y2="378.9" stroke="#000" stroke-width="1.1700000000000002" />
<line x1="87.16" y1="377.5" x2="87.16" y2="378.9" stroke="#000" stroke-width="1.1700000000000002" />
<line x1="130.73" y1="377.5" x2="130.73" y2="378.9" stroke="#000" stroke-width="1.1700000000000002" />
<text x="21.8" y="389.5" font-family="Liberation Sans, sans-serif" font-size="10.2" font-weight="bold" fill="#111" text-anchor="middle" >690</text>
<text x="65.37" y="389.5" font-family="Liberation Sans, sans-serif" font-size="10.2" font-weight="bold" fill="#111" text-anchor="middle" >688</text>
<text x="108.94" y="389.5" font-family="Liberation Sans, sans-serif" font-size="10.2" font-weight="bold" fill="#111" text-anchor="middle" >686</text>
<text x="152.51" y="389.5" font-family="Liberation Sans, sans-serif" font-size="10.2" font-weight="bold" fill="#111" text-anchor="middle" >684</text>
<text x="98.2" y="401.5" font-family="Liberation Sans, sans-serif" font-size="10.1" font-weight="bold" fill="#111" text-anchor="middle" >Binding energy (eV)</text>
<text x="0" y="0" transform="translate(12.6 289) rotate(-90) scale(1 1.06)" font-family="Liberation Sans, sans-serif" font-size="9.6" font-weight="bold" fill="#111" text-anchor="middle" >Intensity (a.u.)</text>
<rect x="25.2" y="226.4" width="19.6" height="9.6" fill="url(#gr)" stroke="#999" stroke-width="0.5"/>
<rect x="25.2" y="236.8" width="19.6" height="9.6" fill="url(#gg)" stroke="#ddd" stroke-width="0.4"/>
<text x="47.8" y="234" font-family="Liberation Sans, sans-serif" font-size="8.6" font-weight="bold" fill="#111" text-anchor="start" >PVDF</text>
<text x="47.8" y="245.4" font-family="Liberation Sans, sans-serif" font-size="8.6" font-weight="bold" fill="#111" text-anchor="start" >PVDF/CN</text>
<text x="157.5" y="236.6" font-family="Liberation Sans, sans-serif" font-size="11.0" font-weight="bold" fill="#111" text-anchor="middle" >F1s</text>
<circle cx="207.22" cy="363.02" r="2.6" fill="url(#ball2)"/>
<circle cx="210.03" cy="362.29" r="2.6" fill="url(#ball2)"/>
<circle cx="211.41" cy="363.08" r="2.6" fill="url(#ball2)"/>
<circle cx="212.95" cy="362.4" r="2.6" fill="url(#ball2)"/>
<circle cx="215.71" cy="364.2" r="2.6" fill="url(#ball2)"/>
<circle cx="216.9" cy="360.32" r="2.6" fill="url(#ball2)"/>
<circle cx="218.95" cy="363.4" r="2.6" fill="url(#ball2)"/>
<circle cx="221.96" cy="357.01" r="2.6" fill="url(#ball2)"/>
<circle cx="224.47" cy="362.38" r="2.6" fill="url(#ball2)"/>
<circle cx="226" cy="358.06" r="2.6" fill="url(#ball2)"/>
<circle cx="227.25" cy="351.28" r="2.6" fill="url(#ball2)"/>
<circle cx="229.9" cy="348.41" r="2.6" fill="url(#ball2)"/>
<circle cx="231.4" cy="345.76" r="2.6" fill="url(#ball2)"/>
<circle cx="233.2" cy="342.68" r="2.6" fill="url(#ball2)"/>
<circle cx="235.9" cy="340.2" r="2.6" fill="url(#ball2)"/>
<circle cx="238.08" cy="333.29" r="2.6" fill="url(#ball2)"/>
<circle cx="240.1" cy="328.12" r="2.6" fill="url(#ball2)"/>
<circle cx="242.08" cy="320.61" r="2.6" fill="url(#ball2)"/>
<circle cx="245" cy="322.06" r="2.6" fill="url(#ball2)"/>
<circle cx="246.79" cy="317.67" r="2.6" fill="url(#ball2)"/>
<circle cx="248" cy="313.55" r="2.6" fill="url(#ball2)"/>
<circle cx="250.01" cy="313.44" r="2.6" fill="url(#ball2)"/>
<circle cx="252.83" cy="318.44" r="2.6" fill="url(#ball2)"/>
<circle cx="255" cy="322.26" r="2.6" fill="url(#ball2)"/>
<circle cx="257.23" cy="330.39" r="2.6" fill="url(#ball2)"/>
<circle cx="257.75" cy="331.06" r="2.6" fill="url(#ball2)"/>
<circle cx="261.26" cy="338.19" r="2.6" fill="url(#ball2)"/>
<circle cx="263.42" cy="342.55" r="2.6" fill="url(#ball2)"/>
<circle cx="264.02" cy="348.47" r="2.6" fill="url(#ball2)"/>
<circle cx="267.2" cy="349.33" r="2.6" fill="url(#ball2)"/>
<circle cx="268.14" cy="352.37" r="2.6" fill="url(#ball2)"/>
<circle cx="271.59" cy="357.15" r="2.6" fill="url(#ball2)"/>
<circle cx="272.29" cy="354.35" r="2.6" fill="url(#ball2)"/>
<circle cx="274.31" cy="353.08" r="2.6" fill="url(#ball2)"/>
<circle cx="277.48" cy="353.2" r="2.6" fill="url(#ball2)"/>
<circle cx="279.14" cy="353.58" r="2.6" fill="url(#ball2)"/>
<circle cx="280.61" cy="353.21" r="2.6" fill="url(#ball2)"/>
<circle cx="282.56" cy="349.25" r="2.6" fill="url(#ball2)"/>
<circle cx="284.59" cy="343.39" r="2.6" fill="url(#ball2)"/>
<circle cx="286.79" cy="337.15" r="2.6" fill="url(#ball2)"/>
<circle cx="290.05" cy="335.06" r="2.6" fill="url(#ball2)"/>
<circle cx="291.04" cy="329.16" r="2.6" fill="url(#ball2)"/>
<circle cx="292.94" cy="318.88" r="2.6" fill="url(#ball2)"/>
<circle cx="296.02" cy="314.03" r="2.6" fill="url(#ball2)"/>
<circle cx="296.86" cy="310.44" r="2.6" fill="url(#ball2)"/>
<circle cx="299.09" cy="300.06" r="2.6" fill="url(#ball2)"/>
<circle cx="302.04" cy="296.86" r="2.6" fill="url(#ball2)"/>
<circle cx="303.32" cy="293.07" r="2.6" fill="url(#ball2)"/>
<circle cx="305.04" cy="296.75" r="2.6" fill="url(#ball2)"/>
<circle cx="307.34" cy="298.9" r="2.6" fill="url(#ball2)"/>
<circle cx="309.59" cy="301.69" r="2.6" fill="url(#ball2)"/>
<circle cx="312.58" cy="307.29" r="2.6" fill="url(#ball2)"/>
<circle cx="314.02" cy="316.49" r="2.6" fill="url(#ball2)"/>
<circle cx="315.44" cy="318.39" r="2.6" fill="url(#ball2)"/>
<circle cx="318.65" cy="330.29" r="2.6" fill="url(#ball2)"/>
<circle cx="319.65" cy="332.59" r="2.6" fill="url(#ball2)"/>
<circle cx="322.48" cy="344.17" r="2.6" fill="url(#ball2)"/>
<circle cx="323.66" cy="349.59" r="2.6" fill="url(#ball2)"/>
<circle cx="326.81" cy="351.52" r="2.6" fill="url(#ball2)"/>
<circle cx="328.12" cy="351.45" r="2.6" fill="url(#ball2)"/>
<circle cx="329.56" cy="360.32" r="2.6" fill="url(#ball2)"/>
<circle cx="331.93" cy="360.44" r="2.6" fill="url(#ball2)"/>
<circle cx="334.01" cy="362.7" r="2.6" fill="url(#ball2)"/>
<circle cx="336.6" cy="359.84" r="2.6" fill="url(#ball2)"/>
<circle cx="337.98" cy="363.54" r="2.6" fill="url(#ball2)"/>
<circle cx="339.86" cy="360.4" r="2.6" fill="url(#ball2)"/>
<circle cx="342.69" cy="365.14" r="2.6" fill="url(#ball2)"/>
<circle cx="344.83" cy="361.16" r="2.6" fill="url(#ball2)"/>
<circle cx="347.37" cy="360.69" r="2.6" fill="url(#ball2)"/>
<circle cx="347.98" cy="361.21" r="2.6" fill="url(#ball2)"/>
<circle cx="350.71" cy="359.72" r="2.6" fill="url(#ball2)"/>
<circle cx="352.33" cy="361.95" r="2.6" fill="url(#ball2)"/>
<circle cx="355.02" cy="360.25" r="2.6" fill="url(#ball2)"/>
<circle cx="356.73" cy="365.71" r="2.6" fill="url(#ball2)"/>
<polyline points="206.1,362.64 206.6,362.63 207.1,362.62 207.6,362.62 208.1,362.61 208.6,362.6 209.1,362.6 209.6,362.59 210.1,362.59 210.6,362.58 211.1,362.57 211.6,362.57 212.1,362.56 212.6,362.55 213.1,362.55 213.6,362.54 214.1,362.53 214.6,362.53 215.1,362.52 215.6,362.51 216.1,362.5 216.6,362.5 217.1,362.49 217.6,362.48 218.1,362.47 218.6,362.47 219.1,362.46 219.6,362.45 220.1,362.44 220.6,362.43 221.1,362.43 221.6,362.42 222.1,362.41 222.6,362.4 223.1,362.39 223.6,362.38 224.1,362.38 224.6,362.37 225.1,362.36 225.6,362.35 226.1,362.34 226.6,362.33 227.1,362.32 227.6,362.31 228.1,362.3 228.6,362.29 229.1,362.28 229.6,362.27 230.1,362.26 230.6,362.25 231.1,362.24 231.6,362.23 232.1,362.22 232.6,362.21 233.1,362.2 233.6,362.19 234.1,362.17 234.6,362.16 235.1,362.15 235.6,362.14 236.1,362.13 236.6,362.12 237.1,362.1 237.6,362.09 238.1,362.08 238.6,362.07 239.1,362.05 239.6,362.04 240.1,362.03 240.6,362.01 241.1,362 241.6,361.99 242.1,361.97 242.6,361.96 243.1,361.94 243.6,361.93 244.1,361.91 244.6,361.9 245.1,361.88 245.6,361.87 246.1,361.85 246.6,361.84 247.1,361.82 247.6,361.8 248.1,361.79 248.6,361.77 249.1,361.75 249.6,361.74 250.1,361.72 250.6,361.7 251.1,361.68 251.6,361.66 252.1,361.64 252.6,361.63 253.1,361.61 253.6,361.59 254.1,361.57 254.6,361.54 255.1,361.52 255.6,361.5 256.1,361.48 256.6,361.46 257.1,361.43 257.6,361.41 258.1,361.38 258.6,361.36 259.1,361.33 259.6,361.3 260.1,361.27 260.6,361.24 261.1,361.21 261.6,361.18 262.1,361.14 262.6,361.11 263.1,361.07 263.6,361.02 264.1,360.98 264.6,360.93 265.1,360.88 265.6,360.82 266.1,360.76 266.6,360.7 267.1,360.62 267.6,360.55 268.1,360.46 268.6,360.37 269.1,360.27 269.6,360.16 270.1,360.03 270.6,359.9 271.1,359.76 271.6,359.6 272.1,359.42 272.6,359.23 273.1,359.03 273.6,358.8 274.1,358.55 274.6,358.28 275.1,357.98 275.6,357.66 276.1,357.32 276.6,356.94 277.1,356.53 277.6,356.09 278.1,355.61 278.6,355.09 279.1,354.54 279.6,353.94 280.1,353.31 280.6,352.63 281.1,351.9 281.6,351.12 282.1,350.3 282.6,349.43 283.1,348.5 283.6,347.53 284.1,346.5 284.6,345.42 285.1,344.29 285.6,343.11 286.1,341.88 286.6,340.6 287.1,339.27 287.6,337.89 288.1,336.47 288.6,335.01 289.1,333.51 289.6,331.98 290.1,330.41 290.6,328.82 291.1,327.21 291.6,325.58 292.1,323.94 292.6,322.29 293.1,320.63 293.6,318.98 294.1,317.34 294.6,315.72 295.1,314.12 295.6,312.54 296.1,311 296.6,309.5 297.1,308.04 297.6,306.64 298.1,305.3 298.6,304.02 299.1,302.82 299.6,301.69 300.1,300.65 300.6,299.7 301.1,298.85 301.6,298.09 302.1,297.44 302.6,296.9 303.1,296.48 303.6,296.17 304.1,295.97 304.6,295.9 305.1,295.94 305.6,296.11 306.1,296.4 306.6,296.8 307.1,297.32 307.6,297.96 308.1,298.71 308.6,299.57 309.1,300.52 309.6,301.58 310.1,302.73 310.6,303.97 311.1,305.29 311.6,306.68 312.1,308.14 312.6,309.66 313.1,311.24 313.6,312.86 314.1,314.52 314.6,316.21 315.1,317.92 315.6,319.66 316.1,321.4 316.6,323.15 317.1,324.89 317.6,326.63 318.1,328.35 318.6,330.05 319.1,331.72 319.6,333.37 320.1,334.98 320.6,336.55 321.1,338.08 321.6,339.56 322.1,341 322.6,342.39 323.1,343.72 323.6,345 324.1,346.23 324.6,347.4 325.1,348.52 325.6,349.58 326.1,350.58 326.6,351.54 327.1,352.43 327.6,353.28 328.1,354.07 328.6,354.82 329.1,355.51 329.6,356.16 330.1,356.76 330.6,357.32 331.1,357.84 331.6,358.32 332.1,358.76 332.6,359.17 333.1,359.54 333.6,359.88 334.1,360.2 334.6,360.48 335.1,360.74 335.6,360.98 336.1,361.19 336.6,361.38 337.1,361.56 337.6,361.71 338.1,361.86 338.6,361.98 339.1,362.09 339.6,362.19 340.1,362.28 340.6,362.36 341.1,362.43 341.6,362.5 342.1,362.55 342.6,362.6 343.1,362.64 343.6,362.68 344.1,362.71 344.6,362.74 345.1,362.77 345.6,362.79 346.1,362.81 346.6,362.82 347.1,362.84 347.6,362.85 348.1,362.86 348.6,362.87 349.1,362.87 349.6,362.88 350.1,362.88 350.6,362.89 351.1,362.89 351.6,362.89 352.1,362.9 352.6,362.9 353.1,362.9 353.6,362.9 354.1,362.9 354.6,362.9 355.1,362.9 355.6,362.9 356.1,362.9 356.6,362.9 357.1,362.9" fill="none" stroke="#f03a3a" stroke-width="1.1" stroke-linejoin="round" />
<polyline points="255.1,326.11 255.6,327.3 256.1,328.52 256.6,329.78 257.1,331.07 257.6,332.37 258.1,333.69 258.6,335.01 259.1,336.34 259.6,337.65 260.1,338.96 260.6,340.25 261.1,341.52 261.6,342.76 262.1,343.97 262.6,345.16 263.1,346.3 263.6,347.41 264.1,348.48 264.6,349.5 265.1,350.48 265.6,351.42 266.1,352.31 266.6,353.15 267.1,353.95 267.6,354.7 268.1,355.41 268.6,356.07 269.1,356.69 269.6,357.27 270.1,357.81 270.6,358.3 271.1,358.76 271.6,359.19 272.1,359.58 272.6,359.93 273.1,360.26 273.6,360.56 274.1,360.83 274.6,361.08 275.1,361.3 275.6,361.5 276.1,361.68 276.6,361.85 277.1,361.99 277.6,362.12 278.1,362.24 278.6,362.34 279.1,362.43 279.6,362.51 280.1,362.58 280.6,362.64 281.1,362.7 281.6,362.75 282.1,362.79 282.6,362.82 283.1,362.86 283.6,362.88 284.1,362.91 284.6,362.93 285.1,362.94 285.6,362.96 286.1,362.97 286.6,362.98 287.1,362.99 287.6,363 288.1,363 288.6,363.01 289.1,363.01 289.6,363.01 290.1,363.02 290.6,363.02 291.1,363.02 291.6,363.02 292.1,363.02 292.6,363.02 293.1,363.02 293.6,363.02 294.1,363.02 294.6,363.02 295.1,363.02 295.6,363.02 296.1,363.02 296.6,363.02 297.1,363.02 297.6,363.02 298.1,363.02 298.6,363.02 299.1,363.02 299.6,363.02 300.1,363.01 300.6,363.01 301.1,363.01 301.6,363.01 302.1,363.01 302.6,363.01 303.1,363.01 303.6,363.01 304.1,363.01 304.6,363.01 305.1,363 305.6,363 306.1,363 306.6,363 307.1,363 307.6,363 308.1,363 308.6,363 309.1,363 309.6,363 310.1,362.99 310.6,362.99 311.1,362.99 311.6,362.99 312.1,362.99 312.6,362.99 313.1,362.99 313.6,362.99 314.1,362.99 314.6,362.99 315.1,362.98 315.6,362.98 316.1,362.98 316.6,362.98 317.1,362.98 317.6,362.98 318.1,362.98 318.6,362.98 319.1,362.98 319.6,362.98 320.1,362.98 320.6,362.97 321.1,362.97 321.6,362.97 322.1,362.97 322.6,362.97 323.1,362.97 323.6,362.97 324.1,362.97 324.6,362.97 325.1,362.97 325.6,362.96 326.1,362.96 326.6,362.96 327.1,362.96 327.6,362.96 328.1,362.96 328.6,362.96 329.1,362.96 329.6,362.96 330.1,362.96 330.6,362.95 331.1,362.95 331.6,362.95 332.1,362.95 332.6,362.95 333.1,362.95 333.6,362.95 334.1,362.95 334.6,362.95 335.1,362.95 335.6,362.94 336.1,362.94 336.6,362.94 337.1,362.94 337.6,362.94 338.1,362.94 338.6,362.94 339.1,362.94 339.6,362.94 340.1,362.94 340.6,362.93 341.1,362.93 341.6,362.93 342.1,362.93 342.6,362.93 343.1,362.93 343.6,362.93 344.1,362.93 344.6,362.93 345.1,362.93 345.6,362.92 346.1,362.92 346.6,362.92 347.1,362.92 347.6,362.92 348.1,362.92 348.6,362.92 349.1,362.92 349.6,362.92 350.1,362.92 350.6,362.92 351.1,362.91 351.6,362.91 352.1,362.91 352.6,362.91 353.1,362.91 353.6,362.91 354.1,362.91 354.6,362.91 355.1,362.91 355.6,362.91 356.1,362.9 356.6,362.9 357.1,362.9" fill="none" stroke="#1a6fe8" stroke-width="1.1" stroke-linejoin="round" />
<polyline points="206.1,362.62 206.6,362.61 207.1,362.6 207.6,362.58 208.1,362.57 208.6,362.56 209.1,362.54 209.6,362.53 210.1,362.51 210.6,362.49 211.1,362.46 211.6,362.44 212.1,362.41 212.6,362.38 213.1,362.34 213.6,362.3 214.1,362.25 214.6,362.2 215.1,362.14 215.6,362.08 216.1,362 216.6,361.92 217.1,361.83 217.6,361.72 218.1,361.61 218.6,361.48 219.1,361.33 219.6,361.17 220.1,360.99 220.6,360.8 221.1,360.58 221.6,360.34 222.1,360.07 222.6,359.78 223.1,359.46 223.6,359.11 224.1,358.73 224.6,358.32 225.1,357.87 225.6,357.38 226.1,356.86 226.6,356.3 227.1,355.69 227.6,355.04 228.1,354.35 228.6,353.62 229.1,352.84 229.6,352.01 230.1,351.13 230.6,350.21 231.1,349.25 231.6,348.24 232.1,347.19 232.6,346.09 233.1,344.96 233.6,343.78 234.1,342.58 234.6,341.34 235.1,340.07 235.6,338.78 236.1,337.47 236.6,336.15 237.1,334.82 237.6,333.48 238.1,332.14 238.6,330.82 239.1,329.51 239.6,328.22 240.1,326.95 240.6,325.73 241.1,324.54 241.6,323.4 242.1,322.32 242.6,321.29 243.1,320.33 243.6,319.45 244.1,318.64 244.6,317.92 245.1,317.28 245.6,316.74 246.1,316.29 246.6,315.94 247.1,315.69 247.6,315.54 248.1,315.49 248.6,315.54 249.1,315.7 249.6,315.96 250.1,316.32 250.6,316.77 251.1,317.32 251.6,317.96 252.1,318.68 252.6,319.49 253.1,320.37 253.6,321.32 254.1,322.33 254.6,323.4 255.1,324.53 255.6,325.7 256.1,326.9 256.6,328.14 257.1,329.4 257.6,330.69 258.1,331.98 258.6,333.28 259.1,334.57 259.6,335.86 260.1,337.14 260.6,338.4 261.1,339.64 261.6,340.85 262.1,342.03 262.6,343.17 263.1,344.28 263.6,345.35 264.1,346.37 264.6,347.35 265.1,348.28 265.6,349.16 266.1,349.99 266.6,350.76 267.1,351.49 267.6,352.17 268.1,352.79 268.6,353.36 269.1,353.88 269.6,354.35 270.1,354.77 270.6,355.13 271.1,355.45 271.6,355.71 272.1,355.93 272.6,356.1 273.1,356.22 273.6,356.29 274.1,356.32 274.6,356.29 275.1,356.22 275.6,356.1 276.1,355.94 276.6,355.72 277.1,355.46 277.6,355.15 278.1,354.79 278.6,354.38 279.1,353.91 279.6,353.4 280.1,352.84 280.6,352.22 281.1,351.55 281.6,350.82 282.1,350.04 282.6,349.2 283.1,348.31 283.6,347.36 284.1,346.36 284.6,345.3 285.1,344.19 285.6,343.02 286.1,341.81 286.6,340.53 287.1,339.21 287.6,337.85 288.1,336.43 288.6,334.98 289.1,333.49 289.6,331.96 290.1,330.4 290.6,328.81 291.1,327.2 291.6,325.57 292.1,323.93 292.6,322.28 293.1,320.63 293.6,318.98 294.1,317.34 294.6,315.72 295.1,314.11 295.6,312.54 296.1,311 296.6,309.49 297.1,308.04 297.6,306.64 298.1,305.29 298.6,304.02 299.1,302.82 299.6,301.69 300.1,300.65 300.6,299.7 301.1,298.85 301.6,298.09 302.1,297.44 302.6,296.9 303.1,296.48 303.6,296.17 304.1,295.97 304.6,295.9 305.1,295.94 305.6,296.11 306.1,296.4 306.6,296.8 307.1,297.32 307.6,297.96 308.1,298.71 308.6,299.57 309.1,300.52 309.6,301.58 310.1,302.73 310.6,303.97 311.1,305.29 311.6,306.68 312.1,308.14 312.6,309.66 313.1,311.24 313.6,312.86 314.1,314.52 314.6,316.21 315.1,317.92 315.6,319.66 316.1,321.4 316.6,323.15 317.1,324.89 317.6,326.63 318.1,328.35 318.6,330.05 319.1,331.72 319.6,333.37 320.1,334.98 320.6,336.55 321.1,338.08 321.6,339.56 322.1,341 322.6,342.39 323.1,343.72 323.6,345 324.1,346.23 324.6,347.4 325.1,348.52 325.6,349.58 326.1,350.58 326.6,351.54 327.1,352.43 327.6,353.28 328.1,354.07 328.6,354.82 329.1,355.51 329.6,356.16 330.1,356.76 330.6,357.32 331.1,357.84 331.6,358.32 332.1,358.76 332.6,359.17 333.1,359.54 333.6,359.88 334.1,360.2 334.6,360.48 335.1,360.74 335.6,360.98 336.1,361.19 336.6,361.38 337.1,361.56 337.6,361.71 338.1,361.86 338.6,361.98 339.1,362.09 339.6,362.19 340.1,362.28 340.6,362.36 341.1,362.43 341.6,362.5 342.1,362.55 342.6,362.6 343.1,362.64 343.6,362.68 344.1,362.71 344.6,362.74 345.1,362.77 345.6,362.79 346.1,362.81 346.6,362.82 347.1,362.84 347.6,362.85 348.1,362.86 348.6,362.87 349.1,362.87 349.6,362.88 350.1,362.88 350.6,362.89 351.1,362.89 351.6,362.89 352.1,362.9 352.6,362.9 353.1,362.9 353.6,362.9 354.1,362.9 354.6,362.9 355.1,362.9 355.6,362.9 356.1,362.9 356.6,362.9 357.1,362.9" fill="none" stroke="#22a05a" stroke-width="1.1" stroke-linejoin="round" />
<path d="M205.8,378.7 L205.8,220.6 L358.3,220.6 L358.3,378.7 Z" fill="none" stroke="#111" stroke-width="1.5"/>
<line x1="205.8" y1="220" x2="205.8" y2="379.3" stroke="#111" stroke-width="2.0" />
<line x1="221.85" y1="378.7" x2="221.85" y2="381.3" stroke="#000" stroke-width="1.3" />
<line x1="253.96" y1="378.7" x2="253.96" y2="381.3" stroke="#000" stroke-width="1.3" />
<line x1="286.06" y1="378.7" x2="286.06" y2="381.3" stroke="#000" stroke-width="1.3" />
<line x1="318.17" y1="378.7" x2="318.17" y2="381.3" stroke="#000" stroke-width="1.3" />
<line x1="350.27" y1="378.7" x2="350.27" y2="381.3" stroke="#000" stroke-width="1.3" />
<line x1="237.91" y1="378.7" x2="237.91" y2="380.1" stroke="#000" stroke-width="1.1700000000000002" />
<line x1="270.01" y1="378.7" x2="270.01" y2="380.1" stroke="#000" stroke-width="1.1700000000000002" />
<line x1="302.12" y1="378.7" x2="302.12" y2="380.1" stroke="#000" stroke-width="1.1700000000000002" />
<line x1="334.22" y1="378.7" x2="334.22" y2="380.1" stroke="#000" stroke-width="1.1700000000000002" />
<text x="221.85" y="391.6" font-family="Liberation Sans, sans-serif" font-size="9.6" font-weight="bold" fill="#111" text-anchor="middle" >352</text>
<text x="253.96" y="391.6" font-family="Liberation Sans, sans-serif" font-size="9.6" font-weight="bold" fill="#111" text-anchor="middle" >350</text>
<text x="286.06" y="391.6" font-family="Liberation Sans, sans-serif" font-size="9.6" font-weight="bold" fill="#111" text-anchor="middle" >348</text>
<text x="318.17" y="391.6" font-family="Liberation Sans, sans-serif" font-size="9.6" font-weight="bold" fill="#111" text-anchor="middle" >346</text>
<text x="350.27" y="391.6" font-family="Liberation Sans, sans-serif" font-size="9.6" font-weight="bold" fill="#111" text-anchor="middle" >344</text>
<text x="286.5" y="403.8" font-family="Liberation Sans, sans-serif" font-size="9.6" font-weight="bold" fill="#111" text-anchor="middle" >Binding Energy (eV)</text>
<text x="0" y="0" transform="translate(196.6 292) rotate(-90) scale(1 1.06)" font-family="Liberation Sans, sans-serif" font-size="9.6" font-weight="bold" fill="#111" text-anchor="middle" >CPS x 10<tspan font-size="6.3" dy="-3.5">2</tspan></text>
<circle cx="218.4" cy="228.4" r="2.4" fill="url(#ball2)"/>
<text x="229.5" y="231.7" font-family="Liberation Sans, sans-serif" font-size="8.3" font-weight="bold" fill="#111" text-anchor="start" >Exp</text>
<line x1="209.2" y1="238.4" x2="227.4" y2="238.4" stroke="#22a05a" stroke-width="1.5" />
<text x="229.5" y="241.9" font-family="Liberation Sans, sans-serif" font-size="8.3" font-weight="bold" fill="#111" text-anchor="start" >Fitted</text>
<line x1="209.2" y1="248.9" x2="227.4" y2="248.9" stroke="#f03a3a" stroke-width="1.5" />
<text x="229.5" y="252.4" font-family="Liberation Sans, sans-serif" font-size="8.3" font-weight="bold" fill="#111" text-anchor="start" >Ca 2p3/2</text>
<line x1="209.2" y1="259.4" x2="227.4" y2="259.4" stroke="#1a6fe8" stroke-width="1.5" />
<text x="229.5" y="262.9" font-family="Liberation Sans, sans-serif" font-size="8.3" font-weight="bold" fill="#111" text-anchor="start" >Ca 2p1/2</text>
<text x="240.6" y="301.4" font-family="Liberation Sans, sans-serif" font-size="8.2" font-weight="normal" fill="#2424f4" text-anchor="start" stroke="#2424f4" stroke-width="0.3">Ca2p<tspan font-size="4" dy="2.3" stroke-width="0.1">1/2</tspan></text>
<text x="298.4" y="284.8" font-family="Liberation Sans, sans-serif" font-size="8.2" font-weight="normal" fill="#f42424" text-anchor="start" stroke="#f42424" stroke-width="0.3">Ca2p<tspan font-size="4" dy="2.3" stroke-width="0.1">3/2</tspan></text>
<polyline points="389.7,361.8 391,362.2 391.8,360.99 392.6,361.1 394,359 395,358.38 396,356.5 397,355.22 398,353 398.97,350.39 399.93,348.66 400.9,346.5 401.7,343.16 402.5,340 404,334 405.2,330 406.2,328.7 407.5,330 409,333 410.5,334.5 411.45,336.02 412.4,337 413.2,338.77 414,339.5 415,339.77 416,341.5 417,341.65 418,343.5 419,345.1 420,345.5 420.9,345.88 421.8,346.5 423,345 424.5,345.5 426,343 427,342.97 428,342 429.1,339.7 430.2,339.2 431.1,335.5 432,332 433.5,326 434.45,325.15 435.4,323.5 436.2,323.76 437,325 438.5,331 440,339 441.5,346 442.8,349.6 444,347 445.5,340 447,330 448.5,322 449.6,320.9 450.7,318.2 452,321 453.5,327 455,333 456.5,338 457.8,340.2 458.65,339.82 459.5,338 461,337 462,334.66 463,334 463.93,332.41 464.87,332.61 465.8,331.8 466.65,330.19 467.5,327 469,320 470.5,311 472,303 473.5,298 474.6,296.7 475.8,298 477,303 478.5,314 479.7,322.69 480.9,331.8 481.95,336.89 483,343 484.05,347.21 485.1,351.7 486.05,353 487,356 488,357.25 489,359.5 490,360.89 491,362.5 491.83,363.43 492.67,363.89 493.5,365.3 494.33,366.05 495.17,367.26 496,369 496.93,370.35 497.85,371.47 498.77,372.41 499.7,374.7 500.52,375.76 501.35,375.7 502.18,376.31 503,376.5 503.8,376.11 504.6,377.75 505.4,377.69 506.2,376.54 507,377.4 507.83,377.2 508.67,378 509.5,378.08 510.33,378.59 511.17,377.76 512,378 512.86,378.67 513.71,378.45 514.57,377.86 515.43,378.44 516.29,379.05 517.14,379.05 518,378.5 518.86,378.47 519.71,378.57 520.57,377.53 521.43,377.87 522.29,378.82 523.14,378.09 524,378.2 524.86,377.67 525.71,378.4 526.57,378.74 527.43,378.74 528.29,378.26 529.14,378.43 530,378.6 530.8,378.59 531.6,379.06 532.4,378.57 533.2,378.32 534,378.47 534.8,377.62 535.6,377.62 536.4,378.79 537.2,378.4" fill="none" stroke="#000" stroke-width="1.2" stroke-linejoin="round" />
<polyline points="389.7,341.3 390.85,338.38 392,334 393,331.72 394,327.29 395,325 396,320.67 397,318.2 398,314 398.83,311.04 399.67,307.6 400.5,304 401.55,299.69 402.6,296 403.55,295.17 404.5,294 405.35,293.92 406.2,293.5 407.1,294.63 408,295.5 409,294 410.3,300 411.15,300.95 412,303 413,304.89 414,307 415,308.33 416,310 416.9,312.36 417.8,314.79 418.7,316 420,314 421,313.5 422,311 423.5,311 425,307 426,305.72 427,303 428.5,299 429.35,296.07 430.2,293 431.5,288 433,284.5 433.9,283.66 434.8,283 435.65,283.13 436.5,284 438,290 439.5,298 441,304 442.1,308.5 443.5,306 445,296 446.5,283 448,272 448.8,270 450,273.5 451.5,283 453,292 454.5,296 455.45,296.66 456.4,298.8 457.2,297.39 458,297.5 459.5,296 461,292 461.8,290.44 462.6,289 464,283 465,277.71 466,273 467,267.81 468,263 469,259.63 470,255 471.5,248 472.8,241 473.8,240 475,244 476,250 477.5,265 479,285 480.5,305 482,321.4 483,327.24 484,333 485,337.1 486,341 487.1,343.33 488.2,346.5 489.1,348.99 490,353 491,355.72 492,359 492.83,360.75 493.67,363.68 494.5,366 495.55,369.05 496.6,370.5 497.8,372.03 499,373 500,373.24 501,374.5 501.97,375.56 502.93,375.84 503.9,375.8 504.93,376.58 505.97,377.25 507,377 507.83,377.59 508.67,377.8 509.5,377.27 510.33,378.44 511.17,378.57 512,378 512.86,377.5 513.71,378.49 514.57,378.47 515.43,378.11 516.29,378.26 517.14,378.24 518,378.3 518.86,379.01 519.71,378.36 520.57,378.92 521.43,378.18 522.29,379.06 523.14,379.11 524,378.5 524.86,378.41 525.71,378.55 526.57,379.09 527.43,378.74 528.29,378.34 529.14,377.88 530,378.3 530.8,377.92 531.6,378.42 532.4,377.47 533.2,378.55 534,377.8 534.8,377.48 535.6,378.56 536.4,377.65 537.2,378" fill="none" stroke="#ff1010" stroke-width="1.2" stroke-linejoin="round" />
<line x1="524.4" y1="343.3" x2="524.4" y2="380.2" stroke="#bbb" stroke-width="0.6" />
<text x="525.4" y="335.7" font-family="Liberation Sans, sans-serif" font-size="7.0" font-weight="bold" fill="#333" text-anchor="middle" >F<tspan font-size="4" dy="1.6">E</tspan></text>
<rect x="389.7" y="220.8" width="147.5" height="159.4" fill="none" stroke="#000" stroke-width="1.3"/>
<line x1="402.45" y1="380.2" x2="402.45" y2="382.8" stroke="#000" stroke-width="1.3" />
<line x1="426.73" y1="380.2" x2="426.73" y2="382.8" stroke="#000" stroke-width="1.3" />
<line x1="451.01" y1="380.2" x2="451.01" y2="382.8" stroke="#000" stroke-width="1.3" />
<line x1="475.29" y1="380.2" x2="475.29" y2="382.8" stroke="#000" stroke-width="1.3" />
<line x1="499.57" y1="380.2" x2="499.57" y2="382.8" stroke="#000" stroke-width="1.3" />
<line x1="523.85" y1="380.2" x2="523.85" y2="382.8" stroke="#000" stroke-width="1.3" />
<line x1="414.59" y1="380.2" x2="414.59" y2="381.6" stroke="#000" stroke-width="1.1700000000000002" />
<line x1="438.87" y1="380.2" x2="438.87" y2="381.6" stroke="#000" stroke-width="1.1700000000000002" />
<line x1="463.15" y1="380.2" x2="463.15" y2="381.6" stroke="#000" stroke-width="1.1700000000000002" />
<line x1="487.43" y1="380.2" x2="487.43" y2="381.6" stroke="#000" stroke-width="1.1700000000000002" />
<line x1="511.71" y1="380.2" x2="511.71" y2="381.6" stroke="#000" stroke-width="1.1700000000000002" />
<text x="402.45" y="392.6" font-family="Liberation Sans, sans-serif" font-size="9.2" font-weight="bold" fill="#111" text-anchor="middle" >20</text>
<text x="426.73" y="392.6" font-family="Liberation Sans, sans-serif" font-size="9.2" font-weight="bold" fill="#111" text-anchor="middle" >16</text>
<text x="451.01" y="392.6" font-family="Liberation Sans, sans-serif" font-size="9.2" font-weight="bold" fill="#111" text-anchor="middle" >12</text>
<text x="475.29" y="392.6" font-family="Liberation Sans, sans-serif" font-size="9.2" font-weight="bold" fill="#111" text-anchor="middle" >8</text>
<text x="499.57" y="392.6" font-family="Liberation Sans, sans-serif" font-size="9.2" font-weight="bold" fill="#111" text-anchor="middle" >4</text>
<text x="523.85" y="392.6" font-family="Liberation Sans, sans-serif" font-size="9.2" font-weight="bold" fill="#111" text-anchor="middle" >0</text>
<text x="468.1" y="407.3" font-family="Liberation Sans, sans-serif" font-size="10.2" font-weight="bold" fill="#111" text-anchor="middle" >Binding energy (eV)</text>
<line x1="393" y1="227.5" x2="407.2" y2="227.5" stroke="#000" stroke-width="1.0" />
<text x="409.3" y="230.6" font-family="Liberation Sans, sans-serif" font-size="7.0" font-weight="normal" fill="#222" text-anchor="start" >PVDF</text>
<line x1="393" y1="235.8" x2="407.2" y2="235.8" stroke="#ff1010" stroke-width="1.3" />
<text x="409.3" y="238.1" font-family="Liberation Sans, sans-serif" font-size="7.0" font-weight="normal" fill="#222" text-anchor="start" >PVDF/CN</text>
<text x="87.8" y="200.5" font-family="Liberation Serif, serif" font-size="10.8" fill="#111" text-anchor="middle">(<tspan font-weight="bold">a</tspan>)</text>
<text x="272" y="201.3" font-family="Liberation Serif, serif" font-size="10.8" fill="#111" text-anchor="middle">(<tspan font-weight="bold">b</tspan>)</text>
<text x="456.7" y="200.8" font-family="Liberation Serif, serif" font-size="10.8" fill="#111" text-anchor="middle">(<tspan font-weight="bold">c</tspan>)</text>
<text x="87.8" y="424.1" font-family="Liberation Serif, serif" font-size="10.8" fill="#111" text-anchor="middle">(<tspan font-weight="bold">d</tspan>)</text>
<text x="272.2" y="424.1" font-family="Liberation Serif, serif" font-size="10.8" fill="#111" text-anchor="middle">(<tspan font-weight="bold">e</tspan>)</text>
<text x="456.9" y="423.9" font-family="Liberation Serif, serif" font-size="10.8" fill="#111" text-anchor="middle">(<tspan font-weight="bold">f</tspan>)</text>
</svg></body></html>
